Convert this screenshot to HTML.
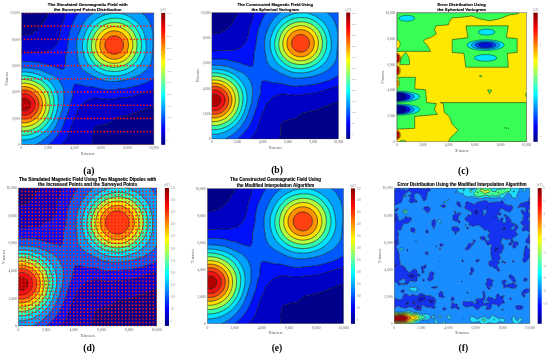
<!DOCTYPE html>
<html><head><meta charset="utf-8"><title>Geomagnetic field figure</title><style>html,body{margin:0;padding:0;background:#fff;}svg{display:block;}</style></head><body>
<svg width="550" height="355" viewBox="0 0 550 355"><defs><linearGradient id="jetg" x1="0" y1="0" x2="0" y2="1"><stop offset="0.000" stop-color="#800000"/><stop offset="0.125" stop-color="#ff0000"/><stop offset="0.250" stop-color="#ff8000"/><stop offset="0.375" stop-color="#ffff00"/><stop offset="0.500" stop-color="#80ff80"/><stop offset="0.625" stop-color="#00ffff"/><stop offset="0.750" stop-color="#0080ff"/><stop offset="0.875" stop-color="#0000ff"/><stop offset="1.000" stop-color="#000080"/></linearGradient></defs><rect width="550" height="355" fill="#fff"/>
<clipPath id="clipa"><rect x="21.50" y="12.90" width="132.40" height="131.90"/></clipPath>
<g clip-path="url(#clipa)">
<path fill="#00008a" d="M93.2 144.8l60.7 0 0-38.6 -4.4 1.2 -3.1 1.1 -15.7 6.1 -4.4 1.1 -9.9 2.1 -1.4 .6 -4.1 3.6 -1.1 .9 -1.1 .5 -1.6 .5 -5.1 1 -2.2 .5 -2.2 .7 -2.2 1.1 -1.1 1.1 -.6 2.2 -.4 3.3 -.3 5.5 -.8 5.5zM22.6 35.1l6.6-.7 2.1-.6 2-1.1 5.9-4.4 2.2-2.2 1.1-1.8 1.7-3.7 2.7-3.5 .9-2 .4-2.2 -26.7 0 0 22.3z"/>
<path fill="#0000c4" d="M62.3 144.8l29.9 0 .8-5.5 .3-5.5 .4-3.3 .6-2.2 1.1-1.1 2.2-1.1 2.2-.7 2.2-.5 5.1-1 1.6-.5 1.1-.5 1.1-.9 4.1-3.6 1.4-.6 9.9-2.1 4.4-1.1 15.7-6.1 3.1-1.1 4.4-1.2 0-16.9 -18.8 6.1 -6.6 1.5 -12.1 1.3 -4.4 .9 -2.2 .2 -5.6-.2 -7.7-1.1 -2.2-.1 -3.1 .7 -5.7 2.4 -1.1 .9 -1.8 2.2 -2.7 2.2 -1 1.1 -.6 1.1 -2.4 6.6 -2.2 4.4 -1.4 3.7 -2.6 8.4 -1.2 3.3 -2.6 4.4 -4.4 5.5zM22.6 52.9l6.6 0 6.6-.6 5.6 .4 2.2-.2 4.4-1.7 3.3-.5 4.1-4.4 1.4-1.8 1.1-1.9 .6-1.8 3.1-14.3 1.8-4.4 1.4-5.5 1.1-3.3 -17.7 0 -.4 2.2 -.9 2 -2.7 3.5 -1.7 3.7 -1.1 1.8 -2.2 2.2 -5.9 4.4 -2 1.1 -2.1 .6 -7.7 .8 0 17.8z"/>
<path fill="#0010f8" d="M49.1 144.8l12.4 0 .8-.9 3.6-4.6 2.6-4.4 1.2-3.3 2.6-8.4 1.4-3.7 2.2-4.4 2.4-6.6 .6-1.1 1-1.1 2.7-2.2 1.8-2.2 1.1-.9 5.7-2.4 3.1-.7 2.2 .1 7.7 1.1 5.6 .2 2.2-.2 4.4-.9 12.1-1.3 5.5-1.2 17.7-5.6 2.2-.8 0-11 -2.3 1.6 -4.3 2.3 -5.5 2.2 -5.6 1.7 -5.5 1.3 -4.4 .8 -15.4 1.7 -3.3-.1 -3.4-.4 -3.3-.6 -7.7-1.9 -7.7-.7 -6.6-1.7 -3.3-.4 -1.1 .1 -.9 1.2 -.2 1.1 -.8 5.5 0 3.3 -.3 2.2 -1.9 5.5 -1.7 7.7 -5.7 15.4 -2.1 4.4 -3 4.4 -4.4 5 -5.3 4.9zM61.2 69.0l1.1 .3 1.1-.1 1-1.3 .3-1.1 .6-4.4 .3-6.6 1.7-7.7 1.2-11 1.4-6.6 4.5-11 1.8-3.3 2.3-3.3 -12.6 0 -1.1 3.3 -1.4 5.5 -1.8 4.4 -2.6 12.4 -1.1 3.7 -1.1 1.9 -1.1 1.4 -4.4 4.8 -3.3 .5 -3.3 1.4 -2.2 .5 -6.7-.4 -6.6 .6 -7.7 .1 0 8.4 6.6 0 8.8 .7 7.8 2 5.5 1.1 5.5 2.3 5.3 1.5z"/>
<path fill="#0058ff" d="M35.8 144.8l12.4 0 4.2-3.8 3.3-3.5 2.2-2.6 2.3-3.3 1.8-3.3 1.5-3.3 5.2-14.3 1.7-7.7 1.9-5.5 .3-2.2 0-3.3 .8-5.5 .2-1.1 .9-1.2 1.1-.1 3.3 .4 6.6 1.7 7.7 .7 7.7 1.9 3.3 .6 3.4 .4 3.3 .1 15.4-1.7 4.4-.8 5.5-1.3 5.6-1.7 5.5-2.2 4.3-2.3 2.3-1.6 0-65.4 -12.3 0 3.8 3.3 1.9 2.2 1.5 2.2 2.1 4.4 1.5 5.5 .7 5.5 0 5.5 -1.1 16.5 -.9 4.4 -1 2.2 -2.2 3.3 -1.9 2.2 -2 1.7 -2.2 1.6 -3.3 2 -3.4 1.5 -3.3 1.3 -3.3 1.1 -4.4 1 -6.6 1 -7.7 .2 -2.2-.2 -3.4-.7 -4.4-1.4 -3.3-1.4 -3.3-1.6 -5.1-2.8 -2.6-1.7 -2.2-1.7 -2-2.1 -1.3-2 -1.1-2.4 -.9-3.3 -1.2-8.8 -.2-4.4 .1-4.4 .3-3.3 .7-3.3 3.6-8.8 1.1-2.2 2-3.2 1.8-2.3 2-2.2 2.8-2.5 2.6-1.9 -15.1 0 -1.8 2.6 -1.8 2.9 -1.5 3.3 -3.1 7.7 -1 3.3 -1.1 6.6 -.7 7.7 -1.9 8.8 -.3 6.6 -.4 3.3 -.5 2.2 -1 1.3 -1.1 .1 -5.5-1.4 -6.6-2.7 -5.5-1.1 -7.8-2 -8.8-.7 -6.6 0 0 6.5 3.3-.1 4.4 .2 8.8 1.3 5.6 2 7.7 3.5 3.3 1.8 3.3 2.9 2.2 2.7 2.2 3.9 1.2 3.7 .3 3.3 0 6.6 -.2 3.3 -.4 3.3 -3.4 11 -1.8 4.4 -1.5 3.3 -1.9 3.2 -1.6 2.3 -2.7 3.3 -2.3 2.4 -3.3 2.8 -3.3 2.5 -3.4 1.9 -2.8 1.4z"/>
<path fill="#00a0ff" d="M22.6 144.8l12.6 0 4-2 3.7-2.4 4-3.2 3.4-3.4 2.7-3.3 2.2-3.3 1.8-3.3 1.5-3.3 2-5.5 2.4-7.7 .6-3.3 .3-4.4 0-7.7 -.3-2.2 -.6-2.2 -1.4-3.3 -1.4-2.2 -2.2-2.6 -2.2-2 -2.2-1.6 -2.2-1.1 -7.7-3.5 -4.4-1.7 -3.4-.7 -5.5-.8 -6.6-.3 -2.2 .1 0 4.2 3.3-.1 4.4 .4 4.4 .8 4.4 1.2 3.4 1.4 3.3 1.9 3 2.2 2.5 2.2 1.9 2.2 1.6 2.2 1.3 2.2 1.5 3.3 .7 2.2 .7 3.3 .4 3.3 0 2.2 -.4 3.3 -.9 4.4 -.9 3.3 -1.2 3.3 -2.7 5.5 -2 3 -2.1 2.5 -2.3 2.4 -3.3 2.7 -3.3 2.2 -3.4 1.6 -3.3 1.3 -4.4 1.1 -3.3 .3 -3.3 .1 0 4.8zM106.5 81.1l2.2 .3 2.2 .1 5.5-.2 4.4-.4 6.6-1.3 6.6-2.2 5.6-2.6 4.4-3 2-1.7 1.9-2.2 2.7-4.2 .8-2.4 .6-3.3 1.1-15.4 0-6.6 -.7-5.5 -1.5-5.5 -2.1-4.4 -1.5-2.2 -1.9-2.2 -3.8-3.3 -48 0 -3.7 2.8 -2.7 2.7 -2.8 3.4 -2.6 4.3 -3.3 7.7 -.8 2.2 -.7 3.3 -.3 3.3 -.1 5.5 .4 5.5 1 6.6 1.3 4.4 1.2 2.2 1.7 2.2 2.5 2.2 3.4 2.2 5.1 2.8 4.4 2.1 5.5 2 3.2 .7zM107.9 75.6l-2.5-.6 -3.4-1.1 -3.3-1.5 -2.2-1.3 -4.4-3.2 -2.3-2.2 -1.8-2.2 -1.4-2.2 -1.7-3.3 -.8-2.2 -.9-3.3 -.6-3.3 -.2-3.3 .2-3.3 .3-2.2 .5-2.2 1.6-4.4 1.5-3.3 1.2-2.2 2.2-3.1 2.1-2.4 2.3-2.1 2.2-1.7 2.2-1.3 3.3-1.7 3.4-1.2 2.2-.6 3.3-.6 3.3-.3 3.3 0 3.3 .2 2.2 .5 3.3 1.1 3.3 1.7 2.2 1.3 4.7 3.6 2.1 2.2 2.1 2.7 1.6 2.8 1 2.2 1.2 3.3 .8 3.3 .6 3.3 .4 4.4 -.1 3.3 -.3 2.2 -.4 2.2 -1.1 3.3 -.9 2.2 -1.9 3.3 -1.6 2.2 -2 2.2 -2.5 2.2 -2.6 1.7 -2.7 1.6 -2.8 1.2 -5.5 1.7 -3.3 .5 -3.3 .3 -6.6-.3z"/>
<path fill="#00e4ff" d="M22.6 140.0l3.3-.1 3.3-.6 3.3-.8 3.3-1.3 3.4-1.6 2.2-1.4 3.3-2.5 2.4-2.3 2-2.2 2.2-3 1.5-2.5 1.7-3.3 1.6-4.4 .9-3.3 .9-4.4 .4-3.3 0-2.2 -.4-3.3 -.7-3.3 -1.2-3.3 -1.4-2.9 -1.6-2.6 -1.8-2.2 -2.1-2.1 -4.4-3.4 -3.3-1.9 -2.2-1 -3.4-1 -4.4-1.1 -3.3-.4 -3.3-.3 -3.3 .1 0 3.8 3.3-.1 4.4 .4 3.3 .7 3.3 1.1 3.4 1.3 3.3 1.9 2.7 2 2.2 2.2 1.8 2.2 1.4 2.2 2.1 4.4 1 4.4 .2 2.2 0 3.3 -.7 5.5 -1.6 5.5 -1.4 3.2 -1.3 2.3 -3.3 4.4 -2.2 2.2 -3.1 2.6 -3 1.8 -2.6 1.3 -3.3 1.2 -3.3 .8 -3.3 .3 -3.3 0 0 4.8zM108.7 75.7l6.6 .3 3.3-.3 3.3-.5 5.5-1.7 2.8-1.2 2.7-1.6 2.6-1.7 2.5-2.2 2-2.2 1.6-2.2 1.9-3.3 .9-2.2 1.1-3.3 .4-2.2 .3-2.2 .1-3.3 -.4-4.4 -.6-3.3 -.8-3.3 -1.2-3.3 -1-2.2 -1.6-2.8 -2.1-2.7 -2.1-2.2 -4.7-3.6 -2.2-1.3 -3.3-1.7 -3.3-1.1 -2.2-.5 -3.3-.2 -3.3 0 -3.3 .3 -3.3 .6 -2.2 .6 -3.4 1.2 -3.3 1.7 -2.2 1.3 -2.2 1.7 -2.3 2.1 -2.1 2.4 -2.2 3.1 -1.2 2.2 -1.5 3.3 -1.6 4.4 -.5 2.2 -.3 2.2 -.2 3.3 .2 3.3 .6 3.3 .9 3.3 .8 2.2 1.7 3.3 1.4 2.2 1.8 2.2 2.3 2.2 4.4 3.2 2.2 1.3 3.3 1.5 3.4 1.1 2.5 .6zM109.9 71.2l-3.4-.6 -2.3-.7 -4.3-2 -2.3-1.5 -2.2-1.8 -3.1-3.3 -1.5-2.2 -1.2-2.2 -1.7-4.4 -.5-2.2 -.4-3.3 0-2.2 .2-2.2 .8-3.3 1-3.3 2-4.3 1.5-2.3 1.8-2.2 3.3-3.2 2.2-1.5 2.2-1.3 2.2-1 3.4-1.1 2.2-.5 3.3-.4 3.3-.1 2.2 .2 3.3 .6 2.2 .6 2.2 .9 2.2 1.1 2.2 1.4 2.2 1.9 3.3 3.8 2.5 4.1 1 2.2 1.1 3.3 .6 3.3 .1 2.2 0 2.2 -.3 3.3 -.7 3.3 -.7 2.2 -2.1 4.4 -1.5 2.2 -2 2.2 -3.5 3 -2.2 1.4 -2.2 1.1 -2.2 .9 -3.3 .9 -4.4 .7 -2.2 0 -3.3-.2z"/>
<path fill="#30ffb0" d="M22.6 135.3l3.3-.1 3.3-.6 3.1-.8 2.4-.9 2.6-1.3 3-1.8 2.2-1.7 2.2-2.1 1.8-2.1 1.7-2.2 1.9-3.3 1.2-2.5 1.1-3 .8-3.3 .5-3.3 .3-3.3 -.1-3.3 -.3-2.2 -1.4-4.4 -1.6-3.3 -1.4-2.2 -1.8-2.2 -1.6-1.6 -2.2-1.8 -2.2-1.5 -4.5-2.1 -5.5-1.8 -3.3-.5 -3.3-.3 -3.3 .1 0 3.7 3.3-.1 3.3 .3 3.3 .7 3.3 1.1 3.3 1.6 2.3 1.5 2.3 1.8 2.1 2.2 2.3 3.3 1.1 2.2 .8 2.2 .9 4.4 .1 4.4 -.2 2.2 -.7 3.3 -1.5 4.4 -2.5 4.4 -2.5 3.1 -2.2 2.1 -2.3 1.7 -2.2 1.3 -3.3 1.6 -2.2 .7 -3.3 .7 -2.2 .2 -3.3 0 0 4.3zM110.9 71.3l3.3 .2 2.2 0 4.4-.7 3.3-.9 2.2-.9 2.2-1.1 2.2-1.4 3.5-3 2-2.2 1.5-2.2 2.1-4.4 .7-2.2 .7-3.3 .3-3.3 0-2.2 -.1-2.2 -.6-3.3 -1.1-3.3 -1-2.2 -2.5-4.1 -3.3-3.8 -2.2-1.9 -2.2-1.4 -2.2-1.1 -2.2-.9 -2.2-.6 -3.3-.6 -2.2-.2 -3.3 .1 -3.3 .4 -2.2 .5 -3.4 1.1 -2.2 1 -2.2 1.3 -2.2 1.5 -3.3 3.2 -1.8 2.2 -1.5 2.3 -2 4.3 -1 3.3 -.8 3.3 -.2 2.2 0 2.2 .4 3.3 .5 2.2 1.7 4.4 1.2 2.2 1.5 2.2 3.1 3.3 2.2 1.8 2.3 1.5 4.3 2 2.3 .7 3.4 .6zM109.4 66.8l-2.9-.8 -2.3-.8 -3.3-1.7 -3.3-2.7 -1.5-1.7 -1.6-2.2 -1.6-3.3 -.8-2.2 -.5-2.2 -.2-2.2 .1-2.2 .6-4.4 .6-2.2 .9-2.2 1.8-3.3 1.7-2.2 1.6-1.7 3.3-2.6 2.2-1.3 2.3-.9 4.4-1.2 4.4-.3 4.4 .5 4.4 1.4 3.3 1.9 3.3 2.7 1.4 1.5 1.5 2.2 1.2 2.2 .9 2.2 1.1 4.4 .2 4.4 -.6 4.4 -.6 2.2 -.9 2.2 -2 3.3 -2.8 3.3 -1.6 1.3 -2.2 1.5 -3.3 1.6 -4.4 1.2 -4.4 .4 -4.4-.5z"/>
<path fill="#b0ff40" d="M22.6 131.0l3.3-.2 2.2-.3 4.4-1.2 4.4-2.2 2.3-1.5 2.2-1.9 1.9-2 1.7-2.2 2.5-4.4 1.5-4.4 .7-3.3 .2-2.2 0-2.2 -.3-3.3 -1.1-4.4 -.9-2.2 -1.2-2.2 -2.6-3.3 -2.4-2.1 -1.6-1.2 -2.9-1.6 -2.2-1.1 -4.4-1.4 -3.3-.5 -2.2-.2 -3.3 .1 0 3.7 2.2-.2 3.3 .2 2.2 .4 3.3 1 2.2 1 3.1 1.9 1.4 1.1 2.2 2.3 2.2 3.2 1.4 3.3 .8 3.3 .3 4.4 -.7 4.4 -1.1 3.3 -1.7 3.3 -2.5 3.3 -2.1 2 -2.2 1.6 -2.2 1.3 -2.2 .9 -4.4 1.2 -2.2 .3 -3.3-.1 0 4.2zM109.8 66.8l4.4 .5 4.4-.4 4.4-1.2 3.3-1.6 2.2-1.5 1.6-1.3 2.8-3.3 2-3.3 .9-2.2 .6-2.2 .6-4.4 -.2-4.4 -1.1-4.4 -.9-2.2 -1.2-2.2 -1.5-2.2 -1.4-1.5 -3.3-2.7 -3.3-1.9 -4.4-1.4 -4.4-.5 -4.4 .3 -4.4 1.2 -2.3 .9 -2.2 1.3 -3.3 2.6 -1.6 1.7 -1.7 2.2 -1.8 3.3 -.9 2.2 -.6 2.2 -.6 4.4 -.1 2.2 .2 2.2 .5 2.2 .8 2.2 1.6 3.3 1.6 2.2 1.5 1.7 3.3 2.7 3.3 1.7 2.3 .8 2.9 .8zM108.3 62.4l-2.9-1.3 -3.4-2 -2.3-2.2 -2.2-3.3 -1.2-3.3 -.6-3.3 .1-4.4 .8-3.3 1.5-3.3 2.5-3.3 2.5-2.4 3.4-1.9 3.3-1.2 3.3-.6 2.2 0 2.2 .2 3.3 .9 3.3 1.5 3.1 2.4 1.9 2.2 2 3.3 1.2 3.3 .5 3.3 0 2.2 -.2 2.2 -.9 3.3 -1.6 3.3 -1.6 2.2 -2.2 2.2 -3.3 2.2 -3.3 1.3 -3.3 .6 -2.2 .1 -2.2-.1 -3.3-.7z"/>
<path fill="#ffe000" d="M22.6 126.8l4.4-.3 3.3-.8 2.2-.8 2.2-1.1 3.3-2.3 3-3.1 1.5-2 1.1-1.9 1.5-3.8 .9-4.4 0-4.4 -.6-3.3 -.8-2.2 -1-2.2 -2.3-3.3 -3.3-3.1 -3.3-2.1 -4.4-1.7 -4.4-.8 -4.4 .1 0 3.5 2.2-.2 2.2 .1 3.3 .6 2.2 .7 2.2 1.1 3.3 2.5 1.5 1.5 1.6 2.2 1.6 3.3 .7 3.3 .2 2.2 -.1 2.2 -.7 3.3 -1.3 3.3 -1.4 2.2 -2.1 2.4 -3.3 2.6 -3.3 1.6 -2.2 .7 -2.2 .4 -2.2 .1 -2.2-.2 0 4zM108.7 62.5l3.3 .7 2.2 .1 2.2-.1 3.3-.6 3.3-1.3 3.3-2.2 2.2-2.2 1.6-2.2 1.6-3.3 .9-3.3 .2-2.2 0-2.2 -.5-3.3 -1.2-3.3 -2-3.3 -1.9-2.2 -3.1-2.4 -3.3-1.5 -3.3-.9 -2.2-.2 -2.2 0 -3.3 .6 -3.3 1.2 -3.4 1.9 -2.5 2.4 -2.5 3.3 -1.5 3.3 -.8 3.3 -.1 4.4 .6 3.3 1.2 3.3 2.2 3.3 2.3 2.2 3.4 2 2.9 1.3zM112.1 59.1l-3.4-1 -2.2-1.1 -2.3-1.7 -1.5-1.7 -1.8-3 -.8-2.5 -.3-2.2 .2-3.3 .6-2.2 1.4-2.9 1.2-1.5 2.3-2.2 2.1-1.3 3.3-1.3 2.2-.4 3.3 .1 2.7 .7 2.4 1.1 1.6 1.1 2.3 2.2 1.5 2.2 1.2 3.3 .4 2.2 -.1 3.3 -.8 3.3 -1.1 2.2 -1.7 2.2 -1.8 1.6 -2.2 1.4 -2.2 .9 -2.2 .5 -3.3 .1z"/>
<path fill="#ff9000" d="M22.6 122.9l3.3-.1 3.3-.7 3.3-1.4 3.3-2.2 2.4-2.3 2.2-3.3 1.3-3.3 .7-3.3 .1-3.3 -.6-3.3 -1.3-3.3 -2.2-3.3 -2.6-2.5 -3.3-2.1 -3.3-1.2 -3.3-.6 -2.2-.1 -2.2 .2 0 3.5 3.3-.3 3.3 .5 3.3 1.3 2.1 1.3 1.2 1.1 2.2 2.8 1.3 2.7 .8 3.3 -.1 3.3 -.8 3.3 -1.1 2.2 -1.6 2.2 -2.4 2.2 -2.7 1.6 -3.3 1.1 -3.3 .3 -2.2-.2 0 3.7 .8 .1zM113.1 59.2l3.3-.1 2.2-.5 2.2-.9 2.2-1.4 1.8-1.6 1.7-2.2 1.1-2.2 .8-3.3 .1-3.3 -.4-2.2 -1.2-3.3 -1.5-2.2 -2.3-2.2 -1.6-1.1 -2.4-1.1 -2.7-.7 -3.3-.1 -2.2 .4 -3.3 1.3 -2.1 1.3 -2.3 2.2 -1.2 1.5 -1.4 2.9 -.6 2.2 -.2 3.3 .3 2.2 .8 2.5 1.8 3 1.5 1.7 2.3 1.7 2.2 1.1 3.4 1zM110.6 53.6l-1.9-1.1 -1.4-1.1 -.9-1.1 -1-2.1 -.4-1.2 -.2-2.2 .3-2.2 .4-1.1 1-1.7 1.1-1.3 1.8-1.4 1.5-.7 1.3-.4 2-.2 2.1 .2 1.2 .3 1.5 .8 1.8 1.3 1.1 1.4 .9 1.7 .4 1.1 .3 2.2 -.2 2.2 -.3 1.1 -1.1 2.2 -.9 1.1 -1.3 1.1 -1.9 1.1 -1.4 .4 -2.2 .3 -2.2-.3 -1.1-.3z"/>
<path fill="#ff4010" d="M22.6 119.1l3.3 0 2.2-.5 3.2-1.3 2.3-1.6 1.8-1.7 1.6-2.2 1.1-2.2 .8-3.3 .1-2.2 -.4-3.3 -1.4-3.3 -1.4-2 -2.2-2.2 -2.2-1.5 -2.2-1 -3.3-.7 -2.2 0 -2.2 .2 0 3.8 3.3-.4 2.2 .3 2.2 .8 2.5 1.6 1.9 2.2 1.1 2.2 .5 2.2 -.1 3.3 -.6 2.2 -1.3 2.2 -.9 1.1 -2 1.7 -2.2 1.1 -2.2 .6 -2.2 .1 -2.2-.3 0 4zM110.9 53.7l1.1 .3 2.2 .3 2.2-.3 1.4-.4 1.9-1.1 1.3-1.1 .9-1.1 1.1-2.2 .3-1.1 .2-2.2 -.3-2.2 -.4-1.1 -.9-1.7 -1.1-1.4 -1.8-1.3 -1.5-.8 -1.2-.3 -2.1-.2 -2 .2 -1.3 .4 -1.5 .7 -1.8 1.4 -1.1 1.3 -1 1.7 -.4 1.1 -.3 2.2 .2 2.2 .4 1.2 1 2.1 .9 1.1 1.4 1.1 1.9 1.1z"/>
<path fill="#f01010" d="M22.6 115.2l2.2 .1 2.2-.3 2.2-.9 1.1-.6 2-1.7 .9-1.1 1.3-2.2 .6-2.2 .2-2.2 -.3-2.2 -.3-1.1 -1.1-2.2 -1.1-1.3 -2.2-1.9 -2.2-1 -1.1-.4 -2.2-.3 -3.3 .4 0 4.7 1.1-.4 2.2-.3 2.2 .5 1.8 1.1 1 1.1 .9 2.2 .1 2.2 -.2 1.1 -.5 1.1 -.9 1.3 -1.1 .9 -1.1 .7 -1.1 .3 -2.2 .2 -2.2-.6 0 4.8 .5 .1z"/>
<path fill="#b00000" d="M23.7 110.8l2.2-.2 2.2-1 1.1-.9 .9-1.3 .7-2.2 -.1-2.2 -.9-2.2 -1.7-1.6 -2.2-1 -2.2-.1 -2.2 .7 0 11.4 1.7 .5z"/>
<path fill="none" stroke="#000" stroke-width="0.55" d="M92.2 144.8l.8-5.5 .3-5.5 .4-3.3 .6-2.2 1.1-1.1 2.2-1.1 2.2-.7 2.2-.5 5.1-1 1.6-.5 1.1-.5 1.1-.9 4.1-3.6 1.4-.6 9.9-2.1 4.4-1.1 15.7-6.1 3.1-1.1 4.4-1.2M48.2 12.9l-.4 2.2 -.9 2 -2.7 3.5 -1.7 3.7 -1.1 1.8 -2.2 2.2 -5.9 4.4 -2 1.1 -2.1 .6 -7.7 .8M61.5 144.8l4.4-5.5 2.6-4.4 1.2-3.3 2.6-8.4 1.4-3.7 2.2-4.4 2.4-6.6 .6-1.1 1-1.1 2.7-2.2 1.8-2.2 1.1-.9 5.7-2.4 3.1-.7 2.2 .1 7.7 1.1 5.6 .2 2.2-.2 4.4-.9 12.1-1.3 6.6-1.5 18.8-6.1M65.9 12.9l-1.1 3.3 -1.4 5.5 -1.8 4.4 -2.6 12.4 -1.1 3.7 -1.1 1.9 -1.1 1.4 -4.4 4.8 -3.3 .5 -3.3 1.4 -2.2 .5 -6.7-.4 -6.6 .6 -7.7 .1M48.2 144.8l5.3-4.9 4.4-5 3-4.4 2.1-4.4 5.7-15.4 1.7-7.7 1.9-5.5 .3-2.2 0-3.3 .8-5.5 .2-1.1 .9-1.2 1.1-.1 3.3 .4 6.6 1.7 7.7 .7 7.7 1.9 3.3 .6 3.4 .4 3.3 .1 15.4-1.7 4.4-.8 5.5-1.3 5.6-1.7 5.5-2.2 4.3-2.3 2.3-1.6M78.5 12.9l-2.3 3.3 -1.8 3.3 -4.1 9.9 -.7 2.2 -1.2 6.6 -.9 8.8 -1.9 8.8 -.3 6.6 -.4 3.3 -.5 2.2 -.7 1.1 -.3 .2 -1.1 .1 -1.1-.3 -5.5-1.5 -5.5-2.3 -5.5-1.1 -7.8-2 -8.8-.7 -6.6 0M35.2 144.8l2.8-1.4 3.4-1.9 3.3-2.5 3.3-2.8 2.3-2.4 2.7-3.3 1.6-2.3 1.9-3.2 1.5-3.3 1.8-4.4 3.4-11 .4-3.3 .2-3.3 0-6.6 -.3-3.3 -.6-2.2 -.9-2.2 -1.2-2.2 -1.5-2.2 -1.4-1.5 -2.2-2 -3.3-2.2 -9.9-4.5 -4.5-1.5 -8.8-1.3 -4.4-.2 -3.3 .1M93.6 12.9l-2.6 1.9 -2.8 2.5 -2 2.2 -1.8 2.3 -2 3.2 -1.1 2.2 -3.6 8.8 -.5 2.2 -.4 3.3 -.2 6.6 .4 5.5 1.2 7.7 1.1 3.3 1.8 3 2.3 2.5 3.2 2.3 6.6 3.8 6.6 3 5.6 1.7 3.3 .5 2.2 .1 6.6-.2 6.6-1 6.6-1.7 5.5-2.2 4.5-2.3 4.1-2.9 3.1-3.3 1.6-2.2 1.2-2.2 .7-2.2 .6-3.3 1.1-15.4 0-6.6 -.7-5.5 -1.5-5.5 -2.1-4.4 -1.5-2.2 -1.9-2.2 -3.8-3.3M21.5 140.0l3.3-.1 3.3-.3 3.3-.8 3.3-1.1 3.3-1.5 3.4-2 3.3-2.5 2.4-2.3 2-2.2 2.4-3.3 1.9-3.3 1.5-3.3 1.5-4.4 .9-3.3 .8-4.4 .2-3.3 -.2-3.3 -.6-3.3 -1-3.3 -.9-2.2 -1.9-3.3 -1.6-2.2 -1.9-2.2 -2.5-2.2 -2.9-2.1 -2.3-1.4 -2.2-1.1 -3.4-1.2 -4.4-1.1 -3.3-.6 -4.4-.4 -3.3 .1M108.7 75.7l6.6 .3 3.3-.3 3.3-.5 5.5-1.7 2.8-1.2 2.7-1.6 2.6-1.7 2.5-2.2 2-2.2 1.6-2.2 1.9-3.3 .9-2.2 1.1-3.3 .4-2.2 .3-2.2 .1-3.3 -.4-4.4 -.6-3.3 -.8-3.3 -1.2-3.3 -1-2.2 -1.6-2.8 -2.1-2.7 -2.1-2.2 -4.7-3.6 -2.2-1.3 -3.3-1.7 -3.3-1.1 -2.2-.5 -3.3-.2 -3.3 0 -3.3 .3 -3.3 .6 -2.2 .6 -3.4 1.2 -3.3 1.7 -2.2 1.3 -2.2 1.7 -2.3 2.1 -2.1 2.4 -2.2 3.1 -1.2 2.2 -1.5 3.3 -1.6 4.4 -.5 2.2 -.3 2.2 -.2 3.3 .2 3.3 .6 3.3 .9 3.3 .8 2.2 1.7 3.3 1.4 2.2 1.8 2.2 2.3 2.2 4.4 3.2 2.2 1.3 3.3 1.5 3.4 1.1 2.5 .6zM21.5 135.2l3.3 0 3.3-.3 3.3-.8 2.2-.8 3.3-1.5 2.3-1.3 3-2.2 2.5-2.3 2.2-2.5 2-2.9 1.3-2.3 1.4-3.2 1.1-3.3 .7-3.3 .4-3.3 .2-3.3 -.3-3.3 -.4-2.2 -.9-2.9 -1.1-2.5 -1.3-2.3 -1.6-2.2 -2.1-2.2 -1.6-1.5 -2.2-1.6 -2.2-1.3 -3.4-1.5 -3.3-1.2 -3.3-.8 -3.3-.5 -3.3-.1 -2.2 .1M110.9 71.3l3.3 .2 2.2 0 4.4-.7 3.3-.9 2.2-.9 2.2-1.1 2.2-1.4 3.5-3 2-2.2 1.5-2.2 2.1-4.4 .7-2.2 .7-3.3 .3-3.3 0-2.2 -.1-2.2 -.6-3.3 -1.1-3.3 -1-2.2 -2.5-4.1 -3.3-3.8 -2.2-1.9 -2.2-1.4 -2.2-1.1 -2.2-.9 -2.2-.6 -3.3-.6 -2.2-.2 -3.3 .1 -3.3 .4 -2.2 .5 -3.4 1.1 -2.2 1 -2.2 1.3 -2.2 1.5 -3.3 3.2 -1.8 2.2 -1.5 2.3 -2 4.3 -1 3.3 -.8 3.3 -.2 2.2 0 2.2 .4 3.3 .5 2.2 1.7 4.4 1.2 2.2 1.5 2.2 3.1 3.3 2.2 1.8 2.3 1.5 4.3 2 2.3 .7 3.4 .6zM21.5 130.9l3.3 0 2.2-.2 3.3-.7 2.2-.7 4.4-2.2 2.3-1.5 2.2-1.9 1.9-2 1.7-2.2 2.5-4.4 .8-2.2 1-3.3 .5-3.3 .1-2.2 -.1-3.3 -.4-2.2 -1.3-4.4 -1.1-2.2 -1.4-2.2 -3.1-3.4 -2.2-1.7 -2.3-1.5 -2.2-1.1 -3.3-1.3 -2.2-.6 -3.3-.5 -3.3-.2 -2.2 .1M109.8 66.8l4.4 .5 4.4-.4 4.4-1.2 3.3-1.6 2.2-1.5 1.6-1.3 2.8-3.3 2-3.3 .9-2.2 .6-2.2 .6-4.4 -.2-4.4 -1.1-4.4 -.9-2.2 -1.2-2.2 -1.5-2.2 -1.4-1.5 -3.3-2.7 -3.3-1.9 -4.4-1.4 -4.4-.5 -4.4 .3 -4.4 1.2 -2.3 .9 -2.2 1.3 -3.3 2.6 -1.6 1.7 -1.7 2.2 -1.8 3.3 -.9 2.2 -.6 2.2 -.6 4.4 -.1 2.2 .2 2.2 .5 2.2 .8 2.2 1.6 3.3 1.6 2.2 1.5 1.7 3.3 2.7 3.3 1.7 2.3 .8 2.9 .8zM21.5 126.7l3.3 .1 2.2-.3 4.4-1.2 2.2-.9 2.2-1.3 3.2-2.5 2.9-3.3 1.4-2.2 1-2.2 1.4-4.4 .4-4.4 -.5-4.4 -.6-2.2 -.9-2.2 -1.9-3.3 -3-3.3 -2.3-1.7 -2.2-1.3 -4.4-1.7 -4.4-.8 -4.4 .1M108.7 62.5l3.3 .7 2.2 .1 2.2-.1 3.3-.6 3.3-1.3 3.3-2.2 2.2-2.2 1.6-2.2 1.6-3.3 .9-3.3 .2-2.2 0-2.2 -.5-3.3 -1.2-3.3 -2-3.3 -1.9-2.2 -3.1-2.4 -3.3-1.5 -3.3-.9 -2.2-.2 -2.2 0 -3.3 .6 -3.3 1.2 -3.4 1.9 -2.5 2.4 -2.5 3.3 -1.5 3.3 -.8 3.3 -.1 4.4 .6 3.3 1.2 3.3 2.2 3.3 2.3 2.2 3.4 2 2.9 1.3zM21.5 122.7l3.3 .2 2.2-.3 2.2-.5 3.3-1.4 3.5-2.3 1.2-1.1 1.8-2.2 1.9-3.3 1.1-3.3 .4-2.2 .1-2.2 -.2-2.2 -.4-2.2 -1.3-3.3 -2.2-3.3 -2.2-2.2 -3.3-2.2 -3.7-1.4 -3.3-.6 -2.2-.1 -2.2 .2M113.1 59.2l3.3-.1 2.2-.5 2.2-.9 2.2-1.4 1.8-1.6 1.7-2.2 1.1-2.2 .8-3.3 .1-3.3 -.4-2.2 -1.2-3.3 -1.5-2.2 -2.3-2.2 -1.6-1.1 -2.4-1.1 -2.7-.7 -3.3-.1 -2.2 .4 -3.3 1.3 -2.1 1.3 -2.3 2.2 -1.2 1.5 -1.4 2.9 -.6 2.2 -.2 3.3 .3 2.2 .8 2.5 1.8 3 1.5 1.7 2.3 1.7 2.2 1.1 3.4 1zM21.5 119.0l3.3 .2 3.3-.6 3.2-1.3 2.3-1.6 2.2-2.2 1.8-2.8 1.1-3.3 .3-3.3 -.4-3.3 -.8-2.2 -2-3.1 -2.2-2.2 -2.2-1.5 -3.3-1.3 -3.3-.5 -3.3 .3M110.9 53.7l1.1 .3 2.2 .3 2.2-.3 1.4-.4 1.9-1.1 1.3-1.1 .9-1.1 1.1-2.2 .3-1.1 .2-2.2 -.3-2.2 -.4-1.1 -.9-1.7 -1.1-1.4 -1.8-1.3 -1.5-.8 -1.2-.3 -2.1-.2 -2 .2 -1.3 .4 -1.5 .7 -1.8 1.4 -1.1 1.3 -1 1.7 -.4 1.1 -.3 2.2 .2 2.2 .4 1.2 1 2.1 .9 1.1 1.4 1.1 1.9 1.1zM21.5 115.0l2.2 .3 3.3-.3 2.2-.9 1.9-1.2 2.1-2.2 1.3-2.2 .6-2.2 .2-2.2 -.6-3 -1.1-2.4 -1.1-1.4 -2.2-1.9 -2.2-1 -2.2-.6 -2.2 0 -2.2 .3M21.5 110.2l1.1 .4 2.2 .2 2.2-.5 1.1-.7 1.1-.9 .9-1.3 .5-1.1 .3-2.2 -.5-2.2 -.6-1.1 -1.7-1.6 -1.1-.6 -2.2-.5 -2.2 .3 -1.1 .4"/><path d="M21.50 144.80h0M24.81 144.80h0M28.12 144.80h0M31.43 144.80h0M34.74 144.80h0M38.05 144.80h0M41.36 144.80h0M44.67 144.80h0M47.98 144.80h0M51.29 144.80h0M54.60 144.80h0M57.91 144.80h0M61.22 144.80h0M64.53 144.80h0M67.84 144.80h0M71.15 144.80h0M74.46 144.80h0M77.77 144.80h0M81.08 144.80h0M84.39 144.80h0M87.70 144.80h0M91.01 144.80h0M94.32 144.80h0M97.63 144.80h0M100.94 144.80h0M104.25 144.80h0M107.56 144.80h0M110.87 144.80h0M114.18 144.80h0M117.49 144.80h0M120.80 144.80h0M124.11 144.80h0M127.42 144.80h0M130.73 144.80h0M134.04 144.80h0M137.35 144.80h0M140.66 144.80h0M143.97 144.80h0M147.28 144.80h0M150.59 144.80h0M153.90 144.80h0M21.50 131.61h0M24.81 131.61h0M28.12 131.61h0M31.43 131.61h0M34.74 131.61h0M38.05 131.61h0M41.36 131.61h0M44.67 131.61h0M47.98 131.61h0M51.29 131.61h0M54.60 131.61h0M57.91 131.61h0M61.22 131.61h0M64.53 131.61h0M67.84 131.61h0M71.15 131.61h0M74.46 131.61h0M77.77 131.61h0M81.08 131.61h0M84.39 131.61h0M87.70 131.61h0M91.01 131.61h0M94.32 131.61h0M97.63 131.61h0M100.94 131.61h0M104.25 131.61h0M107.56 131.61h0M110.87 131.61h0M114.18 131.61h0M117.49 131.61h0M120.80 131.61h0M124.11 131.61h0M127.42 131.61h0M130.73 131.61h0M134.04 131.61h0M137.35 131.61h0M140.66 131.61h0M143.97 131.61h0M147.28 131.61h0M150.59 131.61h0M153.90 131.61h0M21.50 118.42h0M24.81 118.42h0M28.12 118.42h0M31.43 118.42h0M34.74 118.42h0M38.05 118.42h0M41.36 118.42h0M44.67 118.42h0M47.98 118.42h0M51.29 118.42h0M54.60 118.42h0M57.91 118.42h0M61.22 118.42h0M64.53 118.42h0M67.84 118.42h0M71.15 118.42h0M74.46 118.42h0M77.77 118.42h0M81.08 118.42h0M84.39 118.42h0M87.70 118.42h0M91.01 118.42h0M94.32 118.42h0M97.63 118.42h0M100.94 118.42h0M104.25 118.42h0M107.56 118.42h0M110.87 118.42h0M114.18 118.42h0M117.49 118.42h0M120.80 118.42h0M124.11 118.42h0M127.42 118.42h0M130.73 118.42h0M134.04 118.42h0M137.35 118.42h0M140.66 118.42h0M143.97 118.42h0M147.28 118.42h0M150.59 118.42h0M153.90 118.42h0M21.50 105.23h0M24.81 105.23h0M28.12 105.23h0M31.43 105.23h0M34.74 105.23h0M38.05 105.23h0M41.36 105.23h0M44.67 105.23h0M47.98 105.23h0M51.29 105.23h0M54.60 105.23h0M57.91 105.23h0M61.22 105.23h0M64.53 105.23h0M67.84 105.23h0M71.15 105.23h0M74.46 105.23h0M77.77 105.23h0M81.08 105.23h0M84.39 105.23h0M87.70 105.23h0M91.01 105.23h0M94.32 105.23h0M97.63 105.23h0M100.94 105.23h0M104.25 105.23h0M107.56 105.23h0M110.87 105.23h0M114.18 105.23h0M117.49 105.23h0M120.80 105.23h0M124.11 105.23h0M127.42 105.23h0M130.73 105.23h0M134.04 105.23h0M137.35 105.23h0M140.66 105.23h0M143.97 105.23h0M147.28 105.23h0M150.59 105.23h0M153.90 105.23h0M21.50 92.04h0M24.81 92.04h0M28.12 92.04h0M31.43 92.04h0M34.74 92.04h0M38.05 92.04h0M41.36 92.04h0M44.67 92.04h0M47.98 92.04h0M51.29 92.04h0M54.60 92.04h0M57.91 92.04h0M61.22 92.04h0M64.53 92.04h0M67.84 92.04h0M71.15 92.04h0M74.46 92.04h0M77.77 92.04h0M81.08 92.04h0M84.39 92.04h0M87.70 92.04h0M91.01 92.04h0M94.32 92.04h0M97.63 92.04h0M100.94 92.04h0M104.25 92.04h0M107.56 92.04h0M110.87 92.04h0M114.18 92.04h0M117.49 92.04h0M120.80 92.04h0M124.11 92.04h0M127.42 92.04h0M130.73 92.04h0M134.04 92.04h0M137.35 92.04h0M140.66 92.04h0M143.97 92.04h0M147.28 92.04h0M150.59 92.04h0M153.90 92.04h0M21.50 78.85h0M24.81 78.85h0M28.12 78.85h0M31.43 78.85h0M34.74 78.85h0M38.05 78.85h0M41.36 78.85h0M44.67 78.85h0M47.98 78.85h0M51.29 78.85h0M54.60 78.85h0M57.91 78.85h0M61.22 78.85h0M64.53 78.85h0M67.84 78.85h0M71.15 78.85h0M74.46 78.85h0M77.77 78.85h0M81.08 78.85h0M84.39 78.85h0M87.70 78.85h0M91.01 78.85h0M94.32 78.85h0M97.63 78.85h0M100.94 78.85h0M104.25 78.85h0M107.56 78.85h0M110.87 78.85h0M114.18 78.85h0M117.49 78.85h0M120.80 78.85h0M124.11 78.85h0M127.42 78.85h0M130.73 78.85h0M134.04 78.85h0M137.35 78.85h0M140.66 78.85h0M143.97 78.85h0M147.28 78.85h0M150.59 78.85h0M153.90 78.85h0M21.50 65.66h0M24.81 65.66h0M28.12 65.66h0M31.43 65.66h0M34.74 65.66h0M38.05 65.66h0M41.36 65.66h0M44.67 65.66h0M47.98 65.66h0M51.29 65.66h0M54.60 65.66h0M57.91 65.66h0M61.22 65.66h0M64.53 65.66h0M67.84 65.66h0M71.15 65.66h0M74.46 65.66h0M77.77 65.66h0M81.08 65.66h0M84.39 65.66h0M87.70 65.66h0M91.01 65.66h0M94.32 65.66h0M97.63 65.66h0M100.94 65.66h0M104.25 65.66h0M107.56 65.66h0M110.87 65.66h0M114.18 65.66h0M117.49 65.66h0M120.80 65.66h0M124.11 65.66h0M127.42 65.66h0M130.73 65.66h0M134.04 65.66h0M137.35 65.66h0M140.66 65.66h0M143.97 65.66h0M147.28 65.66h0M150.59 65.66h0M153.90 65.66h0M21.50 52.47h0M24.81 52.47h0M28.12 52.47h0M31.43 52.47h0M34.74 52.47h0M38.05 52.47h0M41.36 52.47h0M44.67 52.47h0M47.98 52.47h0M51.29 52.47h0M54.60 52.47h0M57.91 52.47h0M61.22 52.47h0M64.53 52.47h0M67.84 52.47h0M71.15 52.47h0M74.46 52.47h0M77.77 52.47h0M81.08 52.47h0M84.39 52.47h0M87.70 52.47h0M91.01 52.47h0M94.32 52.47h0M97.63 52.47h0M100.94 52.47h0M104.25 52.47h0M107.56 52.47h0M110.87 52.47h0M114.18 52.47h0M117.49 52.47h0M120.80 52.47h0M124.11 52.47h0M127.42 52.47h0M130.73 52.47h0M134.04 52.47h0M137.35 52.47h0M140.66 52.47h0M143.97 52.47h0M147.28 52.47h0M150.59 52.47h0M153.90 52.47h0M21.50 39.28h0M24.81 39.28h0M28.12 39.28h0M31.43 39.28h0M34.74 39.28h0M38.05 39.28h0M41.36 39.28h0M44.67 39.28h0M47.98 39.28h0M51.29 39.28h0M54.60 39.28h0M57.91 39.28h0M61.22 39.28h0M64.53 39.28h0M67.84 39.28h0M71.15 39.28h0M74.46 39.28h0M77.77 39.28h0M81.08 39.28h0M84.39 39.28h0M87.70 39.28h0M91.01 39.28h0M94.32 39.28h0M97.63 39.28h0M100.94 39.28h0M104.25 39.28h0M107.56 39.28h0M110.87 39.28h0M114.18 39.28h0M117.49 39.28h0M120.80 39.28h0M124.11 39.28h0M127.42 39.28h0M130.73 39.28h0M134.04 39.28h0M137.35 39.28h0M140.66 39.28h0M143.97 39.28h0M147.28 39.28h0M150.59 39.28h0M153.90 39.28h0M21.50 26.09h0M24.81 26.09h0M28.12 26.09h0M31.43 26.09h0M34.74 26.09h0M38.05 26.09h0M41.36 26.09h0M44.67 26.09h0M47.98 26.09h0M51.29 26.09h0M54.60 26.09h0M57.91 26.09h0M61.22 26.09h0M64.53 26.09h0M67.84 26.09h0M71.15 26.09h0M74.46 26.09h0M77.77 26.09h0M81.08 26.09h0M84.39 26.09h0M87.70 26.09h0M91.01 26.09h0M94.32 26.09h0M97.63 26.09h0M100.94 26.09h0M104.25 26.09h0M107.56 26.09h0M110.87 26.09h0M114.18 26.09h0M117.49 26.09h0M120.80 26.09h0M124.11 26.09h0M127.42 26.09h0M130.73 26.09h0M134.04 26.09h0M137.35 26.09h0M140.66 26.09h0M143.97 26.09h0M147.28 26.09h0M150.59 26.09h0M153.90 26.09h0M21.50 12.90h0M24.81 12.90h0M28.12 12.90h0M31.43 12.90h0M34.74 12.90h0M38.05 12.90h0M41.36 12.90h0M44.67 12.90h0M47.98 12.90h0M51.29 12.90h0M54.60 12.90h0M57.91 12.90h0M61.22 12.90h0M64.53 12.90h0M67.84 12.90h0M71.15 12.90h0M74.46 12.90h0M77.77 12.90h0M81.08 12.90h0M84.39 12.90h0M87.70 12.90h0M91.01 12.90h0M94.32 12.90h0M97.63 12.90h0M100.94 12.90h0M104.25 12.90h0M107.56 12.90h0M110.87 12.90h0M114.18 12.90h0M117.49 12.90h0M120.80 12.90h0M124.11 12.90h0M127.42 12.90h0M130.73 12.90h0M134.04 12.90h0M137.35 12.90h0M140.66 12.90h0M143.97 12.90h0M147.28 12.90h0M150.59 12.90h0M153.90 12.90h0" stroke="#ff1a1a" stroke-width="1.70" stroke-linecap="round"/>
</g>
<rect x="21.50" y="12.90" width="132.40" height="131.90" fill="none" stroke="#333" stroke-width="0.4"/>
<text x="87.70" y="5.95" font-family="Liberation Sans, Arial, sans-serif" font-weight="bold" font-size="4.37" text-anchor="middle" fill="#000" stroke="#000" stroke-width="0.12">The Simulated Geomagnetic Field with</text>
<text x="87.70" y="11.38" font-family="Liberation Sans, Arial, sans-serif" font-weight="bold" font-size="4.37" text-anchor="middle" fill="#000" stroke="#000" stroke-width="0.12">the Surveyed Points Distribution</text>
<text x="19.91" y="146.05" font-family="Liberation Serif, Times New Roman, serif" font-size="3.57" text-anchor="end" fill="#666">0</text>
<text x="21.50" y="149.43" font-family="Liberation Serif, Times New Roman, serif" font-size="3.57" text-anchor="middle" fill="#666">0</text>
<text x="19.91" y="119.67" font-family="Liberation Serif, Times New Roman, serif" font-size="3.57" text-anchor="end" fill="#666">2,000</text>
<text x="47.98" y="149.43" font-family="Liberation Serif, Times New Roman, serif" font-size="3.57" text-anchor="middle" fill="#666">2,000</text>
<text x="19.91" y="93.29" font-family="Liberation Serif, Times New Roman, serif" font-size="3.57" text-anchor="end" fill="#666">4,000</text>
<text x="74.46" y="149.43" font-family="Liberation Serif, Times New Roman, serif" font-size="3.57" text-anchor="middle" fill="#666">4,000</text>
<text x="19.91" y="66.91" font-family="Liberation Serif, Times New Roman, serif" font-size="3.57" text-anchor="end" fill="#666">6,000</text>
<text x="100.94" y="149.43" font-family="Liberation Serif, Times New Roman, serif" font-size="3.57" text-anchor="middle" fill="#666">6,000</text>
<text x="19.91" y="40.53" font-family="Liberation Serif, Times New Roman, serif" font-size="3.57" text-anchor="end" fill="#666">8,000</text>
<text x="127.42" y="149.43" font-family="Liberation Serif, Times New Roman, serif" font-size="3.57" text-anchor="middle" fill="#666">8,000</text>
<text x="19.91" y="14.15" font-family="Liberation Serif, Times New Roman, serif" font-size="3.57" text-anchor="end" fill="#666">10,000</text>
<text x="153.90" y="149.43" font-family="Liberation Serif, Times New Roman, serif" font-size="3.57" text-anchor="middle" fill="#666">10,000</text>
<text x="87.70" y="154.99" font-family="Liberation Serif, Times New Roman, serif" font-size="3.75" text-anchor="middle" fill="#555">X/meters</text>
<text transform="translate(8.39 78.85) rotate(-90)" font-family="Liberation Serif, Times New Roman, serif" font-size="3.75" text-anchor="middle" fill="#555">Y/meters</text>
<rect x="161.20" y="12.90" width="4.00" height="131.90" fill="url(#jetg)"/>
<text x="163.20" y="11.31" font-family="Liberation Serif, Times New Roman, serif" font-size="3.22" text-anchor="middle" fill="#888">(nT)</text>
<text x="166.79" y="13.97" font-family="Liberation Serif, Times New Roman, serif" font-size="2.86" fill="#999">550</text>
<text x="166.79" y="25.54" font-family="Liberation Serif, Times New Roman, serif" font-size="2.86" fill="#999">500</text>
<text x="166.79" y="37.12" font-family="Liberation Serif, Times New Roman, serif" font-size="2.86" fill="#999">450</text>
<text x="166.79" y="48.69" font-family="Liberation Serif, Times New Roman, serif" font-size="2.86" fill="#999">400</text>
<text x="166.79" y="60.26" font-family="Liberation Serif, Times New Roman, serif" font-size="2.86" fill="#999">350</text>
<text x="166.79" y="71.83" font-family="Liberation Serif, Times New Roman, serif" font-size="2.86" fill="#999">300</text>
<text x="166.79" y="83.40" font-family="Liberation Serif, Times New Roman, serif" font-size="2.86" fill="#999">250</text>
<text x="166.79" y="94.97" font-family="Liberation Serif, Times New Roman, serif" font-size="2.86" fill="#999">200</text>
<text x="166.79" y="106.55" font-family="Liberation Serif, Times New Roman, serif" font-size="2.86" fill="#999">150</text>
<text x="166.79" y="118.12" font-family="Liberation Serif, Times New Roman, serif" font-size="2.86" fill="#999">100</text>
<text x="166.79" y="129.69" font-family="Liberation Serif, Times New Roman, serif" font-size="2.86" fill="#999">50</text>
<text x="166.79" y="141.26" font-family="Liberation Serif, Times New Roman, serif" font-size="2.86" fill="#999">0</text>
<text x="88.90" y="173.60" font-family="Liberation Serif, Times New Roman, serif" font-weight="bold" font-size="9.6" text-anchor="middle" fill="#000">(a)</text>
<clipPath id="clipb"><rect x="211.90" y="12.50" width="126.70" height="126.40"/></clipPath>
<g clip-path="url(#clipb)">
<path fill="#00008a" d="M280.5 138.9l58.1 0 0-37 -4.2 1.2 -3 1 -15 5.8 -4.2 1.1 -9.5 2.1 -1.3 .5 -4 3.5 -2.1 1.3 -8.4 1.9 -2.1 .7 -2.2 1 -1 1.1 -.6 2.1 -.4 3.2 -.2 5.2 -.8 5.3zM213.0 33.8l6.3-.7 2-.6 1.9-1 5.6-4.3 2.1-2.1 1.1-1.7 1.6-3.5 2.6-3.4 .9-1.9 .3-2.1 -25.5 0 0 21.3z"/>
<path fill="#0000c4" d="M251.0 138.9l28.6 0 .8-5.3 .2-5.2 .4-3.2 .6-2.1 1-1.1 2.2-1 2.1-.7 8.4-1.9 2.1-1.3 4-3.5 1.3-.5 9.5-2.1 4.2-1.1 15-5.8 3-1 4.2-1.2 0-16.1 -17.9 5.7 -6.4 1.5 -11.6 1.3 -4.2 .8 -2.1 .2 -5.3-.2 -7.4-1.1 -2.1 0 -3 .7 -5.5 2.2 -1 .9 -1.7 2.1 -2.6 2.1 -.9 1.1 -.6 1 -2.3 6.4 -2.2 4.2 -1.3 3.5 -2.4 8.1 -1.2 3.1 -2.5 4.2 -4.2 5.3zM213.0 50.9l6.3-.1 6.3-.6 5.3 .4 2.1-.1 4.2-1.7 3.2-.5 4-4.2 1.3-1.7 1-1.8 .6-1.8 3-13.7 1.7-4.2 1.3-5.2 1.1-3.2 -17 0 -.3 2.1 -.9 1.9 -2.6 3.4 -1.6 3.5 -1.1 1.7 -2.1 2.1 -5.6 4.3 -1.9 1 -2 .6 -7.4 .7 0 17.1z"/>
<path fill="#0010f8" d="M238.3 138.9l11.9 0 .8-.9 3.4-4.4 2.5-4.2 1.2-3.1 2.4-8.1 1.3-3.5 2.2-4.2 2.3-6.4 .6-1 .9-1.1 2.6-2.1 1.7-2.1 1-.9 5.5-2.2 3-.7 2.1 0 7.4 1.1 5.3 .2 2.1-.2 4.2-.8 11.6-1.3 5.3-1.1 16.9-5.4 2.1-.7 0-10.6 -2.2 1.6 -4.1 2.1 -5.3 2.2 -5.3 1.5 -5.3 1.3 -4.2 .8 -14.8 1.5 -3.1 0 -3.2-.4 -3.2-.5 -7.4-1.9 -7.4-.7 -6.3-1.5 -3.2-.5 -1 .1 -.9 1.2 -.2 1.1 -.7 5.2 0 3.2 -.3 2.1 -1.8 5.3 -1.6 7.3 -5.4 14.8 -2.1 4.2 -2.9 4.2 -4.2 4.8 -5 4.7zM249.9 66.3l1.1 .2 1 0 1-1.3 .3-1.1 .5-4.2 .3-6.3 1.6-7.4 1.2-10.5 1.3-6.3 4.3-10.6 1.7-3.1 2.3-3.2 -12.1 0 -1.1 3.2 -1.3 5.2 -1.7 4.2 -2.5 12 -1.1 3.5 -1 1.8 -1.1 1.4 -4.2 4.5 -3.2 .5 -3.1 1.3 -2.1 .6 -6.4-.5 -6.3 .6 -7.4 .1 0 8.1 6.3 0 8.5 .6 7.4 2 5.3 1.1 5.2 2.1 5.1 1.4z"/>
<path fill="#0058ff" d="M225.6 138.9l11.9 0 4-3.7 3.1-3.3 2.1-2.5 2.2-3.1 1.8-3.2 1.4-3.2 5-13.7 1.6-7.3 1.8-5.3 .3-2.1 0-3.2 .7-5.2 .2-1.1 .9-1.2 1-.1 3.2 .5 6.3 1.5 7.4 .7 7.4 1.9 3.2 .5 3.2 .4 3.1 0 14.8-1.5 4.2-.8 5.3-1.3 5.3-1.5 5.3-2.2 4.1-2.1 2.2-1.6 0-62.7 -11.8 0 3.7 3.2 1.8 2.1 1.4 2.1 2 4.2 1.5 5.3 .6 5.2 .1 5.3 -1.1 15.8 -.8 4.2 -1 2.1 -2.1 3.2 -1.9 2.1 -1.9 1.7 -2.1 1.5 -3.2 1.9 -6.3 2.7 -3.2 1 -4.2 1 -6.3 .9 -7.4 .2 -2.1-.2 -3.2-.6 -4.2-1.4 -3.2-1.3 -3.2-1.5 -4.9-2.8 -2.5-1.6 -2.1-1.6 -1.9-2 -1.2-1.9 -1.1-2.3 -.8-3.2 -1.2-8.4 -.2-4.2 .1-4.3 .3-3.1 .7-3.2 3.4-8.4 1.1-2.1 1.9-3 1.7-2.3 1.9-2.1 2.7-2.4 2.5-1.8 -14.4 0 -1.8 2.5 -1.7 2.8 -1.5 3.1 -2.9 7.4 -.9 3.2 -1.1 6.3 -.7 7.4 -1.8 8.4 -.3 6.3 -.3 3.2 -.5 2.1 -1 1.3 -1 0 -5.3-1.3 -6.3-2.5 -5.3-1.1 -7.4-2 -8.5-.6 -6.3 0 0 6.2 7.4 .1 8.4 1.3 5.3 1.8 7.4 3.4 3.2 1.8 3.1 2.7 2.2 2.6 2.1 3.8 1.1 3.5 .3 3.2 0 6.3 -.2 3.2 -.4 3.1 -3.3 10.6 -1.6 4.2 -1.5 3.1 -3.4 5.3 -2.6 3.2 -2.2 2.2 -3.1 2.8 -3.2 2.3 -3.2 1.9 -2.7 1.3z"/>
<path fill="#00a0ff" d="M213.0 138.9l12 0 3.8-1.9 3.6-2.3 3.8-3.1 3.2-3.2 2.6-3.2 2.2-3.2 1.7-3.1 1.4-3.2 2-5.2 2.2-7.4 .6-3.2 .3-4.2 0-7.4 -.3-2.1 -.6-2.1 -1.3-3.1 -1.4-2.1 -2.1-2.6 -2.1-1.9 -2.1-1.5 -2.1-1.1 -7.4-3.4 -4.2-1.5 -3.2-.7 -5.3-.8 -6.3-.3 -2.1 .1 0 4 3.2 0 4.2 .3 4.2 .8 4.2 1.2 3.2 1.3 3.2 1.8 2.9 2.2 2.3 2.1 1.9 2.1 1.5 2.1 1.3 2.1 1.4 3.1 .7 2.1 .7 3.2 .3 3.2 0 2.1 -.4 3.1 -.8 4.2 -.9 3.2 -1.1 3.2 -2.6 5.2 -1.9 2.9 -2 2.4 -2.3 2.3 -3.1 2.6 -3.2 2 -3.2 1.7 -3.1 1.2 -4.3 1 -3.1 .3 -3.2 .1 0 4.6zM293.2 77.8l2.1 .3 2.1 .1 5.3-.1 4.2-.4 6.4-1.3 6.3-2.1 5.3-2.5 4.2-2.8 1.9-1.7 1.9-2.1 2.5-4 .9-2.4 .5-3.1 1-14.8 0-6.3 -.6-5.2 -1.5-5.3 -2-4.2 -1.4-2.1 -1.8-2.1 -3.7-3.2 -45.9 0 -3.5 2.7 -2.7 2.6 -2.6 3.3 -2.5 4 -3.9 9.5 -.7 3.2 -.3 3.1 -.1 5.3 .4 5.3 1 6.3 1.2 4.2 1.1 2.1 1.7 2.1 2.4 2.1 3.2 2.1 4.9 2.8 4.3 2 5.2 1.9 3.1 .7zM294.6 72.5l-2.5-.5 -3.1-1 -3.2-1.5 -2.1-1.2 -4.3-3.1 -2.1-2.1 -1.7-2.1 -1.4-2.2 -1.6-3.1 -.8-2.1 -.9-3.2 -.5-3.1 -.2-3.2 .1-3.2 .3-2.1 .6-2.1 1.5-4.2 1.4-3.1 1.2-2.2 2.1-2.9 2-2.3 2.2-2 2.1-1.6 2.1-1.3 3.2-1.6 5.3-1.8 3.1-.5 3.2-.3 3.2-.1 3.1 .3 2.1 .4 3.2 1.2 3.2 1.5 2.1 1.3 4.5 3.4 2 2.1 1.9 2.6 1.6 2.7 1 2.1 1.1 3.2 .8 3.1 .5 3.2 .4 4.2 -.1 3.2 -.2 2.1 -1.5 5.2 -.9 2.1 -1.8 3.2 -1.5 2.1 -1.9 2.1 -2.4 2.1 -2.5 1.7 -2.6 1.5 -2.6 1.2 -5.3 1.6 -3.2 .5 -3.2 .3 -6.3-.4z"/>
<path fill="#00e4ff" d="M213.0 134.3l3.1-.1 3.2-.5 3.2-.8 3.1-1.2 3.2-1.7 2.1-1.3 3.2-2.4 2.3-2.1 1.9-2.2 2.1-2.8 1.5-2.4 1.5-3.2 1.6-4.2 .9-3.2 .8-4.2 .4-3.1 0-2.1 -.3-3.2 -.7-3.2 -1.1-3.1 -1.4-2.8 -1.6-2.5 -1.7-2.1 -2-2 -4.2-3.3 -3.2-1.8 -2.1-1 -3.2-1 -4.2-1 -6.3-.6 -3.2 0 0 3.6 3.2 0 4.2 .4 3.2 .6 3.1 1 3.2 1.4 3.2 1.7 2.5 2 2.2 2.1 1.7 2.1 1.4 2.1 1.9 4.2 1 4.3 .3 2.1 -.1 3.1 -.6 5.3 -1.6 5.3 -1.3 3 -1.3 2.2 -3.1 4.2 -2.1 2.1 -3.1 2.5 -2.7 1.8 -2.5 1.2 -3.2 1.1 -3.2 .8 -3.1 .3 -3.2 0 0 4.6zM295.3 72.6l6.3 .4 3.2-.3 3.2-.5 5.3-1.6 2.6-1.2 2.6-1.5 2.5-1.7 2.4-2.1 1.9-2.1 1.5-2.1 1.8-3.2 .9-2.1 1.5-5.2 .2-2.1 .1-3.2 -.4-4.2 -.5-3.2 -.8-3.1 -1.1-3.2 -1-2.1 -1.6-2.7 -1.9-2.6 -2-2.1 -4.5-3.4 -2.1-1.3 -3.2-1.5 -3.2-1.2 -2.1-.4 -3.1-.3 -3.2 .1 -3.2 .3 -3.1 .5 -5.3 1.8 -3.2 1.6 -2.1 1.3 -2.1 1.6 -2.2 2 -2 2.3 -2.1 2.9 -1.2 2.2 -1.4 3.1 -1.5 4.2 -.6 2.1 -.3 2.1 -.1 3.2 .2 3.2 .5 3.1 .9 3.2 .8 2.1 1.6 3.1 1.4 2.2 1.7 2.1 2.1 2.1 4.3 3.1 2.1 1.2 3.2 1.5 3.1 1 2.5 .5zM296.5 68.3l-3.3-.5 -2.1-.7 -4.2-1.9 -2.1-1.4 -2.2-1.8 -2.9-3.2 -1.5-2.1 -1.1-2.1 -1.6-4.2 -.5-2.1 -.4-3.1 .2-4.3 .7-3.1 1-3.2 1.9-4.1 1.4-2.2 1.7-2.1 3.3-3 4.2-2.7 2.1-1 3.2-1.1 2.1-.4 3.1-.4 5.3 .1 3.2 .5 2.1 .6 4.2 1.9 2.1 1.4 2.1 1.8 3.2 3.6 2.4 4 .9 2.1 1 3.1 .6 3.2 .2 2.1 -.3 5.3 -.7 3.1 -.7 2.1 -2 4.2 -1.5 2.1 -1.8 2.2 -3.4 2.8 -4.2 2.4 -2.1 .9 -3.2 .9 -4.2 .6 -2.1 .1 -3.2-.3z"/>
<path fill="#30ffb0" d="M213.0 129.8l3.1-.1 3.2-.5 2.9-.8 2.4-.9 2.5-1.2 2.7-1.8 2.2-1.6 2.1-2 3.3-4.1 1.9-3.2 1.1-2.4 1-2.8 .9-3.2 .5-3.2 .2-3.1 -.1-3.2 -.3-2.1 -1.3-4.2 -1.5-3.2 -1.4-2.1 -3.3-3.7 -2.1-1.7 -2.1-1.4 -4.2-2.1 -5.3-1.6 -3.2-.6 -3.1-.2 -3.2 0 0 3.6 3.2-.1 3.1 .3 3.2 .7 3.2 1.1 3.1 1.5 2.1 1.4 2.3 1.8 2 2.1 2.2 3.1 1.1 2.1 .7 2.2 .8 4.2 .2 4.2 -.2 2.1 -.7 3.1 -1.5 4.3 -2.3 4.2 -2.4 2.9 -2.2 2 -2.1 1.7 -2.1 1.3 -3.1 1.4 -2.2 .7 -3.1 .7 -2.1 .2 -3.2 0 0 4.1zM297.4 68.4l3.2 .3 2.1-.1 4.2-.6 3.2-.9 2.1-.9 4.2-2.4 3.4-2.8 1.8-2.2 1.5-2.1 2-4.2 .7-2.1 .7-3.1 .3-5.3 -.2-2.1 -.6-3.2 -1-3.1 -.9-2.1 -2.4-4 -3.2-3.6 -2.1-1.8 -2.1-1.4 -4.2-1.9 -2.1-.6 -3.2-.5 -5.3-.1 -3.1 .4 -2.1 .4 -3.2 1.1 -2.1 1 -4.2 2.7 -3.3 3 -1.7 2.1 -1.4 2.2 -1.9 4.1 -1 3.2 -.7 3.1 -.2 4.3 .4 3.1 .5 2.1 1.6 4.2 1.1 2.1 1.5 2.1 2.9 3.2 2.2 1.8 2.1 1.4 4.2 1.9 2.1 .7 3.3 .5zM296.0 64.1l-2.8-.7 -2.1-.7 -3.2-1.7 -3.1-2.6 -1.5-1.7 -1.5-2.1 -1.6-3.1 -.7-2.1 -.5-2.1 -.2-2.1 0-2.2 .7-4.2 1.4-4.2 1.7-3.1 1.6-2.1 1.6-1.7 3.2-2.5 2.1-1.2 2.1-.9 4.2-1.1 4.2-.3 4.3 .5 4.2 1.4 3.2 1.7 3.1 2.6 1.3 1.5 1.5 2.1 1.1 2.1 .9 2.1 1 4.2 .2 4.2 -.6 4.2 -1.4 4.2 -1.9 3.2 -2.7 3.1 -3.6 2.8 -3.2 1.5 -4.2 1.2 -4.2 .3 -4.2-.4z"/>
<path fill="#b0ff40" d="M213.0 125.6l3.1-.1 2.1-.3 4.3-1.2 4.2-2.1 2.1-1.4 2.1-1.8 1.8-1.9 1.7-2.1 2.3-4.2 1.5-4.3 .7-3.1 .2-2.1 0-2.1 -.3-3.2 -1-4.2 -.9-2.1 -1.2-2.1 -2.5-3.2 -2.3-2 -1.5-1.1 -2.7-1.6 -2.1-1 -4.3-1.4 -3.1-.5 -2.1-.2 -3.2 .1 0 3.6 2.1-.2 3.2 .2 2.1 .4 3.2 .9 2.1 1 2.9 1.8 1.3 1.1 2.1 2.1 2.1 3.1 1.4 3.2 .8 3.2 .2 4.2 -.6 4.2 -1.1 3.2 -1.6 3.1 -2.4 3.2 -2 1.8 -2.1 1.6 -2.1 1.2 -2.1 .9 -4.2 1.2 -2.1 .2 -3.2 0 0 4zM296.4 64.2l4.2 .4 4.2-.3 4.2-1.2 3.2-1.5 3.6-2.8 2.7-3.1 1.9-3.2 1.4-4.2 .6-4.2 -.2-4.2 -1-4.2 -.9-2.1 -1.1-2.1 -1.5-2.1 -1.3-1.5 -3.1-2.6 -3.2-1.7 -4.2-1.4 -4.3-.5 -4.2 .3 -4.2 1.1 -2.1 .9 -2.1 1.2 -3.2 2.5 -1.6 1.7 -1.6 2.1 -1.7 3.1 -1.4 4.2 -.7 4.2 0 2.2 .2 2.1 .5 2.1 .7 2.1 1.6 3.1 1.5 2.1 1.5 1.7 3.1 2.6 3.2 1.7 2.1 .7 2.8 .7zM295.0 59.9l-2.9-1.2 -3.1-2 -2.2-2.1 -2.2-3.1 -1.2-3.2 -.5-3.1 .1-4.3 .8-3.1 1.4-3.2 2.3-3.1 2.5-2.3 3.2-1.9 3.2-1.1 3.1-.5 2.1-.1 2.2 .2 3.1 .9 3.2 1.5 2.9 2.2 1.9 2.1 1.9 3.2 1.1 3.1 .5 3.2 -.2 4.2 -.8 3.2 -1.6 3.1 -1.5 2.1 -2.1 2.1 -3.2 2.2 -3.1 1.2 -3.2 .6 -4.2 0 -3.2-.7z"/>
<path fill="#ffe000" d="M213.0 121.6l4.2-.2 3.1-.8 2.2-.8 2.1-1 3.1-2.3 2.9-2.9 2.4-3.7 1.5-3.7 .8-4.2 0-4.2 -.6-3.1 -.7-2.1 -1-2.2 -2.1-3.1 -3.2-3 -3.1-2 -4.3-1.7 -4.2-.7 -4.2 .1 0 3.3 2.1-.2 2.1 .1 3.2 .6 2.1 .7 2.1 1 3.2 2.4 1.4 1.5 1.5 2.1 1.5 3.2 .7 3.1 .2 2.1 -.1 2.1 -.6 3.2 -1.3 3.2 -1.3 2.1 -2 2.3 -3.2 2.4 -3.2 1.6 -2.1 .6 -2.1 .4 -2.1 .1 -2.1-.1 0 3.8zM295.3 60.0l3.2 .7 4.2 0 3.2-.6 3.1-1.2 3.2-2.2 2.1-2.1 1.5-2.1 1.6-3.1 .8-3.2 .2-4.2 -.5-3.2 -1.1-3.1 -1.9-3.2 -1.9-2.1 -2.9-2.2 -3.2-1.5 -3.1-.9 -2.2-.2 -2.1 .1 -3.1 .5 -3.2 1.1 -3.2 1.9 -2.5 2.3 -2.3 3.1 -1.4 3.2 -.8 3.1 -.1 4.3 .5 3.1 1.2 3.2 2.2 3.1 2.2 2.1 3.1 2 2.9 1.2zM298.6 56.7l-3.3-.8 -2.1-1.1 -2.1-1.6 -1.5-1.7 -1.7-2.8 -.8-2.5 -.2-2.1 .2-3.2 .5-2.1 1.4-2.7 1-1.5 2.3-2.1 2-1.3 3.1-1.1 2.1-.4 3.2 .1 2.6 .6 2.3 1.1 1.6 1 2.1 2.1 1.4 2.1 1.2 3.2 .4 2.1 -.1 3.2 -.8 3.1 -1 2.1 -1.6 2.1 -1.8 1.6 -2.1 1.3 -2.1 .9 -2.1 .5 -3.2 0z"/>
<path fill="#ff9000" d="M213.0 117.9l3.1-.1 3.2-.7 3.2-1.3 3.1-2.1 2.2-2.2 2.2-3.1 1.3-3.2 .6-3.2 .1-3.1 -.6-3.2 -1.2-3.1 -2.1-3.2 -2.5-2.4 -3.1-2 -3.2-1.2 -3.2-.6 -2.1-.1 -2.1 .2 0 3.4 3.2-.3 3.1 .5 3.2 1.2 2 1.3 1.2 1 2.1 2.7 1.2 2.6 .7 3.2 0 3.1 -.9 3.2 -1 2.1 -1.5 2.1 -2.3 2.1 -2.6 1.5 -3.1 1.1 -3.2 .3 -2.1-.2 0 3.6 .7 0zM299.5 56.8l3.2 0 2.1-.5 2.1-.9 2.1-1.3 1.8-1.6 1.6-2.1 1-2.1 .8-3.1 .1-3.2 -.4-2.1 -1.2-3.2 -1.4-2.1 -2.1-2.1 -1.6-1 -2.3-1.1 -2.6-.6 -3.2-.1 -2.1 .4 -3.1 1.1 -2 1.3 -2.3 2.1 -1 1.5 -1.4 2.7 -.5 2.1 -.2 3.2 .2 2.1 .8 2.5 1.7 2.8 1.5 1.7 2.1 1.6 2.1 1.1 3.3 .8zM297.2 51.5l-1.9-1 -1.3-1.1 -.8-1.1 -1.1-1.9 -.3-1.2 -.2-2.2 .3-2.1 .4-1 .9-1.6 1.1-1.3 1.7-1.3 1.4-.7 1.3-.4 1.9-.2 2 .2 1.2 .4 1.4 .7 1.7 1.3 1.1 1.3 .9 1.6 .3 1 .3 2.1 -.2 2.2 -.2 1 -1.1 2.1 -.9 1.1 -1.2 1.1 -1.8 1 -1.4 .4 -2.1 .2 -2.1-.2 -1.1-.3z"/>
<path fill="#ff4010" d="M213.0 114.3l3.1 0 2.1-.5 3.1-1.2 2.2-1.5 1.7-1.7 1.5-2.1 1-2.1 .9-3.2 .1-2.1 -.5-3.1 -1.2-3.2 -1.4-2 -2.1-2.1 -2.1-1.4 -2.1-.9 -3.2-.7 -2.1-.1 -2.1 .3 0 3.6 3.2-.3 2.1 .2 2.1 .8 2.3 1.6 1.9 2.1 1 2.1 .5 2.1 -.1 3.1 -.6 2.1 -1.2 2.1 -.8 1.1 -2 1.6 -2.1 1.1 -2.1 .5 -2.1 .2 -2.1-.3 0 3.8zM297.4 51.6l1.1 .3 2.1 .2 2.1-.2 1.4-.4 1.8-1 1.2-1.1 .9-1.1 1.1-2.1 .2-1 .2-2.2 -.3-2.1 -.3-1 -.9-1.6 -1.1-1.3 -1.7-1.3 -1.4-.7 -1.2-.4 -2-.2 -1.9 .2 -1.3 .4 -1.4 .7 -1.7 1.3 -1.1 1.3 -.9 1.6 -.4 1 -.3 2.1 .2 2.2 .3 1.2 1.1 1.9 .8 1.1 1.3 1.1 1.9 1z"/>
<path fill="#f01010" d="M213.0 110.6l2.1 .1 2.1-.4 2.1-.8 1-.6 2-1.6 .8-1.1 1.2-2.1 .6-2.1 .2-2.1 -.3-2.1 -.3-1 -1-2.1 -1-1.3 -2.2-1.8 -2.1-1 -1-.4 -2.1-.2 -3.2 .3 0 4.5 1.1-.4 2.1-.3 2.1 .5 1.7 1.1 .9 1.1 .9 2.1 .1 2.1 -.2 1 -.5 1.1 -.8 1.2 -1.1 .9 -1 .6 -1.1 .4 -2.1 .1 -2.1-.6 0 4.7 .5 .1z"/>
<path fill="#b00000" d="M214.0 106.3l2.1-.1 2.1-1 1.1-.9 .8-1.2 .7-2.1 -.1-2.1 -.9-2.1 -1.6-1.6 -2.1-.9 -2.1-.1 -2.1 .6 0 10.9 1.6 .5z"/>
<path fill="none" stroke="#000" stroke-width="0.55" d="M279.6 138.9l.8-5.3 .2-5.2 .4-3.2 .6-2.1 1-1.1 2.2-1 2.1-.7 8.4-1.9 2.1-1.3 4-3.5 1.3-.5 9.5-2.1 4.2-1.1 15-5.8 3-1 4.2-1.2M237.4 12.5l-.3 2.1 -.9 1.9 -2.6 3.4 -1.6 3.5 -1.1 1.7 -2.1 2.1 -5.6 4.3 -1.9 1 -2 .6 -7.4 .7M250.2 138.9l4.2-5.3 2.5-4.2 1.2-3.1 2.4-8.1 1.3-3.5 2.2-4.2 2.3-6.4 .6-1 .9-1.1 2.6-2.1 1.7-2.1 1-.9 5.5-2.2 3-.7 2.1 0 7.4 1.1 5.3 .2 2.1-.2 4.2-.8 11.6-1.3 6.4-1.5 17.9-5.7M254.4 12.5l-1.1 3.2 -1.3 5.2 -1.7 4.2 -2.5 12 -1.1 3.5 -1 1.8 -1.1 1.4 -4.2 4.5 -3.2 .5 -3.1 1.3 -2.1 .6 -6.4-.5 -6.3 .6 -7.4 .1M237.5 138.9l5-4.7 4.2-4.8 2.9-4.2 2.1-4.2 5.4-14.8 1.6-7.3 1.8-5.3 .3-2.1 0-3.2 .7-5.2 .2-1.1 .9-1.2 1-.1 3.2 .5 6.3 1.5 7.4 .7 7.4 1.9 3.2 .5 3.2 .4 3.1 0 14.8-1.5 4.2-.8 5.3-1.3 5.3-1.5 5.3-2.2 4.1-2.1 2.2-1.6M266.5 12.5l-2.3 3.2 -1.7 3.1 -3.9 9.5 -.7 2.1 -1.1 6.3 -.9 8.5 -1.8 8.4 -.3 6.3 -.3 3.2 -.5 2.1 -.7 1 -.3 .3 -1 0 -1.1-.2 -5.3-1.5 -5.2-2.1 -5.3-1.1 -7.4-2 -8.5-.6 -6.3 0M225.0 138.9l2.7-1.3 3.2-1.9 3.2-2.3 3.1-2.8 2.2-2.2 2.6-3.2 3.4-5.3 1.5-3.1 1.6-4.2 3.3-10.6 .4-3.1 .2-3.2 0-6.3 -.3-3.2 -.6-2.1 -.8-2.1 -1.2-2.1 -1.5-2.1 -1.3-1.5 -2.1-1.9 -3.1-2.1 -9.5-4.3 -4.3-1.4 -8.4-1.3 -7.4-.1M280.9 12.5l-2.5 1.8 -2.7 2.4 -1.9 2.1 -1.7 2.3 -1.9 3 -1.1 2.1 -3.4 8.4 -.9 5.3 -.2 6.3 .4 5.3 1.2 7.3 1 3.2 1.7 2.9 2.2 2.4 3.1 2.2 6.3 3.7 6.4 2.8 5.2 1.6 3.2 .5 2.1 .1 6.4-.2 6.3-.9 6.3-1.7 5.3-2 4.2-2.2 4-2.9 3-3.1 1.5-2.1 1.1-2.1 .8-2.2 .5-3.1 1-14.8 0-6.3 -.6-5.2 -1.5-5.3 -2-4.2 -1.4-2.1 -1.8-2.1 -3.7-3.2M211.9 134.3l3.2-.1 3.1-.3 3.2-.7 3.2-1.1 3.1-1.5 3.2-1.9 3.2-2.4 2.3-2.1 1.9-2.2 2.3-3.1 1.8-3.2 1.5-3.1 1.4-4.2 .8-3.2 .8-4.2 .2-3.2 -.2-3.1 -.6-3.2 -.9-3.2 -.9-2.1 -1.8-3.1 -1.5-2.1 -1.9-2.1 -2.3-2.1 -2.8-2.2 -2.2-1.3 -2.2-1 -3.1-1.2 -4.2-1 -3.2-.6 -4.2-.3 -3.2 0M295.3 72.6l6.3 .4 3.2-.3 3.2-.5 5.3-1.6 2.6-1.2 2.6-1.5 2.5-1.7 2.4-2.1 1.9-2.1 1.5-2.1 1.8-3.2 .9-2.1 1.5-5.2 .2-2.1 .1-3.2 -.4-4.2 -.5-3.2 -.8-3.1 -1.1-3.2 -1-2.1 -1.6-2.7 -1.9-2.6 -2-2.1 -4.5-3.4 -2.1-1.3 -3.2-1.5 -3.2-1.2 -2.1-.4 -3.1-.3 -3.2 .1 -3.2 .3 -3.1 .5 -5.3 1.8 -3.2 1.6 -2.1 1.3 -2.1 1.6 -2.2 2 -2 2.3 -2.1 2.9 -1.2 2.2 -1.4 3.1 -1.5 4.2 -.6 2.1 -.3 2.1 -.1 3.2 .2 3.2 .5 3.1 .9 3.2 .8 2.1 1.6 3.1 1.4 2.2 1.7 2.1 2.1 2.1 4.3 3.1 2.1 1.2 3.2 1.5 3.1 1 2.5 .5zM211.9 129.7l3.2 0 3.1-.3 3.2-.8 2.1-.7 3.2-1.4 2.1-1.3 2.9-2.1 2.4-2.2 2.1-2.4 1.9-2.8 1.3-2.2 1.3-3 1-3.2 .8-3.2 .4-3.1 .1-3.2 -.3-3.1 -.4-2.1 -.8-2.8 -1.1-2.4 -1.3-2.2 -1.5-2.1 -3.5-3.6 -2.1-1.6 -2.2-1.2 -3.1-1.5 -3.2-1.1 -3.2-.7 -3.1-.5 -5.3-.1M297.4 68.4l3.2 .3 2.1-.1 4.2-.6 3.2-.9 2.1-.9 4.2-2.4 3.4-2.8 1.8-2.2 1.5-2.1 2-4.2 .7-2.1 .7-3.1 .3-5.3 -.2-2.1 -.6-3.2 -1-3.1 -.9-2.1 -2.4-4 -3.2-3.6 -2.1-1.8 -2.1-1.4 -4.2-1.9 -2.1-.6 -3.2-.5 -5.3-.1 -3.1 .4 -2.1 .4 -3.2 1.1 -2.1 1 -4.2 2.7 -3.3 3 -1.7 2.1 -1.4 2.2 -1.9 4.1 -1 3.2 -.7 3.1 -.2 4.3 .4 3.1 .5 2.1 1.6 4.2 1.1 2.1 1.5 2.1 2.9 3.2 2.2 1.8 2.1 1.4 4.2 1.9 2.1 .7 3.3 .5zM211.9 125.6l3.2 0 2.1-.2 3.1-.7 2.2-.7 4.2-2.1 2.1-1.4 2.1-1.8 1.8-1.9 1.7-2.1 2.3-4.2 .9-2.1 .9-3.2 .5-3.2 .1-2.1 -.2-3.1 -.3-2.1 -1.2-4.3 -1.1-2.1 -1.3-2.1 -3-3.3 -2.2-1.6 -2.1-1.4 -2.1-1.1 -3.1-1.2 -2.2-.6 -3.1-.5 -3.2-.2 -2.1 .1M296.4 64.2l4.2 .4 4.2-.3 4.2-1.2 3.2-1.5 3.6-2.8 2.7-3.1 1.9-3.2 1.4-4.2 .6-4.2 -.2-4.2 -1-4.2 -.9-2.1 -1.1-2.1 -1.5-2.1 -1.3-1.5 -3.1-2.6 -3.2-1.7 -4.2-1.4 -4.3-.5 -4.2 .3 -4.2 1.1 -2.1 .9 -2.1 1.2 -3.2 2.5 -1.6 1.7 -1.6 2.1 -1.7 3.1 -1.4 4.2 -.7 4.2 0 2.2 .2 2.1 .5 2.1 .7 2.1 1.6 3.1 1.5 2.1 1.5 1.7 3.1 2.6 3.2 1.7 2.1 .7 2.8 .7zM211.9 121.6l3.2 0 2.1-.2 4.2-1.2 2.1-.9 2.1-1.2 3-2.4 2.8-3.1 1.3-2.1 1-2.1 1.3-4.3 .4-4.2 -.4-4.2 -.6-2.1 -.8-2.1 -1.9-3.2 -2.9-3.1 -2.1-1.7 -2.1-1.2 -4.3-1.7 -4.2-.7 -4.2 .1M295.3 60.0l3.2 .7 4.2 0 3.2-.6 3.1-1.2 3.2-2.2 2.1-2.1 1.5-2.1 1.6-3.1 .8-3.2 .2-4.2 -.5-3.2 -1.1-3.1 -1.9-3.2 -1.9-2.1 -2.9-2.2 -3.2-1.5 -3.1-.9 -2.2-.2 -2.1 .1 -3.1 .5 -3.2 1.1 -3.2 1.9 -2.5 2.3 -2.3 3.1 -1.4 3.2 -.8 3.1 -.1 4.3 .5 3.1 1.2 3.2 2.2 3.1 2.2 2.1 3.1 2 2.9 1.2zM211.9 117.8l3.2 .1 2.1-.3 2.1-.5 3.2-1.3 3.2-2.2 3-3.1 1.8-3.2 1-3.2 .4-2.1 .1-2.1 -.2-2.1 -.4-2.1 -1.2-3.1 -2.1-3.2 -2.1-2.1 -3.2-2.1 -3.5-1.4 -3.2-.6 -2.1-.1 -2.1 .2M299.5 56.8l3.2 0 2.1-.5 2.1-.9 2.1-1.3 1.8-1.6 1.6-2.1 1-2.1 .8-3.1 .1-3.2 -.4-2.1 -1.2-3.2 -1.4-2.1 -2.1-2.1 -1.6-1 -2.3-1.1 -2.6-.6 -3.2-.1 -2.1 .4 -3.1 1.1 -2 1.3 -2.3 2.1 -1 1.5 -1.4 2.7 -.5 2.1 -.2 3.2 .2 2.1 .8 2.5 1.7 2.8 1.5 1.7 2.1 1.6 2.1 1.1 3.3 .8zM211.9 114.2l3.2 .2 3.1-.6 3.1-1.2 2.2-1.5 2.1-2.2 1.7-2.7 1.1-3.1 .3-3.2 -.5-3.1 -.7-2.1 -1.9-3.1 -2.1-2.1 -2.1-1.4 -3.2-1.2 -3.1-.5 -3.2 .3M297.4 51.6l1.1 .3 2.1 .2 2.1-.2 1.4-.4 1.8-1 1.2-1.1 .9-1.1 1.1-2.1 .2-1 .2-2.2 -.3-2.1 -.3-1 -.9-1.6 -1.1-1.3 -1.7-1.3 -1.4-.7 -1.2-.4 -2-.2 -1.9 .2 -1.3 .4 -1.4 .7 -1.7 1.3 -1.1 1.3 -.9 1.6 -.4 1 -.3 2.1 .2 2.2 .3 1.2 1.1 1.9 .8 1.1 1.3 1.1 1.9 1zM211.9 110.4l2.1 .3 3.2-.4 2.1-.8 1.8-1.1 2-2.2 1.2-2.1 .6-2.1 .2-2.1 -.5-2.9 -1.1-2.2 -1-1.4 -2.2-1.8 -2.1-1 -2.1-.6 -2.1 0 -2.1 .3M211.9 105.7l1.1 .4 2.1 .2 2.1-.5 1-.6 1.1-.9 .8-1.2 .5-1.1 .3-2.1 -.5-2.1 -.6-1 -1.6-1.6 -1-.6 -2.1-.5 -2.1 .3 -1.1 .4"/>
</g>
<rect x="211.90" y="12.50" width="126.70" height="126.40" fill="none" stroke="#333" stroke-width="0.4"/>
<text x="275.25" y="5.85" font-family="Liberation Sans, Arial, sans-serif" font-weight="bold" font-size="4.18" text-anchor="middle" fill="#000" stroke="#000" stroke-width="0.12">The Constructed Magnetic Field Using</text>
<text x="275.25" y="11.04" font-family="Liberation Sans, Arial, sans-serif" font-weight="bold" font-size="4.18" text-anchor="middle" fill="#000" stroke="#000" stroke-width="0.12">the Spherical Variogram</text>
<text x="210.38" y="140.10" font-family="Liberation Serif, Times New Roman, serif" font-size="3.42" text-anchor="end" fill="#666">0</text>
<text x="211.90" y="143.33" font-family="Liberation Serif, Times New Roman, serif" font-size="3.42" text-anchor="middle" fill="#666">0</text>
<text x="210.38" y="114.82" font-family="Liberation Serif, Times New Roman, serif" font-size="3.42" text-anchor="end" fill="#666">2,000</text>
<text x="237.24" y="143.33" font-family="Liberation Serif, Times New Roman, serif" font-size="3.42" text-anchor="middle" fill="#666">2,000</text>
<text x="210.38" y="89.54" font-family="Liberation Serif, Times New Roman, serif" font-size="3.42" text-anchor="end" fill="#666">4,000</text>
<text x="262.58" y="143.33" font-family="Liberation Serif, Times New Roman, serif" font-size="3.42" text-anchor="middle" fill="#666">4,000</text>
<text x="210.38" y="64.26" font-family="Liberation Serif, Times New Roman, serif" font-size="3.42" text-anchor="end" fill="#666">6,000</text>
<text x="287.92" y="143.33" font-family="Liberation Serif, Times New Roman, serif" font-size="3.42" text-anchor="middle" fill="#666">6,000</text>
<text x="210.38" y="38.98" font-family="Liberation Serif, Times New Roman, serif" font-size="3.42" text-anchor="end" fill="#666">8,000</text>
<text x="313.26" y="143.33" font-family="Liberation Serif, Times New Roman, serif" font-size="3.42" text-anchor="middle" fill="#666">8,000</text>
<text x="210.38" y="13.70" font-family="Liberation Serif, Times New Roman, serif" font-size="3.42" text-anchor="end" fill="#666">10,000</text>
<text x="338.60" y="143.33" font-family="Liberation Serif, Times New Roman, serif" font-size="3.42" text-anchor="middle" fill="#666">10,000</text>
<text x="275.25" y="148.66" font-family="Liberation Serif, Times New Roman, serif" font-size="3.59" text-anchor="middle" fill="#555">X/meters</text>
<text transform="translate(199.36 75.70) rotate(-90)" font-family="Liberation Serif, Times New Roman, serif" font-size="3.59" text-anchor="middle" fill="#555">Y/meters</text>
<rect x="346.20" y="12.50" width="4.00" height="126.40" fill="url(#jetg)"/>
<text x="348.20" y="10.98" font-family="Liberation Serif, Times New Roman, serif" font-size="3.08" text-anchor="middle" fill="#888">(nT)</text>
<text x="351.72" y="13.53" font-family="Liberation Serif, Times New Roman, serif" font-size="2.74" fill="#999">550</text>
<text x="351.72" y="24.60" font-family="Liberation Serif, Times New Roman, serif" font-size="2.74" fill="#999">500</text>
<text x="351.72" y="35.67" font-family="Liberation Serif, Times New Roman, serif" font-size="2.74" fill="#999">450</text>
<text x="351.72" y="46.75" font-family="Liberation Serif, Times New Roman, serif" font-size="2.74" fill="#999">400</text>
<text x="351.72" y="57.82" font-family="Liberation Serif, Times New Roman, serif" font-size="2.74" fill="#999">350</text>
<text x="351.72" y="68.89" font-family="Liberation Serif, Times New Roman, serif" font-size="2.74" fill="#999">300</text>
<text x="351.72" y="79.97" font-family="Liberation Serif, Times New Roman, serif" font-size="2.74" fill="#999">250</text>
<text x="351.72" y="91.04" font-family="Liberation Serif, Times New Roman, serif" font-size="2.74" fill="#999">200</text>
<text x="351.72" y="102.11" font-family="Liberation Serif, Times New Roman, serif" font-size="2.74" fill="#999">150</text>
<text x="351.72" y="113.19" font-family="Liberation Serif, Times New Roman, serif" font-size="2.74" fill="#999">100</text>
<text x="351.72" y="124.26" font-family="Liberation Serif, Times New Roman, serif" font-size="2.74" fill="#999">50</text>
<text x="351.72" y="135.34" font-family="Liberation Serif, Times New Roman, serif" font-size="2.74" fill="#999">0</text>
<text x="277.00" y="173.40" font-family="Liberation Serif, Times New Roman, serif" font-weight="bold" font-size="9.6" text-anchor="middle" fill="#000">(b)</text>
<clipPath id="clipc"><rect x="396.90" y="12.70" width="129.60" height="129.10"/></clipPath>
<g clip-path="url(#clipc)">
<rect x="396.90" y="12.70" width="129.60" height="129.10" fill="#ffe800"/>
<path d="M396.9 12.7 L519.5 12.7 L517.2 13.9 L509.3 14.9 L499.4 18.9 L489.6 20.8 L479.7 18.9 L471.8 15.9 L465.0 16.9 L452.2 17.9 L449.2 21.8 L448.3 24.8 L436.4 25.8 L434.4 29.7 L436.4 33.7 L430.5 37.6 L424.6 39.6 L423.6 41.6 L427.5 45.5 L430.5 51.4 L396.9 51.4 z" fill="#38ff55" stroke="#000" stroke-width="0.45" stroke-linejoin="round"/>
<path d="M466.0 25.8 L508.3 25.8 L506.4 37.6 L517.2 38.6 L517.2 52.4 L507.3 53.4 L508.3 67.2 L465.9 67.2 L463.9 53.4 L452.2 52.4 L452.2 39.6 L467.9 37.6 z" fill="#38ff55" stroke="#000" stroke-width="0.45" stroke-linejoin="round"/>
<path d="M396.9 77.3 L415.5 77.3 L414.7 88.8 L425.6 89.8 L426.6 102.6 L436.4 103.6 L434.4 109.5 L437.4 114.4 L414.7 116.4 L414.7 128.3 L396.9 129.2 z" fill="#38ff55" stroke="#000" stroke-width="0.45" stroke-linejoin="round"/>
<path d="M440.4 102.6 L526.5 102.6 L526.5 141.8 L448.3 141.8 L450.2 138.1 L458.1 130.2 L452.2 124.3 L449.2 116.4 L444.3 112.5 L443.3 103.6 z" fill="#38ff55" stroke="#000" stroke-width="0.45" stroke-linejoin="round"/>
<path d="M487.5 90.0 L491.8 90.0 L489.6 93.8 z" fill="#38ff55" stroke="#000" stroke-width="0.35" stroke-linejoin="round"/>
<ellipse cx="480.7" cy="76.2" rx="1.3" ry="0.8" fill="#38ff55" stroke="#000" stroke-width="0.35"/>
<ellipse cx="402.9" cy="141.8" rx="3.2" ry="1.6" fill="#38ff55" stroke="#000" stroke-width="0.35"/>
<ellipse cx="526.5" cy="94.7" rx="0.9" ry="2.2" fill="#38ff55" stroke="#000" stroke-width="0.35"/>
<path d="M399.6 64.6Q400.6 56.5 405.6 52.4Q410.2 57 409.6 64.6Z" fill="#38ff55" stroke="#000" stroke-width="0.4"/>
<ellipse cx="406.8" cy="18.3" rx="7.9" ry="3.0" fill="#00e4ff" stroke="#000" stroke-width="0.40"/>
<ellipse cx="486.6" cy="32.1" rx="8.4" ry="3.0" fill="#00e4ff" stroke="#000" stroke-width="0.40"/>
<ellipse cx="485.6" cy="57.9" rx="11.3" ry="3.4" fill="#00e4ff" stroke="#000" stroke-width="0.40"/>
<ellipse cx="485.6" cy="45.1" rx="18.7" ry="5.4" fill="#00e4ff" stroke="#000" stroke-width="0.40"/><ellipse cx="485.6" cy="45.1" rx="14.5" ry="4.2" fill="#00a0ff" stroke="#000" stroke-width="0.40"/><ellipse cx="485.6" cy="45.1" rx="10.5" ry="3.2" fill="#0044ff" stroke="#000" stroke-width="0.40"/><ellipse cx="485.6" cy="45.1" rx="7.0" ry="2.2" fill="#0010e0" stroke="#000" stroke-width="0.40"/>
<ellipse cx="396.9" cy="96.7" rx="23.0" ry="5.6" fill="#00e4ff" stroke="#000" stroke-width="0.40"/><ellipse cx="396.9" cy="96.7" rx="17.5" ry="4.8" fill="#0090ff" stroke="#000" stroke-width="0.40"/><ellipse cx="396.9" cy="96.7" rx="13.5" ry="4.3" fill="#0010f0" stroke="#000" stroke-width="0.40"/><ellipse cx="396.9" cy="96.7" rx="9.5" ry="3.6" fill="#000090" stroke="#000" stroke-width="0.40"/>
<ellipse cx="396.9" cy="109.5" rx="23.0" ry="5.6" fill="#00e4ff" stroke="#000" stroke-width="0.40"/><ellipse cx="396.9" cy="109.5" rx="17.5" ry="4.8" fill="#0090ff" stroke="#000" stroke-width="0.40"/><ellipse cx="396.9" cy="109.5" rx="13.5" ry="4.3" fill="#0010f0" stroke="#000" stroke-width="0.40"/><ellipse cx="396.9" cy="109.5" rx="9.5" ry="3.6" fill="#000090" stroke="#000" stroke-width="0.40"/>
<ellipse cx="396.9" cy="44.2" rx="3.2" ry="4.2" fill="#ffe800" stroke="#000" stroke-width="0.40"/>
<ellipse cx="396.9" cy="58.3" rx="3.6" ry="5.0" fill="#ff9000" stroke="#000" stroke-width="0.40"/><ellipse cx="396.9" cy="58.3" rx="2.4" ry="4.0" fill="#c00000" stroke="#000" stroke-width="0.40"/>
<ellipse cx="396.9" cy="70.6" rx="3.4" ry="5.2" fill="#ffe800" stroke="#000" stroke-width="0.40"/><ellipse cx="396.9" cy="70.6" rx="2.3" ry="4.2" fill="#c00000" stroke="#000" stroke-width="0.40"/>
<ellipse cx="396.9" cy="83.0" rx="2.4" ry="5.0" fill="#ffe800" stroke="#000" stroke-width="0.40"/><ellipse cx="396.9" cy="83.0" rx="1.3" ry="3.0" fill="#ff9000" stroke="#000" stroke-width="0.40"/>
<ellipse cx="396.9" cy="135.0" rx="3.4" ry="4.4" fill="#ff9000" stroke="#000" stroke-width="0.40"/><ellipse cx="396.9" cy="135.0" rx="2.3" ry="3.4" fill="#c00000" stroke="#000" stroke-width="0.40"/>
<path d="M504.5 127.9h0.1M506.3 128.1h0.1M508.3 128.3h0.1" stroke="#000" stroke-width="0.7" stroke-linecap="round"/>
</g>
<rect x="396.90" y="12.70" width="129.60" height="129.10" fill="none" stroke="#333" stroke-width="0.4"/>
<text x="461.70" y="5.90" font-family="Liberation Sans, Arial, sans-serif" font-weight="bold" font-size="4.28" text-anchor="middle" fill="#000" stroke="#000" stroke-width="0.12">Error Distribution Using</text>
<text x="461.70" y="11.21" font-family="Liberation Sans, Arial, sans-serif" font-weight="bold" font-size="4.28" text-anchor="middle" fill="#000" stroke="#000" stroke-width="0.12">the Spherical Variogram</text>
<text x="395.34" y="143.02" font-family="Liberation Serif, Times New Roman, serif" font-size="3.50" text-anchor="end" fill="#666">0</text>
<text x="396.90" y="146.34" font-family="Liberation Serif, Times New Roman, serif" font-size="3.50" text-anchor="middle" fill="#666">0</text>
<text x="395.34" y="117.20" font-family="Liberation Serif, Times New Roman, serif" font-size="3.50" text-anchor="end" fill="#666">2,000</text>
<text x="422.82" y="146.34" font-family="Liberation Serif, Times New Roman, serif" font-size="3.50" text-anchor="middle" fill="#666">2,000</text>
<text x="395.34" y="91.38" font-family="Liberation Serif, Times New Roman, serif" font-size="3.50" text-anchor="end" fill="#666">4,000</text>
<text x="448.74" y="146.34" font-family="Liberation Serif, Times New Roman, serif" font-size="3.50" text-anchor="middle" fill="#666">4,000</text>
<text x="395.34" y="65.56" font-family="Liberation Serif, Times New Roman, serif" font-size="3.50" text-anchor="end" fill="#666">6,000</text>
<text x="474.66" y="146.34" font-family="Liberation Serif, Times New Roman, serif" font-size="3.50" text-anchor="middle" fill="#666">6,000</text>
<text x="395.34" y="39.74" font-family="Liberation Serif, Times New Roman, serif" font-size="3.50" text-anchor="end" fill="#666">8,000</text>
<text x="500.58" y="146.34" font-family="Liberation Serif, Times New Roman, serif" font-size="3.50" text-anchor="middle" fill="#666">8,000</text>
<text x="395.34" y="13.92" font-family="Liberation Serif, Times New Roman, serif" font-size="3.50" text-anchor="end" fill="#666">10,000</text>
<text x="526.50" y="146.34" font-family="Liberation Serif, Times New Roman, serif" font-size="3.50" text-anchor="middle" fill="#666">10,000</text>
<text x="461.70" y="151.78" font-family="Liberation Serif, Times New Roman, serif" font-size="3.67" text-anchor="middle" fill="#555">X/meters</text>
<text transform="translate(384.07 77.25) rotate(-90)" font-family="Liberation Serif, Times New Roman, serif" font-size="3.67" text-anchor="middle" fill="#555">Y/meters</text>
<rect x="533.40" y="12.70" width="4.30" height="129.10" fill="url(#jetg)"/>
<text x="535.55" y="11.14" font-family="Liberation Serif, Times New Roman, serif" font-size="3.15" text-anchor="middle" fill="#888">(nT)</text>
<text x="539.26" y="13.75" font-family="Liberation Serif, Times New Roman, serif" font-size="2.80" fill="#999">8</text>
<text x="539.26" y="29.17" font-family="Liberation Serif, Times New Roman, serif" font-size="2.80" fill="#999">6</text>
<text x="539.26" y="44.59" font-family="Liberation Serif, Times New Roman, serif" font-size="2.80" fill="#999">4</text>
<text x="539.26" y="60.02" font-family="Liberation Serif, Times New Roman, serif" font-size="2.80" fill="#999">2</text>
<text x="539.26" y="75.44" font-family="Liberation Serif, Times New Roman, serif" font-size="2.80" fill="#999">0</text>
<text x="539.26" y="90.86" font-family="Liberation Serif, Times New Roman, serif" font-size="2.80" fill="#999">-2</text>
<text x="539.26" y="106.28" font-family="Liberation Serif, Times New Roman, serif" font-size="2.80" fill="#999">-4</text>
<text x="539.26" y="121.71" font-family="Liberation Serif, Times New Roman, serif" font-size="2.80" fill="#999">-6</text>
<text x="539.26" y="137.13" font-family="Liberation Serif, Times New Roman, serif" font-size="2.80" fill="#999">-8</text>
<text x="463.40" y="173.50" font-family="Liberation Serif, Times New Roman, serif" font-weight="bold" font-size="9.6" text-anchor="middle" fill="#000">(c)</text>
<clipPath id="clipd"><rect x="18.45" y="188.00" width="138.35" height="137.90"/></clipPath>
<g clip-path="url(#clipd)">
<path fill="#00008a" d="M93.4 325.9l63.4 0 0-37 -24.2 8.8 -4.6 1.2 -11.6 2.4 -2.3 1.3 -3.4 2.7 -1.8 1.1 -2.8 1 -5.8 1.7 -2 .7 -1.5 .8 -.5 .4 -.8 1.1 -1.6 4.6 -1.5 9.2zM18.5 205.2l3.4-.4 2.3-.6 3.5-1.4 1.1-.8 2.3-2.4 4.1-5.9 3.2-3.4 .7-1.2 .4-1.1 -21.1 0 0 17.2z"/>
<path fill="#0000c4" d="M61.1 325.9l31.3 0 1.5-9.2 1.6-4.6 .8-1.1 .5-.4 1.5-.8 2-.7 5.8-1.7 2.8-1 1.8-1.1 3.4-2.7 2.3-1.3 11.6-2.4 4.6-1.2 24.2-8.8 0-17.6 -17.3 5.9 -5.8 1.6 -3.4 .6 -4.6 .6 -8.1 .5 -4.6 .8 -2.3 .1 -5.8-.4 -8.1-1.4 -2.3 .1 -3.4 .9 -5.8 2.3 -2.7 2.8 -3 2.3 -1.1 1.1 -.7 1.2 -2.3 5.7 -2.9 5.4 -1.1 2.7 -2.5 8 -1.4 3.5 -1.2 2.3 -1.4 2.3 -4.6 5.7zM19.6 227.2l6.9-.1 5.8-1 6.9 0 1.2-.2 2-1.1 2.8-2.3 .9-.5 2.3-.4 1.2-.4 2.3-2.2 1.8-2.3 .7-1.1 .9-2.6 1.2-4.1 1.4-8.3 1.7-4.6 1-4.6 1-3.4 -22.1 0 -.4 1.1 -.7 1.2 -3.2 3.4 -4.1 5.9 -2.3 2.4 -1.1 .8 -3.5 1.4 -2.3 .6 -3.5 .4 0 22.1z"/>
<path fill="#0010f8" d="M47.3 325.9l13.1 0 4.6-5.7 1.4-2.3 1.2-2.3 1.4-3.5 2.5-8 1.1-2.7 2.9-5.4 2.3-5.7 .7-1.2 1.1-1.1 3-2.3 2.7-2.8 5.8-2.3 3.4-.9 2.3-.1 10.4 1.6 4.6 .2 5.8-.9 8.1-.5 4.6-.6 3.4-.6 5.8-1.6 17.3-5.9 0-10.2 -4.6 2.3 -4.6 1.8 -5.8 1.8 -6.9 1.7 -6.9 1.1 -10.4 .6 -5.8 .7 -2.3-.1 -4.6-.5 -4.6-.9 -3.5-1.2 -5.7-1 -6.9-.2 -2.3-1.1 -7 0 0 1.2 -1.1 1.1 0 2.3 -1.2 2.3 0 3.5 -.3 1.1 -.6 1.2 -.2 1.1 -.7 1.2 -1.4 3.4 -.4 2.3 -1 3.5 -.1 1.1 -4.5 11.5 -2.5 5.8 -1.2 2.3 -2.3 3.4 -2.8 3.5 -3.9 4.1 -4.3 3.9zM58.8 245.5l2.3 0 0-1.2 1.2-1.1 0-3.5 1.1-1.1 0-6.9 1.2-1.2 0-3.4 1.1-1.2 0-6.9 1.2-1.1 0-6.9 1.1-1.2 0-3.4 1.2-1.2 0-1.1 1.1-1.2 0-2.3 1.2-1.1 0-1.2 1.1-1.1 0-2.3 2.3-2.3 0-1.2 1.2-1.1 0-1.2 1.1-1.1 -15.6 0 -1 3.4 -1 4.6 -1.7 4.6 -1.4 8.1 -1.7 5.7 -.6 1.5 -1.3 2 -2.2 2.4 -1.1 .9 -1.2 .4 -2.3 .4 -.9 .5 -2.8 2.3 -2.2 1.1 -1 .2 -6.9 0 -5.8 1 -8.1 .2 0 11.3 17.3 0 1.2 1.1 3.5 0 1.1 1.2 3.5 0 1.1 1.1 3.5 0 1.1 1.2 1.2 0 1.1 1.1 4.6 0 1.2 1.2z"/>
<path fill="#0058ff" d="M33.4 325.9l13 0 5.5-5.1 5.5-6.4 2.3-3.4 2.2-4.6 6-15 .1-1.1 1-3.5 .4-2.3 1.4-3.4 .7-1.2 .2-1.1 .6-1.2 .3-1.1 0-3.5 1.2-2.3 0-2.3 1.1-1.1 0-1.2 7 0 2.3 1.1 6.9 .2 5.7 1 3.5 1.2 4.6 .9 4.6 .5 2.3 .1 5.8-.7 10.4-.6 6.9-1.1 6.9-1.7 5.8-1.8 4.6-1.8 4.6-2.3 0-16.5 -1.2 2.6 -1.3 1.7 -2.1 2.2 -3.5 2.6 -4.6 2.5 -5.7 2.4 -7 2 -5.7 1.1 -5.8 .6 -8.1 0 -2.3-.1 -4.6-1.1 -3.4-1.1 -5.8-2.6 -9.2-5 -3.2-2.3 -2.4-2.3 -1.7-2.3 -1.1-2.3 -.8-2.3 -.6-3.5 -.7-8 -.2-4.6 .3-5.8 .6-4.6 .9-3.4 2.9-6.9 1.7-3.5 1.4-2.3 1.7-2.5 2.3-2.7 2.3-2.3 3.5-2.8 -16.2 0 -1.1 1.1 0 1.2 -1.2 1.1 0 1.2 -2.3 2.3 0 2.3 -1.1 1.1 0 1.2 -1.2 1.1 0 2.3 -1.1 1.2 0 1.1 -1.2 1.2 0 3.4 -1.1 1.2 0 6.9 -1.2 1.1 0 6.9 -1.1 1.2 0 3.4 -1.2 1.2 0 6.9 -1.1 1.1 0 3.5 -1.2 1.1 0 1.2 -2.3 0 -1.2-1.2 -4.6 0 -1.1-1.1 -1.2 0 -1.1-1.2 -3.5 0 -1.1-1.1 -3.5 0 -1.1-1.2 -3.5 0 -1.2-1.1 -17.3 0 0 6.9 3.5-.1 4.6 .2 5.8 .7 3.4 .6 3.5 1.1 9.2 3.8 2.3 1 2.3 1.5 3.5 3 1.7 1.9 1.7 2.3 1.2 2.3 1 2.3 .7 2.3 .5 2.3 .1 3.5 -.7 8 -1 5.8 -3.6 10.3 -2 4.6 -1.7 3.5 -2.2 3.4 -1.7 2.3 -3.1 3.5 -2.4 2.3 -2.7 2.3 -3.1 2.2 -3.5 2.1 -3 1.4zM156.8 196.2l0-8.2 -6.6 0 3.5 3.4 1.6 2.3 1.4 2.3z"/>
<path fill="#00a0ff" d="M19.6 325.9l13.1 0 .7-.3 3.9-2 4.2-2.8 4.6-3.9 3.5-3.7 3.4-4.5 2.6-4.6 2.5-5.8 2.9-8 .7-2.3 .7-3.5 1-11.5 -.1-2.3 -.8-3.4 -1.4-3.5 -1.1-2.1 -1.8-2.5 -1.7-1.9 -2.3-2.2 -2.3-1.6 -2.3-1.2 -9.2-3.8 -4.7-1.6 -3.4-.6 -4.6-.6 -6.9-.3 -2.4 .1 0 4.4 3.5-.1 4.6 .4 4.6 .8 4.6 1.3 3.5 1.4 3.5 2 3.3 2.4 2.5 2.3 2.1 2.3 1.7 2.3 1.4 2.3 1 2.3 .8 2.3 .9 3.4 .5 3.5 .1 3.4 -.3 3.5 -.8 3.4 -1.2 4.6 -1.3 3.5 -1.5 3.2 -1.4 2.5 -2.1 3.1 -2.1 2.7 -2.5 2.4 -3.4 2.9 -3.5 2.2 -3.5 1.8 -3.4 1.3 -4.6 1.1 -3.5 .4 -3.5 .1 0 5zM107.2 261.7l2.3 .5 2.3 .1 9.3-.1 6.9-.9 6.9-1.6 6.9-2.4 5.8-2.9 2.3-1.5 2.2-1.7 2.2-2.3 1.3-1.7 1.2-2.6 0-48.4 -1.5-2.5 -1.6-2.3 -3.5-3.4 -24 0 7.5 2.8 4.7 2.4 2.3 1.7 2.5 2.3 2.1 2.3 1.7 2.3 2.5 4.6 1.2 3.4 .9 3.5 .8 5.7 .1 8.1 -.5 5.7 -.6 2.3 -.9 2.3 -2.4 4.6 -1.7 2.3 -2.1 2.3 -4.2 3.5 -2.9 1.8 -2.3 1.1 -4.6 1.9 -5.8 1.4 -3.4 .4 -3.5 .2 -8.1-.6 -2.3-.5 -3.4-1.2 -3.5-1.6 -2.3-1.3 -3.5-2.4 -2.3-1.9 -2.3-2.3 -2.3-2.9 -1.5-2.5 -1.7-3.4 -.8-2.3 -.9-3.5 -.5-3.4 -.2-3.5 .1-3.4 .5-3.5 1-3.4 1.8-4.6 1.6-3.5 1.4-2.3 1.7-2.3 2.1-2.4 2.3-2.2 3.5-2.6 3.5-2 3.4-1.6 3.5-1.2 2.6-.6 -17.6 0 -3.5 2.8 -2.3 2.3 -2.4 2.9 -2.4 3.5 -1.8 3.4 -3.4 8.1 -.9 3.4 -.5 3.5 -.4 5.7 .2 5.8 .9 9.2 .4 2.3 .8 2.3 1.1 2.3 1.7 2.3 2.1 2 2.3 1.8 8.1 4.6 4.6 2.3 3.5 1.5 5 1.5z"/>
<path fill="#00e4ff" d="M19.6 320.9l3.5-.2 3.4-.5 3.5-.9 3.4-1.3 3.5-1.8 2.3-1.4 3.5-2.6 2.5-2.4 2.1-2.3 2.3-3.1 1.6-2.6 1.7-3.5 1.8-4.6 .9-3.4 1.1-4.6 .3-3.5 -.1-3.4 -.5-3.5 -.9-3.4 -.8-2.3 -1-2.3 -2.2-3.5 -1.9-2.3 -2.3-2.3 -4.6-3.5 -3.5-2 -2.3-1 -3.5-1.1 -4.6-1.1 -3.4-.4 -3.5-.3 -3.5 .1 0 3.9 3.5-.1 4.6 .5 3.5 .7 3.4 1.1 3.5 1.4 2.3 1.2 2.7 1.8 3.1 2.8 1.6 1.8 1.7 2.3 1.3 2.3 1.1 2.3 1.4 4.6 .3 2.3 .1 3.4 -.3 3.5 -.6 3.4 -1.7 5.8 -1 2.3 -1.6 3.1 -1.8 2.6 -1.7 2.1 -2.4 2.5 -2.8 2.3 -2.9 1.9 -3.4 1.7 -3.5 1.3 -3.4 .8 -3.5 .4 -3.5 0 0 5zM108.4 256.0l3.4 .6 4.6 .3 5.8-.3 3.5-.5 3.4-.9 3.5-1.2 3.4-1.5 3.5-2 2.2-1.6 2.6-2.3 2.1-2.3 1.7-2.3 1.3-2.3 1.1-2.3 1.2-3.4 .6-3.5 .2-3.4 0-5.8 -.3-4.6 -.6-3.4 -.9-3.5 -1.2-3.4 -1.2-2.3 -1.9-3.1 -2.1-2.7 -2.3-2.3 -2.5-2 -3.5-2.1 -2.3-1.1 -7.5-2.8 -15.2 0 -2.6 .6 -3.5 1.2 -3.4 1.6 -3.5 2 -3.5 2.6 -2.3 2.2 -2.1 2.4 -1.7 2.3 -2.5 4.6 -3 8.1 -.5 2.3 -.4 3.4 0 3.5 .3 3.4 .7 3.5 1 3.4 1.5 3.5 1.3 2.3 1.6 2.3 1.9 2.3 2.4 2.3 2.8 2.3 2.5 1.6 3.5 1.9 3.4 1.4 2.5 .8zM108.8 251.2l-2.7-.8 -2.3-.9 -3.1-1.7 -2.7-1.9 -2.3-2 -1.9-1.9 -1.8-2.3 -1.5-2.3 -1.1-2.3 -1.4-3.4 -.6-2.3 -.5-3.5 -.2-3.4 .2-2.3 1-4.6 2.1-5.8 2.7-4.6 1.8-2.3 2.2-2.3 2.5-2 2.3-1.6 2.3-1.3 3.4-1.5 2.3-.7 3.5-.8 3.4-.4 3.5 0 2.3 .1 3.5 .6 2.3 .6 2.3 1 2.6 1.4 3.1 2.3 2.7 2.3 2 2.2 1.8 2.4 1.3 2.3 1.2 2.3 1.3 3.5 .9 3.4 .6 3.5 .2 3.4 -.1 2.3 -.3 2.3 -.8 3.5 -1.3 3.4 -1.1 2.3 -1.4 2.3 -1.8 2.3 -1.7 1.8 -2.3 2 -2.3 1.6 -2.3 1.3 -3 1.4 -2.8 .9 -2.3 .6 -3.4 .5 -3.5 .2 -2.3-.1 -5.8-.8z"/>
<path fill="#30ffb0" d="M19.6 315.9l3.5-.1 3.4-.5 3.3-.9 2.5-1 2.7-1.3 3-1.9 2.4-1.8 2.3-2.1 1.9-2.2 1.7-2.3 1.4-2.3 1.7-3.5 1.3-3.4 .9-3.5 .6-3.4 .3-3.5 -.1-3.4 -.3-2.3 -1.4-4.6 -1.7-3.5 -1.5-2.3 -1.9-2.3 -1.8-1.8 -2.3-1.9 -2.3-1.5 -4.6-2.2 -5.8-1.8 -3.4-.6 -3.5-.3 -3.5 .1 0 3.9 3.5-.1 3.5 .4 3.4 .7 3.5 1.1 3.4 1.7 2.3 1.4 2.7 2.1 2.2 2.3 2.4 3.4 1.1 2.3 .8 2.3 .9 4.6 0 4.6 -.2 2.3 -.7 3.5 -1.6 4.6 -1.2 2.3 -1.4 2.3 -2.6 3.2 -2.4 2.2 -2.3 1.7 -2.3 1.5 -3.4 1.6 -2.3 .7 -3.5 .8 -2.3 .2 -3.5 0 0 4.5zM109.5 251.4l5.8 .8 2.3 .1 3.5-.2 3.4-.5 2.3-.6 2.8-.9 3-1.4 2.3-1.3 2.3-1.6 2.3-2 1.7-1.8 1.8-2.3 1.4-2.3 1.1-2.3 1.3-3.4 .8-3.5 .3-2.3 .1-2.3 -.2-3.4 -.6-3.5 -.9-3.4 -1.3-3.5 -1.2-2.3 -1.3-2.3 -1.8-2.4 -2-2.2 -2.7-2.3 -3.1-2.3 -2.6-1.4 -2.3-1 -2.3-.6 -3.5-.6 -2.3-.1 -3.5 0 -3.4 .4 -3.5 .8 -2.3 .7 -3.4 1.5 -2.3 1.3 -2.3 1.6 -2.5 2 -2.2 2.3 -1.8 2.3 -2.7 4.6 -2.1 5.8 -1 4.6 -.2 2.3 .2 3.4 .5 3.5 .6 2.3 1.4 3.4 1.1 2.3 1.5 2.3 1.8 2.3 1.9 1.9 2.3 2 2.7 1.9 3.1 1.7 2.3 .9 2.7 .8zM114.7 247.8l-5.2-1.1 -4.6-1.7 -3.4-2.1 -3.7-3.2 -1.9-2.3 -1.4-2.3 -1.2-2.3 -.9-2.3 -1-4.6 -.1-2.3 .2-2.3 1.1-5.7 1.8-4.6 1.4-2.3 1.7-2.3 3.4-3.5 2.9-2 2.3-1.3 4.6-1.7 4.6-.9 2.3-.2 3.5 .2 4.6 .9 2.3 .8 2.3 1.1 2.3 1.4 2.2 1.7 3.2 3.5 1.5 2.3 1.3 2.3 1.7 4.6 .7 4.6 .1 2.3 -.2 3.4 -1 4.6 -.8 2.3 -1.1 2.3 -1.5 2.3 -1.5 1.9 -3.5 3.3 -3.4 2.2 -2.3 1.1 -2.3 .8 -4.6 1 -3.5 .2 -2.3-.1z"/>
<path fill="#b0ff40" d="M19.6 311.4l3.5-.1 2.3-.3 4.6-1.3 2.3-1 2.3-1.3 2.3-1.6 2.3-1.9 2-2.1 1.8-2.3 1.4-2.3 1.2-2.3 1.6-4.6 .7-3.5 .2-2.3 .1-3.4 -.3-2.3 -.4-2.3 -.7-2.3 -.9-2.3 -1.3-2.3 -2.8-3.5 -1.4-1.4 -2.7-2 -3.1-1.8 -2.3-1.1 -4.6-1.4 -3.5-.6 -2.3-.2 -3.5 .1 0 3.9 2.4-.2 3.4 .2 3.5 .7 2.3 .8 2.3 1 2.3 1.4 2.3 1.8 2.3 2.3 2.4 3.4 1.5 3.5 .8 3.4 .2 2.3 0 2.3 -.7 4.6 -1.1 3.5 -1.8 3.4 -2.6 3.5 -2.2 2 -2.3 1.7 -2.3 1.3 -2.3 1 -4.6 1.3 -2.3 .2 -3.5 0 0 4.4zM115.3 247.8l2.3 .1 3.5-.2 4.6-1 2.3-.8 2.3-1.1 3.4-2.2 3.5-3.3 1.5-1.9 1.5-2.3 1.1-2.3 .8-2.3 1-4.6 .2-3.4 -.1-2.3 -.7-4.6 -1.7-4.6 -1.3-2.3 -1.5-2.3 -3.2-3.5 -2.2-1.7 -2.3-1.4 -2.3-1.1 -2.3-.8 -4.6-.9 -3.5-.2 -2.3 .2 -4.6 .9 -4.6 1.7 -2.3 1.3 -2.9 2 -3.4 3.5 -1.7 2.3 -1.4 2.3 -1.8 4.6 -1.1 5.7 -.2 2.3 .1 2.3 1 4.6 .9 2.3 1.2 2.3 1.4 2.3 1.9 2.3 3.7 3.2 3.4 2.1 4.6 1.7 5.2 1.1zM112.5 243.2l-4.1-1.4 -3.9-2.1 -3-2.5 -2.7-3.2 -1.7-3.5 -1-3.4 -.3-2.3 0-2.3 .2-2.3 .4-2.3 .6-2.3 1-2.3 2.1-3.5 2.5-2.7 3.5-2.7 3.4-1.7 2.3-.8 2.3-.5 3.5-.3 2.3 .2 2.3 .3 2.3 .6 2.3 .9 3.5 2.1 2.7 2.3 2.7 3.5 1.7 3.4 .7 2.3 .5 2.3 .3 4.6 -.5 3.5 -.6 2.3 -.9 2.3 -2 3.4 -2.3 2.7 -3.5 2.7 -3.4 1.7 -2.3 .8 -2.3 .5 -3.5 .2 -4.6-.4z"/>
<path fill="#ffe000" d="M19.6 307.1l4.6-.3 4.6-1.3 2.3-1 2.3-1.3 3.3-2.6 3-3.4 2.1-3.5 .9-2.3 .7-2.3 .7-4.6 0-2.3 -.2-2.3 -.5-2.3 -.7-2.3 -1.8-3.4 -2.7-3.5 -3.6-2.9 -3.5-1.9 -3.4-1.3 -4.6-.8 -4.7 .1 0 3.7 2.4-.2 2.3 0 3.4 .7 2.3 .8 2.3 1.1 3.5 2.5 1.6 1.7 1.6 2.3 1.6 3.4 .8 3.5 .2 2.3 -.1 2.3 -.7 3.4 -1.4 3.5 -1.4 2.3 -2.2 2.5 -3.5 2.7 -3.5 1.7 -2.2 .7 -2.3 .4 -2.3 .1 -2.4-.2 0 4.2zM113.0 243.3l4.6 .4 3.5-.2 2.3-.5 2.3-.8 3.4-1.7 3.5-2.7 2.3-2.7 2-3.4 .9-2.3 .6-2.3 .5-3.5 -.3-4.6 -.5-2.3 -.7-2.3 -1.7-3.4 -2.7-3.5 -2.7-2.3 -3.5-2.1 -2.3-.9 -2.3-.6 -2.3-.3 -2.3-.2 -3.5 .3 -2.3 .5 -2.3 .8 -3.4 1.7 -3.5 2.7 -2.5 2.7 -2.1 3.5 -1 2.3 -.6 2.3 -.4 2.3 -.2 2.3 0 2.3 .3 2.3 1 3.4 1.7 3.5 2.7 3.2 3 2.5 3.9 2.1 4.1 1.4zM112.0 238.6l-2.8-1.2 -3.1-2.1 -2.3-2.4 -1.6-2.4 -1.1-2.3 -.8-3.4 -.1-3.5 .6-3.4 1.5-3.5 1.5-2.3 2.3-2.3 3.3-2.3 2.8-1.1 3.1-.7 3.5-.1 3.4 .6 3.3 1.3 2.5 1.6 2.3 2.2 2.1 3.1 1.3 3.3 .5 2.5 .2 3.4 -.6 3.5 -1.2 3.2 -1.6 2.5 -2.1 2.3 -3.2 2.3 -2.7 1.2 -3.1 .7 -3.5 .1 -3.4-.6z"/>
<path fill="#ff9000" d="M19.6 303.0l3.5-.1 3.4-.8 3.5-1.4 3.4-2.3 2.5-2.4 2.3-3.4 1.4-3.5 .7-3.4 .1-3.5 -.6-3.4 -1.3-3.5 -2.3-3.4 -2.8-2.7 -3.4-2.1 -3.5-1.3 -3.4-.7 -2.3 0 -2.4 .2 0 3.6 3.5-.2 3.5 .4 3.4 1.4 2.2 1.4 1.3 1.1 2.3 3 1.3 2.8 .8 3.4 -.1 3.5 -.8 3.4 -1.2 2.3 -1.6 2.3 -2.5 2.3 -2.8 1.7 -3.5 1.1 -3.4 .3 -2.4-.2 0 3.9 .8 .1zM113.0 238.8l3.4 .6 3.5-.1 3.1-.7 2.7-1.2 3.2-2.3 2.1-2.3 1.6-2.5 1.2-3.2 .6-3.5 -.2-3.4 -.5-2.5 -1.3-3.3 -2.1-3.1 -2.3-2.2 -2.5-1.6 -3.3-1.3 -3.4-.6 -3.5 .1 -3.1 .7 -2.8 1.1 -3.3 2.3 -2.3 2.3 -1.5 2.3 -1.5 3.5 -.6 3.4 .1 3.5 .8 3.4 1.1 2.3 1.6 2.4 2.3 2.4 3.1 2.1 2.8 1.2zM115.3 234.0l-2.3-.7 -2.3-1.1 -2-1.7 -1-1.1 -1.4-2.3 -.7-2.3 -.2-2.3 .2-2.3 .8-2.3 .8-1.6 1.4-1.9 2.1-1.7 2.3-1.1 2.3-.7 2.3-.2 2.3 .3 2.3 .8 1.2 .6 2.3 1.7 1.2 1.5 1.3 2.3 .7 2.3 .2 2.3 -.2 2.3 -.7 2.3 -.6 1.1 -1.6 2.3 -1.5 1.3 -2.3 1.4 -2.3 .7 -2.3 .2 -2.3-.1z"/>
<path fill="#ff4010" d="M19.6 299.1l3.5-.1 2.3-.5 3.3-1.3 2.4-1.7 1.9-1.8 1.6-2.3 1.2-2.3 .8-3.4 .2-2.3 -.5-3.5 -1.4-3.4 -1.5-2.2 -2.3-2.3 -2.3-1.5 -2.3-1 -3.4-.8 -2.3 0 -2.4 .2 0 4 3.5-.4 2.3 .3 2.3 .8 2.6 1.7 2 2.3 1.1 2.3 .5 2.3 0 3.5 -.7 2.3 -1.3 2.3 -.9 1.1 -2.1 1.8 -2.3 1.2 -2.3 .6 -2.3 .1 -2.4-.3 0 4.1zM115.3 234.0l2.3 .1 2.3-.2 2.3-.7 2.3-1.4 1.5-1.3 1.6-2.3 .6-1.1 .7-2.3 .2-2.3 -.2-2.3 -.7-2.3 -1.3-2.3 -1.2-1.5 -2.3-1.7 -1.2-.6 -2.3-.8 -2.3-.3 -2.3 .2 -2.3 .7 -2.3 1.1 -2.1 1.7 -1.4 1.9 -.8 1.6 -.8 2.3 -.2 2.3 .2 2.3 .7 2.3 1.4 2.3 1 1.1 2 1.7 2.3 1.1 2.3 .7z"/>
<path fill="#f01010" d="M19.6 295.0l2.3 .1 2.3-.4 2.3-.9 1.2-.6 2.1-1.8 .9-1.1 1.3-2.3 .7-2.3 .1-2.3 -.3-2.3 -.3-1.2 -1.1-2.3 -1.1-1.4 -2.3-1.9 -2.3-1.1 -1.2-.4 -2.3-.3 -3.5 .4 0 4.9 1.2-.4 2.3-.3 2.3 .5 1.9 1.2 1 1.1 1 2.3 .1 2.3 -.3 1.2 -.5 1.1 -.9 1.3 -1.1 1 -1.2 .7 -1.1 .4 -2.3 .2 -1.2-.2 -1.2-.5 0 5.1 .5 .1z"/>
<path fill="#b00000" d="M20.8 290.4l2.3-.2 1.1-.4 1.2-.7 1.1-1 .9-1.3 .8-2.3 -.1-2.3 -1-2.3 -1.7-1.7 -2.3-1 -2.3-.1 -2.4 .7 0 11.9 1.8 .6z"/>
<path fill="none" stroke="#000" stroke-width="0.55" d="M92.4 325.9l1.5-9.2 1.6-4.6 .8-1.1 .5-.4 1.5-.8 2-.7 5.8-1.7 2.8-1 1.8-1.1 3.4-2.7 2.3-1.3 11.6-2.4 4.6-1.2 24.2-8.8M39.5 188.0l-.4 1.1 -.7 1.2 -3.2 3.4 -4.1 5.9 -2.3 2.4 -1.1 .8 -3.5 1.4 -2.3 .6 -3.5 .4M60.4 325.9l4.6-5.7 1.4-2.3 1.2-2.3 1.4-3.5 2.5-8 1.1-2.7 2.9-5.4 2.3-5.7 .7-1.2 1.1-1.1 3-2.3 2.7-2.8 5.8-2.3 3.4-.9 2.3-.1 8.1 1.4 5.8 .4 2.3-.1 4.6-.8 8.1-.5 4.6-.6 3.4-.6 5.8-1.6 17.3-5.9M61.6 188.0l-1 3.4 -1 4.6 -1.7 4.6 -1.4 8.1 -1.2 4.6 -.9 2.3 -.7 1.1 -3 3.6 -1.1 .9 -1.2 .4 -2.3 .4 -.9 .5 -2.8 2.3 -2 1.1 -1.2 .2 -6.9 0 -5.8 1 -8.1 .2M46.4 325.9l4.3-3.9 3.9-4.1 2.8-3.5 2.3-3.4 1.2-2.3 2.5-5.8 4.5-11.5 .1-1.1 1-3.5 .4-2.3 1.4-3.4 .7-1.2 .2-1.1 .6-1.2 .3-1.1 0-3.5 1.2-2.3 0-2.3 1.1-1.1 0-1.2 7 0 2.3 1.1 6.9 .2 5.7 1 3.5 1.2 4.6 .9 4.6 .5 2.3 .1 5.8-.7 10.4-.6 6.9-1.1 6.9-1.7 5.8-1.8 4.6-1.8 4.6-2.3M77.2 188.0l-1.1 1.1 0 1.2 -1.2 1.1 0 1.2 -2.3 2.3 0 2.3 -1.1 1.1 0 1.2 -1.2 1.1 0 2.3 -1.1 1.2 0 1.1 -1.2 1.2 0 3.4 -1.1 1.2 0 6.9 -1.2 1.1 0 6.9 -1.1 1.2 0 3.4 -1.2 1.2 0 6.9 -1.1 1.1 0 3.5 -1.2 1.1 0 1.2 -2.3 0 -1.2-1.2 -4.6 0 -1.1-1.1 -1.2 0 -1.1-1.2 -3.5 0 -1.1-1.1 -3.5 0 -1.1-1.2 -3.5 0 -1.2-1.1 -17.3 0M32.7 325.9l3-1.4 3.5-2.1 3.5-2.5 3.4-3 2.4-2.5 2.9-3.4 1.6-2.4 2-3.4 1.6-3.4 1.9-4.6 2.8-8.1 .7-2.3 .5-3.4 .9-9.2 0-2.3 -.3-2.3 -.6-2.3 -.9-2.3 -1.1-2.3 -1.7-2.7 -1.5-1.9 -2.4-2.3 -1.9-1.5 -2.3-1.5 -10.3-4.3 -4.7-1.6 -3.4-.6 -5.8-.7 -4.6-.2 -3.5 .1M156.8 196.2l-1.5-2.5 -1.6-2.3 -3.5-3.4M93.4 188.0l-3.5 2.8 -2.3 2.3 -2.4 2.9 -2.2 3.2 -2 3.7 -3.4 8.1 -1.1 4.6 -.5 4.6 -.2 5.7 .7 9.2 .6 4.6 1 3.5 1.1 2.3 1.7 2.3 2.1 2 3.5 2.6 8 4.4 4.7 2.3 4.6 1.7 3.4 .9 3.5 .6 10.4-.1 6.9-.9 5.7-1.3 6-1.9 5.3-2.3 4-2.3 3.2-2.4 2.1-2.2 1.3-1.7 1.2-2.6M18.4 320.9l3.5-.1 3.5-.4 3.4-.8 3.5-1.1 3.4-1.6 3.5-2.1 3.5-2.6 2.5-2.4 2.1-2.3 2.5-3.4 2-3.5 1.6-3.4 1.6-4.6 1.2-4.6 .6-3.5 .2-3.4 -.2-3.5 -.6-3.4 -1.1-3.5 -1.4-3.4 -1.4-2.3 -1.7-2.3 -2.1-2.3 -2.5-2.3 -3.1-2.3 -2.5-1.5 -3.5-1.6 -2.3-.8 -4.6-1.1 -3.5-.6 -4.6-.4 -3.5 .1M111.0 188.0l-2.6 .6 -3.5 1.2 -2.3 1 -3.4 1.9 -3.3 2.2 -2.5 2.2 -2.3 2.4 -1.9 2.3 -1.6 2.4 -1.7 3.3 -3 8.1 -.5 2.3 -.4 3.4 .2 5.8 1.1 5.7 1.1 3.5 1.1 2.3 1.3 2.3 2 2.8 2.3 2.6 2.3 2.1 2.3 1.8 3.5 2.1 3.4 1.8 2.3 .9 4.6 1.3 8.1 .6 3.5-.2 3.4-.4 5.8-1.4 5.7-2.4 4.7-2.8 3.6-3.1 2.1-2.3 1.7-2.3 2.4-4.6 1.2-3.4 .5-2.3 .3-3.5 0-4.6 -.2-5.7 -.5-3.5 -1.4-5.7 -.9-2.3 -1.8-3.5 -1.5-2.3 -2.1-2.5 -2.3-2.2 -2.3-1.9 -3.5-2.1 -2.3-1.1 -7.5-2.8M18.4 315.9l3.5 0 3.5-.4 3.4-.8 2.3-.8 3.5-1.6 2.3-1.3 3.2-2.3 2.6-2.4 2.3-2.7 2.1-3 1.3-2.4 1.5-3.3 1.2-3.5 .8-3.4 .5-3.5 .1-3.4 -.1-2.3 -.6-3.5 -1.1-3.2 -1.1-2.5 -1.3-2.3 -1.7-2.3 -2.1-2.3 -1.8-1.7 -2.3-1.7 -2.4-1.4 -3.4-1.5 -3.5-1.2 -3.4-.8 -3.5-.5 -3.4-.2 -2.4 .1M109.5 251.4l5.8 .8 2.3 .1 3.5-.2 3.4-.5 2.3-.6 2.8-.9 3-1.4 2.3-1.3 2.3-1.6 2.3-2 1.7-1.8 1.8-2.3 1.4-2.3 1.1-2.3 1.3-3.4 .8-3.5 .3-2.3 .1-2.3 -.2-3.4 -.6-3.5 -.9-3.4 -1.3-3.5 -1.2-2.3 -1.3-2.3 -1.8-2.4 -2-2.2 -2.7-2.3 -3.1-2.3 -2.6-1.4 -2.3-1 -2.3-.6 -3.5-.6 -2.3-.1 -3.5 0 -3.4 .4 -3.5 .8 -2.3 .7 -3.4 1.5 -2.3 1.3 -2.3 1.6 -2.5 2 -2.2 2.3 -1.8 2.3 -2.7 4.6 -2.1 5.8 -1 4.6 -.2 2.3 .2 3.4 .5 3.5 .6 2.3 1.4 3.4 1.1 2.3 1.5 2.3 1.8 2.3 1.9 1.9 2.3 2 2.7 1.9 3.1 1.7 2.3 .9 2.7 .8zM18.4 311.4l3.5 0 2.3-.2 3.5-.8 2.3-.7 2.3-1 2.3-1.3 2.3-1.6 2.3-1.9 2-2.1 1.8-2.3 1.4-2.3 1.7-3.5 .8-2.3 .8-3.4 .4-2.3 .1-3.5 -.3-3.4 -.4-2.3 -.7-2.3 -.9-2.3 -1.3-2.3 -1.7-2.3 -1.4-1.5 -2.2-2 -2.4-1.6 -2.3-1.3 -4.6-1.9 -2.3-.6 -3.5-.6 -3.4-.2 -2.4 .1M115.3 247.8l2.3 .1 3.5-.2 4.6-1 2.3-.8 2.3-1.1 3.4-2.2 3.5-3.3 1.5-1.9 1.5-2.3 1.1-2.3 .8-2.3 1-4.6 .2-3.4 -.1-2.3 -.7-4.6 -1.7-4.6 -1.3-2.3 -1.5-2.3 -3.2-3.5 -2.2-1.7 -2.3-1.4 -2.3-1.1 -2.3-.8 -4.6-.9 -3.5-.2 -2.3 .2 -4.6 .9 -4.6 1.7 -2.3 1.3 -2.9 2 -3.4 3.5 -1.7 2.3 -1.4 2.3 -1.8 4.6 -1.1 5.7 -.2 2.3 .1 2.3 1 4.6 .9 2.3 1.2 2.3 1.4 2.3 1.9 2.3 3.7 3.2 3.4 2.1 4.6 1.7 5.2 1.1zM18.4 307.0l3.5 0 2.3-.2 4.6-1.3 2.3-1 2.3-1.3 3.3-2.6 3-3.4 1.5-2.3 1.1-2.3 .8-2.3 .6-2.3 .5-4.6 -.1-2.3 -.4-2.3 -.6-2.3 -.9-2.3 -2.1-3.5 -1.9-2.3 -1.3-1.1 -3.5-2.5 -2.3-1.2 -2.3-.9 -4.6-1.1 -3.4-.2 -2.4 .2M113.0 243.3l4.6 .4 3.5-.2 2.3-.5 2.3-.8 3.4-1.7 3.5-2.7 2.3-2.7 2-3.4 .9-2.3 .6-2.3 .5-3.5 -.3-4.6 -.5-2.3 -.7-2.3 -1.7-3.4 -2.7-3.5 -2.7-2.3 -3.5-2.1 -2.3-.9 -2.3-.6 -2.3-.3 -2.3-.2 -3.5 .3 -2.3 .5 -2.3 .8 -3.4 1.7 -3.5 2.7 -2.5 2.7 -2.1 3.5 -1 2.3 -.6 2.3 -.4 2.3 -.2 2.3 0 2.3 .3 2.3 1 3.4 1.7 3.5 2.7 3.2 3 2.5 3.9 2.1 4.1 1.4zM18.4 302.8l3.5 .2 2.3-.3 2.3-.6 3.5-1.4 3.6-2.4 1.2-1.1 2-2.3 1.9-3.5 1.2-3.4 .4-2.3 .1-2.3 -.2-2.3 -.4-2.3 -1.3-3.5 -2.3-3.4 -2.3-2.3 -3.5-2.3 -3.9-1.5 -3.4-.7 -2.3 0 -2.4 .2M113.0 238.8l3.4 .6 3.5-.1 3.1-.7 2.7-1.2 3.2-2.3 2.1-2.3 1.6-2.5 1.2-3.2 .6-3.5 -.2-3.4 -.5-2.5 -1.3-3.3 -2.1-3.1 -2.3-2.2 -2.5-1.6 -3.3-1.3 -3.4-.6 -3.5 .1 -3.1 .7 -2.8 1.1 -3.3 2.3 -2.3 2.3 -1.5 2.3 -1.5 3.5 -.6 3.4 .1 3.5 .8 3.4 1.1 2.3 1.6 2.4 2.3 2.4 3.1 2.1 2.8 1.2zM18.4 298.9l3.5 .2 3.5-.6 3.3-1.3 2.4-1.7 2.3-2.3 1.8-2.9 1.2-3.5 .4-3.4 -.5-3.5 -.8-2.3 -.9-1.6 -1.2-1.7 -2.3-2.3 -2.3-1.5 -3.4-1.4 -3.5-.4 -3.5 .2M115.3 234.0l2.3 .1 2.3-.2 2.3-.7 2.3-1.4 1.5-1.3 1.6-2.3 .6-1.1 .7-2.3 .2-2.3 -.2-2.3 -.7-2.3 -1.3-2.3 -1.2-1.5 -2.3-1.7 -1.2-.6 -2.3-.8 -2.3-.3 -2.3 .2 -2.3 .7 -2.3 1.1 -2.1 1.7 -1.4 1.9 -.8 1.6 -.8 2.3 -.2 2.3 .2 2.3 .7 2.3 1.4 2.3 1 1.1 2 1.7 2.3 1.1 2.3 .7zM18.4 294.8l2.4 .3 3.4-.4 2.3-.9 2-1.2 2.2-2.3 1.3-2.3 .7-2.3 .1-2.3 -.5-3.2 -1.2-2.5 -1.1-1.5 -2.3-1.9 -2.3-1.1 -2.3-.6 -2.3-.1 -2.4 .4M18.4 289.7l1.2 .5 2.3 .2 2.3-.6 1.2-.7 1.1-1 .9-1.3 .5-1.1 .3-2.3 -.5-2.3 -.6-1.2 -1.7-1.7 -1.2-.6 -2.3-.5 -2.3 .3 -1.2 .4"/><path d="M18.45 325.90h0M21.91 325.90h0M25.37 325.90h0M28.83 325.90h0M32.29 325.90h0M35.74 325.90h0M39.20 325.90h0M42.66 325.90h0M46.12 325.90h0M49.58 325.90h0M53.04 325.90h0M56.50 325.90h0M59.95 325.90h0M63.41 325.90h0M66.87 325.90h0M70.33 325.90h0M73.79 325.90h0M77.25 325.90h0M80.71 325.90h0M84.17 325.90h0M87.63 325.90h0M91.08 325.90h0M94.54 325.90h0M98.00 325.90h0M101.46 325.90h0M104.92 325.90h0M108.38 325.90h0M111.84 325.90h0M115.30 325.90h0M118.75 325.90h0M122.21 325.90h0M125.67 325.90h0M129.13 325.90h0M132.59 325.90h0M136.05 325.90h0M139.51 325.90h0M142.97 325.90h0M146.42 325.90h0M149.88 325.90h0M153.34 325.90h0M156.80 325.90h0M18.45 322.45h0M21.91 322.45h0M25.37 322.45h0M28.83 322.45h0M32.29 322.45h0M35.74 322.45h0M39.20 322.45h0M42.66 322.45h0M46.12 322.45h0M49.58 322.45h0M53.04 322.45h0M56.50 322.45h0M59.95 322.45h0M63.41 322.45h0M66.87 322.45h0M70.33 322.45h0M73.79 322.45h0M77.25 322.45h0M80.71 322.45h0M84.17 322.45h0M87.63 322.45h0M91.08 322.45h0M94.54 322.45h0M98.00 322.45h0M101.46 322.45h0M104.92 322.45h0M108.38 322.45h0M111.84 322.45h0M115.30 322.45h0M118.75 322.45h0M122.21 322.45h0M125.67 322.45h0M129.13 322.45h0M132.59 322.45h0M136.05 322.45h0M139.51 322.45h0M142.97 322.45h0M146.42 322.45h0M149.88 322.45h0M153.34 322.45h0M156.80 322.45h0M18.45 319.00h0M21.91 319.00h0M25.37 319.00h0M28.83 319.00h0M32.29 319.00h0M35.74 319.00h0M39.20 319.00h0M42.66 319.00h0M46.12 319.00h0M49.58 319.00h0M53.04 319.00h0M56.50 319.00h0M59.95 319.00h0M63.41 319.00h0M66.87 319.00h0M70.33 319.00h0M73.79 319.00h0M77.25 319.00h0M80.71 319.00h0M84.17 319.00h0M87.63 319.00h0M91.08 319.00h0M94.54 319.00h0M98.00 319.00h0M101.46 319.00h0M104.92 319.00h0M108.38 319.00h0M111.84 319.00h0M115.30 319.00h0M118.75 319.00h0M122.21 319.00h0M125.67 319.00h0M129.13 319.00h0M132.59 319.00h0M136.05 319.00h0M139.51 319.00h0M142.97 319.00h0M146.42 319.00h0M149.88 319.00h0M153.34 319.00h0M156.80 319.00h0M18.45 315.56h0M21.91 315.56h0M25.37 315.56h0M28.83 315.56h0M32.29 315.56h0M35.74 315.56h0M39.20 315.56h0M42.66 315.56h0M46.12 315.56h0M49.58 315.56h0M53.04 315.56h0M56.50 315.56h0M59.95 315.56h0M63.41 315.56h0M66.87 315.56h0M70.33 315.56h0M73.79 315.56h0M77.25 315.56h0M80.71 315.56h0M84.17 315.56h0M87.63 315.56h0M91.08 315.56h0M94.54 315.56h0M98.00 315.56h0M101.46 315.56h0M104.92 315.56h0M108.38 315.56h0M111.84 315.56h0M115.30 315.56h0M118.75 315.56h0M122.21 315.56h0M125.67 315.56h0M129.13 315.56h0M132.59 315.56h0M136.05 315.56h0M139.51 315.56h0M142.97 315.56h0M146.42 315.56h0M149.88 315.56h0M153.34 315.56h0M156.80 315.56h0M18.45 312.11h0M21.91 312.11h0M25.37 312.11h0M28.83 312.11h0M32.29 312.11h0M35.74 312.11h0M39.20 312.11h0M42.66 312.11h0M46.12 312.11h0M49.58 312.11h0M53.04 312.11h0M56.50 312.11h0M59.95 312.11h0M63.41 312.11h0M66.87 312.11h0M70.33 312.11h0M73.79 312.11h0M77.25 312.11h0M80.71 312.11h0M84.17 312.11h0M87.63 312.11h0M91.08 312.11h0M94.54 312.11h0M98.00 312.11h0M101.46 312.11h0M104.92 312.11h0M108.38 312.11h0M111.84 312.11h0M115.30 312.11h0M118.75 312.11h0M122.21 312.11h0M125.67 312.11h0M129.13 312.11h0M132.59 312.11h0M136.05 312.11h0M139.51 312.11h0M142.97 312.11h0M146.42 312.11h0M149.88 312.11h0M153.34 312.11h0M156.80 312.11h0M18.45 308.66h0M21.91 308.66h0M25.37 308.66h0M28.83 308.66h0M32.29 308.66h0M35.74 308.66h0M39.20 308.66h0M42.66 308.66h0M46.12 308.66h0M49.58 308.66h0M53.04 308.66h0M56.50 308.66h0M59.95 308.66h0M63.41 308.66h0M66.87 308.66h0M70.33 308.66h0M73.79 308.66h0M77.25 308.66h0M80.71 308.66h0M84.17 308.66h0M87.63 308.66h0M91.08 308.66h0M94.54 308.66h0M98.00 308.66h0M101.46 308.66h0M104.92 308.66h0M108.38 308.66h0M111.84 308.66h0M115.30 308.66h0M118.75 308.66h0M122.21 308.66h0M125.67 308.66h0M129.13 308.66h0M132.59 308.66h0M136.05 308.66h0M139.51 308.66h0M142.97 308.66h0M146.42 308.66h0M149.88 308.66h0M153.34 308.66h0M156.80 308.66h0M18.45 305.21h0M21.91 305.21h0M25.37 305.21h0M28.83 305.21h0M32.29 305.21h0M35.74 305.21h0M39.20 305.21h0M42.66 305.21h0M46.12 305.21h0M49.58 305.21h0M53.04 305.21h0M56.50 305.21h0M59.95 305.21h0M63.41 305.21h0M66.87 305.21h0M70.33 305.21h0M73.79 305.21h0M77.25 305.21h0M80.71 305.21h0M84.17 305.21h0M87.63 305.21h0M91.08 305.21h0M94.54 305.21h0M98.00 305.21h0M101.46 305.21h0M104.92 305.21h0M108.38 305.21h0M111.84 305.21h0M115.30 305.21h0M118.75 305.21h0M122.21 305.21h0M125.67 305.21h0M129.13 305.21h0M132.59 305.21h0M136.05 305.21h0M139.51 305.21h0M142.97 305.21h0M146.42 305.21h0M149.88 305.21h0M153.34 305.21h0M156.80 305.21h0M18.45 301.77h0M21.91 301.77h0M25.37 301.77h0M28.83 301.77h0M32.29 301.77h0M35.74 301.77h0M39.20 301.77h0M42.66 301.77h0M46.12 301.77h0M49.58 301.77h0M53.04 301.77h0M56.50 301.77h0M59.95 301.77h0M63.41 301.77h0M66.87 301.77h0M70.33 301.77h0M73.79 301.77h0M77.25 301.77h0M80.71 301.77h0M84.17 301.77h0M87.63 301.77h0M91.08 301.77h0M94.54 301.77h0M98.00 301.77h0M101.46 301.77h0M104.92 301.77h0M108.38 301.77h0M111.84 301.77h0M115.30 301.77h0M118.75 301.77h0M122.21 301.77h0M125.67 301.77h0M129.13 301.77h0M132.59 301.77h0M136.05 301.77h0M139.51 301.77h0M142.97 301.77h0M146.42 301.77h0M149.88 301.77h0M153.34 301.77h0M156.80 301.77h0M18.45 298.32h0M21.91 298.32h0M25.37 298.32h0M28.83 298.32h0M32.29 298.32h0M35.74 298.32h0M39.20 298.32h0M42.66 298.32h0M46.12 298.32h0M49.58 298.32h0M53.04 298.32h0M56.50 298.32h0M59.95 298.32h0M63.41 298.32h0M66.87 298.32h0M70.33 298.32h0M73.79 298.32h0M77.25 298.32h0M80.71 298.32h0M84.17 298.32h0M87.63 298.32h0M91.08 298.32h0M94.54 298.32h0M98.00 298.32h0M101.46 298.32h0M104.92 298.32h0M108.38 298.32h0M111.84 298.32h0M115.30 298.32h0M118.75 298.32h0M122.21 298.32h0M125.67 298.32h0M129.13 298.32h0M132.59 298.32h0M136.05 298.32h0M139.51 298.32h0M142.97 298.32h0M146.42 298.32h0M149.88 298.32h0M153.34 298.32h0M156.80 298.32h0M18.45 294.87h0M21.91 294.87h0M25.37 294.87h0M28.83 294.87h0M32.29 294.87h0M35.74 294.87h0M39.20 294.87h0M42.66 294.87h0M46.12 294.87h0M49.58 294.87h0M53.04 294.87h0M56.50 294.87h0M59.95 294.87h0M63.41 294.87h0M66.87 294.87h0M70.33 294.87h0M73.79 294.87h0M77.25 294.87h0M80.71 294.87h0M84.17 294.87h0M87.63 294.87h0M91.08 294.87h0M94.54 294.87h0M98.00 294.87h0M101.46 294.87h0M104.92 294.87h0M108.38 294.87h0M111.84 294.87h0M115.30 294.87h0M118.75 294.87h0M122.21 294.87h0M125.67 294.87h0M129.13 294.87h0M132.59 294.87h0M136.05 294.87h0M139.51 294.87h0M142.97 294.87h0M146.42 294.87h0M149.88 294.87h0M153.34 294.87h0M156.80 294.87h0M18.45 291.42h0M21.91 291.42h0M25.37 291.42h0M28.83 291.42h0M32.29 291.42h0M35.74 291.42h0M39.20 291.42h0M42.66 291.42h0M46.12 291.42h0M49.58 291.42h0M53.04 291.42h0M56.50 291.42h0M59.95 291.42h0M63.41 291.42h0M66.87 291.42h0M70.33 291.42h0M73.79 291.42h0M77.25 291.42h0M80.71 291.42h0M84.17 291.42h0M87.63 291.42h0M91.08 291.42h0M94.54 291.42h0M98.00 291.42h0M101.46 291.42h0M104.92 291.42h0M108.38 291.42h0M111.84 291.42h0M115.30 291.42h0M118.75 291.42h0M122.21 291.42h0M125.67 291.42h0M129.13 291.42h0M132.59 291.42h0M136.05 291.42h0M139.51 291.42h0M142.97 291.42h0M146.42 291.42h0M149.88 291.42h0M153.34 291.42h0M156.80 291.42h0M18.45 287.98h0M21.91 287.98h0M25.37 287.98h0M28.83 287.98h0M32.29 287.98h0M35.74 287.98h0M39.20 287.98h0M42.66 287.98h0M46.12 287.98h0M49.58 287.98h0M53.04 287.98h0M56.50 287.98h0M59.95 287.98h0M63.41 287.98h0M66.87 287.98h0M70.33 287.98h0M73.79 287.98h0M77.25 287.98h0M80.71 287.98h0M84.17 287.98h0M87.63 287.98h0M91.08 287.98h0M94.54 287.98h0M98.00 287.98h0M101.46 287.98h0M104.92 287.98h0M108.38 287.98h0M111.84 287.98h0M115.30 287.98h0M118.75 287.98h0M122.21 287.98h0M125.67 287.98h0M129.13 287.98h0M132.59 287.98h0M136.05 287.98h0M139.51 287.98h0M142.97 287.98h0M146.42 287.98h0M149.88 287.98h0M153.34 287.98h0M156.80 287.98h0M18.45 284.53h0M21.91 284.53h0M25.37 284.53h0M28.83 284.53h0M32.29 284.53h0M35.74 284.53h0M39.20 284.53h0M42.66 284.53h0M46.12 284.53h0M49.58 284.53h0M53.04 284.53h0M56.50 284.53h0M59.95 284.53h0M63.41 284.53h0M66.87 284.53h0M70.33 284.53h0M73.79 284.53h0M77.25 284.53h0M80.71 284.53h0M84.17 284.53h0M87.63 284.53h0M91.08 284.53h0M94.54 284.53h0M98.00 284.53h0M101.46 284.53h0M104.92 284.53h0M108.38 284.53h0M111.84 284.53h0M115.30 284.53h0M118.75 284.53h0M122.21 284.53h0M125.67 284.53h0M129.13 284.53h0M132.59 284.53h0M136.05 284.53h0M139.51 284.53h0M142.97 284.53h0M146.42 284.53h0M149.88 284.53h0M153.34 284.53h0M156.80 284.53h0M18.45 281.08h0M21.91 281.08h0M25.37 281.08h0M28.83 281.08h0M32.29 281.08h0M35.74 281.08h0M39.20 281.08h0M42.66 281.08h0M46.12 281.08h0M49.58 281.08h0M53.04 281.08h0M56.50 281.08h0M59.95 281.08h0M63.41 281.08h0M66.87 281.08h0M70.33 281.08h0M73.79 281.08h0M77.25 281.08h0M80.71 281.08h0M84.17 281.08h0M87.63 281.08h0M91.08 281.08h0M94.54 281.08h0M98.00 281.08h0M101.46 281.08h0M104.92 281.08h0M108.38 281.08h0M111.84 281.08h0M115.30 281.08h0M118.75 281.08h0M122.21 281.08h0M125.67 281.08h0M129.13 281.08h0M132.59 281.08h0M136.05 281.08h0M139.51 281.08h0M142.97 281.08h0M146.42 281.08h0M149.88 281.08h0M153.34 281.08h0M156.80 281.08h0M18.45 277.63h0M21.91 277.63h0M25.37 277.63h0M28.83 277.63h0M32.29 277.63h0M35.74 277.63h0M39.20 277.63h0M42.66 277.63h0M46.12 277.63h0M49.58 277.63h0M53.04 277.63h0M56.50 277.63h0M59.95 277.63h0M63.41 277.63h0M66.87 277.63h0M70.33 277.63h0M73.79 277.63h0M77.25 277.63h0M80.71 277.63h0M84.17 277.63h0M87.63 277.63h0M91.08 277.63h0M94.54 277.63h0M98.00 277.63h0M101.46 277.63h0M104.92 277.63h0M108.38 277.63h0M111.84 277.63h0M115.30 277.63h0M118.75 277.63h0M122.21 277.63h0M125.67 277.63h0M129.13 277.63h0M132.59 277.63h0M136.05 277.63h0M139.51 277.63h0M142.97 277.63h0M146.42 277.63h0M149.88 277.63h0M153.34 277.63h0M156.80 277.63h0M18.45 274.19h0M21.91 274.19h0M25.37 274.19h0M28.83 274.19h0M32.29 274.19h0M35.74 274.19h0M39.20 274.19h0M42.66 274.19h0M46.12 274.19h0M49.58 274.19h0M53.04 274.19h0M56.50 274.19h0M59.95 274.19h0M63.41 274.19h0M66.87 274.19h0M70.33 274.19h0M73.79 274.19h0M77.25 274.19h0M80.71 274.19h0M84.17 274.19h0M87.63 274.19h0M91.08 274.19h0M94.54 274.19h0M98.00 274.19h0M101.46 274.19h0M104.92 274.19h0M108.38 274.19h0M111.84 274.19h0M115.30 274.19h0M118.75 274.19h0M122.21 274.19h0M125.67 274.19h0M129.13 274.19h0M132.59 274.19h0M136.05 274.19h0M139.51 274.19h0M142.97 274.19h0M146.42 274.19h0M149.88 274.19h0M153.34 274.19h0M156.80 274.19h0M18.45 270.74h0M21.91 270.74h0M25.37 270.74h0M28.83 270.74h0M32.29 270.74h0M35.74 270.74h0M39.20 270.74h0M42.66 270.74h0M46.12 270.74h0M49.58 270.74h0M53.04 270.74h0M56.50 270.74h0M59.95 270.74h0M63.41 270.74h0M66.87 270.74h0M70.33 270.74h0M73.79 270.74h0M77.25 270.74h0M80.71 270.74h0M84.17 270.74h0M87.63 270.74h0M91.08 270.74h0M94.54 270.74h0M98.00 270.74h0M101.46 270.74h0M104.92 270.74h0M108.38 270.74h0M111.84 270.74h0M115.30 270.74h0M118.75 270.74h0M122.21 270.74h0M125.67 270.74h0M129.13 270.74h0M132.59 270.74h0M136.05 270.74h0M139.51 270.74h0M142.97 270.74h0M146.42 270.74h0M149.88 270.74h0M153.34 270.74h0M156.80 270.74h0M18.45 267.29h0M21.91 267.29h0M25.37 267.29h0M28.83 267.29h0M32.29 267.29h0M35.74 267.29h0M39.20 267.29h0M42.66 267.29h0M46.12 267.29h0M49.58 267.29h0M53.04 267.29h0M56.50 267.29h0M59.95 267.29h0M63.41 267.29h0M66.87 267.29h0M70.33 267.29h0M73.79 267.29h0M77.25 267.29h0M80.71 267.29h0M84.17 267.29h0M87.63 267.29h0M91.08 267.29h0M94.54 267.29h0M98.00 267.29h0M101.46 267.29h0M104.92 267.29h0M108.38 267.29h0M111.84 267.29h0M115.30 267.29h0M118.75 267.29h0M122.21 267.29h0M125.67 267.29h0M129.13 267.29h0M132.59 267.29h0M136.05 267.29h0M139.51 267.29h0M142.97 267.29h0M146.42 267.29h0M149.88 267.29h0M153.34 267.29h0M156.80 267.29h0M18.45 263.84h0M21.91 263.84h0M25.37 263.84h0M28.83 263.84h0M32.29 263.84h0M35.74 263.84h0M39.20 263.84h0M42.66 263.84h0M46.12 263.84h0M49.58 263.84h0M53.04 263.84h0M56.50 263.84h0M59.95 263.84h0M63.41 263.84h0M66.87 263.84h0M70.33 263.84h0M73.79 263.84h0M77.25 263.84h0M80.71 263.84h0M84.17 263.84h0M87.63 263.84h0M91.08 263.84h0M94.54 263.84h0M98.00 263.84h0M101.46 263.84h0M104.92 263.84h0M108.38 263.84h0M111.84 263.84h0M115.30 263.84h0M118.75 263.84h0M122.21 263.84h0M125.67 263.84h0M129.13 263.84h0M132.59 263.84h0M136.05 263.84h0M139.51 263.84h0M142.97 263.84h0M146.42 263.84h0M149.88 263.84h0M153.34 263.84h0M156.80 263.84h0M18.45 260.40h0M21.91 260.40h0M25.37 260.40h0M28.83 260.40h0M32.29 260.40h0M35.74 260.40h0M39.20 260.40h0M42.66 260.40h0M46.12 260.40h0M49.58 260.40h0M53.04 260.40h0M56.50 260.40h0M59.95 260.40h0M63.41 260.40h0M66.87 260.40h0M70.33 260.40h0M73.79 260.40h0M77.25 260.40h0M80.71 260.40h0M84.17 260.40h0M87.63 260.40h0M91.08 260.40h0M94.54 260.40h0M98.00 260.40h0M101.46 260.40h0M104.92 260.40h0M108.38 260.40h0M111.84 260.40h0M115.30 260.40h0M118.75 260.40h0M122.21 260.40h0M125.67 260.40h0M129.13 260.40h0M132.59 260.40h0M136.05 260.40h0M139.51 260.40h0M142.97 260.40h0M146.42 260.40h0M149.88 260.40h0M153.34 260.40h0M156.80 260.40h0M18.45 256.95h0M21.91 256.95h0M25.37 256.95h0M28.83 256.95h0M32.29 256.95h0M35.74 256.95h0M39.20 256.95h0M42.66 256.95h0M46.12 256.95h0M49.58 256.95h0M53.04 256.95h0M56.50 256.95h0M59.95 256.95h0M63.41 256.95h0M66.87 256.95h0M70.33 256.95h0M73.79 256.95h0M77.25 256.95h0M80.71 256.95h0M84.17 256.95h0M87.63 256.95h0M91.08 256.95h0M94.54 256.95h0M98.00 256.95h0M101.46 256.95h0M104.92 256.95h0M108.38 256.95h0M111.84 256.95h0M115.30 256.95h0M118.75 256.95h0M122.21 256.95h0M125.67 256.95h0M129.13 256.95h0M132.59 256.95h0M136.05 256.95h0M139.51 256.95h0M142.97 256.95h0M146.42 256.95h0M149.88 256.95h0M153.34 256.95h0M156.80 256.95h0M18.45 253.50h0M21.91 253.50h0M25.37 253.50h0M28.83 253.50h0M32.29 253.50h0M35.74 253.50h0M39.20 253.50h0M42.66 253.50h0M46.12 253.50h0M49.58 253.50h0M53.04 253.50h0M56.50 253.50h0M59.95 253.50h0M63.41 253.50h0M66.87 253.50h0M70.33 253.50h0M73.79 253.50h0M77.25 253.50h0M80.71 253.50h0M84.17 253.50h0M87.63 253.50h0M91.08 253.50h0M94.54 253.50h0M98.00 253.50h0M101.46 253.50h0M104.92 253.50h0M108.38 253.50h0M111.84 253.50h0M115.30 253.50h0M118.75 253.50h0M122.21 253.50h0M125.67 253.50h0M129.13 253.50h0M132.59 253.50h0M136.05 253.50h0M139.51 253.50h0M142.97 253.50h0M146.42 253.50h0M149.88 253.50h0M153.34 253.50h0M156.80 253.50h0M18.45 250.05h0M21.91 250.05h0M25.37 250.05h0M28.83 250.05h0M32.29 250.05h0M35.74 250.05h0M39.20 250.05h0M42.66 250.05h0M46.12 250.05h0M49.58 250.05h0M53.04 250.05h0M56.50 250.05h0M59.95 250.05h0M63.41 250.05h0M66.87 250.05h0M70.33 250.05h0M73.79 250.05h0M77.25 250.05h0M80.71 250.05h0M84.17 250.05h0M87.63 250.05h0M91.08 250.05h0M94.54 250.05h0M98.00 250.05h0M101.46 250.05h0M104.92 250.05h0M108.38 250.05h0M111.84 250.05h0M115.30 250.05h0M118.75 250.05h0M122.21 250.05h0M125.67 250.05h0M129.13 250.05h0M132.59 250.05h0M136.05 250.05h0M139.51 250.05h0M142.97 250.05h0M146.42 250.05h0M149.88 250.05h0M153.34 250.05h0M156.80 250.05h0M18.45 246.61h0M21.91 246.61h0M25.37 246.61h0M28.83 246.61h0M32.29 246.61h0M35.74 246.61h0M39.20 246.61h0M42.66 246.61h0M46.12 246.61h0M49.58 246.61h0M53.04 246.61h0M56.50 246.61h0M59.95 246.61h0M63.41 246.61h0M66.87 246.61h0M70.33 246.61h0M73.79 246.61h0M77.25 246.61h0M80.71 246.61h0M84.17 246.61h0M87.63 246.61h0M91.08 246.61h0M94.54 246.61h0M98.00 246.61h0M101.46 246.61h0M104.92 246.61h0M108.38 246.61h0M111.84 246.61h0M115.30 246.61h0M118.75 246.61h0M122.21 246.61h0M125.67 246.61h0M129.13 246.61h0M132.59 246.61h0M136.05 246.61h0M139.51 246.61h0M142.97 246.61h0M146.42 246.61h0M149.88 246.61h0M153.34 246.61h0M156.80 246.61h0M18.45 243.16h0M21.91 243.16h0M25.37 243.16h0M28.83 243.16h0M32.29 243.16h0M35.74 243.16h0M39.20 243.16h0M42.66 243.16h0M46.12 243.16h0M49.58 243.16h0M53.04 243.16h0M56.50 243.16h0M59.95 243.16h0M63.41 243.16h0M66.87 243.16h0M70.33 243.16h0M73.79 243.16h0M77.25 243.16h0M80.71 243.16h0M84.17 243.16h0M87.63 243.16h0M91.08 243.16h0M94.54 243.16h0M98.00 243.16h0M101.46 243.16h0M104.92 243.16h0M108.38 243.16h0M111.84 243.16h0M115.30 243.16h0M118.75 243.16h0M122.21 243.16h0M125.67 243.16h0M129.13 243.16h0M132.59 243.16h0M136.05 243.16h0M139.51 243.16h0M142.97 243.16h0M146.42 243.16h0M149.88 243.16h0M153.34 243.16h0M156.80 243.16h0M18.45 239.71h0M21.91 239.71h0M25.37 239.71h0M28.83 239.71h0M32.29 239.71h0M35.74 239.71h0M39.20 239.71h0M42.66 239.71h0M46.12 239.71h0M49.58 239.71h0M53.04 239.71h0M56.50 239.71h0M59.95 239.71h0M63.41 239.71h0M66.87 239.71h0M70.33 239.71h0M73.79 239.71h0M77.25 239.71h0M80.71 239.71h0M84.17 239.71h0M87.63 239.71h0M91.08 239.71h0M94.54 239.71h0M98.00 239.71h0M101.46 239.71h0M104.92 239.71h0M108.38 239.71h0M111.84 239.71h0M115.30 239.71h0M118.75 239.71h0M122.21 239.71h0M125.67 239.71h0M129.13 239.71h0M132.59 239.71h0M136.05 239.71h0M139.51 239.71h0M142.97 239.71h0M146.42 239.71h0M149.88 239.71h0M153.34 239.71h0M156.80 239.71h0M18.45 236.26h0M21.91 236.26h0M25.37 236.26h0M28.83 236.26h0M32.29 236.26h0M35.74 236.26h0M39.20 236.26h0M42.66 236.26h0M46.12 236.26h0M49.58 236.26h0M53.04 236.26h0M56.50 236.26h0M59.95 236.26h0M63.41 236.26h0M66.87 236.26h0M70.33 236.26h0M73.79 236.26h0M77.25 236.26h0M80.71 236.26h0M84.17 236.26h0M87.63 236.26h0M91.08 236.26h0M94.54 236.26h0M98.00 236.26h0M101.46 236.26h0M104.92 236.26h0M108.38 236.26h0M111.84 236.26h0M115.30 236.26h0M118.75 236.26h0M122.21 236.26h0M125.67 236.26h0M129.13 236.26h0M132.59 236.26h0M136.05 236.26h0M139.51 236.26h0M142.97 236.26h0M146.42 236.26h0M149.88 236.26h0M153.34 236.26h0M156.80 236.26h0M18.45 232.82h0M21.91 232.82h0M25.37 232.82h0M28.83 232.82h0M32.29 232.82h0M35.74 232.82h0M39.20 232.82h0M42.66 232.82h0M46.12 232.82h0M49.58 232.82h0M53.04 232.82h0M56.50 232.82h0M59.95 232.82h0M63.41 232.82h0M66.87 232.82h0M70.33 232.82h0M73.79 232.82h0M77.25 232.82h0M80.71 232.82h0M84.17 232.82h0M87.63 232.82h0M91.08 232.82h0M94.54 232.82h0M98.00 232.82h0M101.46 232.82h0M104.92 232.82h0M108.38 232.82h0M111.84 232.82h0M115.30 232.82h0M118.75 232.82h0M122.21 232.82h0M125.67 232.82h0M129.13 232.82h0M132.59 232.82h0M136.05 232.82h0M139.51 232.82h0M142.97 232.82h0M146.42 232.82h0M149.88 232.82h0M153.34 232.82h0M156.80 232.82h0M18.45 229.37h0M21.91 229.37h0M25.37 229.37h0M28.83 229.37h0M32.29 229.37h0M35.74 229.37h0M39.20 229.37h0M42.66 229.37h0M46.12 229.37h0M49.58 229.37h0M53.04 229.37h0M56.50 229.37h0M59.95 229.37h0M63.41 229.37h0M66.87 229.37h0M70.33 229.37h0M73.79 229.37h0M77.25 229.37h0M80.71 229.37h0M84.17 229.37h0M87.63 229.37h0M91.08 229.37h0M94.54 229.37h0M98.00 229.37h0M101.46 229.37h0M104.92 229.37h0M108.38 229.37h0M111.84 229.37h0M115.30 229.37h0M118.75 229.37h0M122.21 229.37h0M125.67 229.37h0M129.13 229.37h0M132.59 229.37h0M136.05 229.37h0M139.51 229.37h0M142.97 229.37h0M146.42 229.37h0M149.88 229.37h0M153.34 229.37h0M156.80 229.37h0M18.45 225.92h0M21.91 225.92h0M25.37 225.92h0M28.83 225.92h0M32.29 225.92h0M35.74 225.92h0M39.20 225.92h0M42.66 225.92h0M46.12 225.92h0M49.58 225.92h0M53.04 225.92h0M56.50 225.92h0M59.95 225.92h0M63.41 225.92h0M66.87 225.92h0M70.33 225.92h0M73.79 225.92h0M77.25 225.92h0M80.71 225.92h0M84.17 225.92h0M87.63 225.92h0M91.08 225.92h0M94.54 225.92h0M98.00 225.92h0M101.46 225.92h0M104.92 225.92h0M108.38 225.92h0M111.84 225.92h0M115.30 225.92h0M118.75 225.92h0M122.21 225.92h0M125.67 225.92h0M129.13 225.92h0M132.59 225.92h0M136.05 225.92h0M139.51 225.92h0M142.97 225.92h0M146.42 225.92h0M149.88 225.92h0M153.34 225.92h0M156.80 225.92h0M18.45 222.47h0M21.91 222.47h0M25.37 222.47h0M28.83 222.47h0M32.29 222.47h0M35.74 222.47h0M39.20 222.47h0M42.66 222.47h0M46.12 222.47h0M49.58 222.47h0M53.04 222.47h0M56.50 222.47h0M59.95 222.47h0M63.41 222.47h0M66.87 222.47h0M70.33 222.47h0M73.79 222.47h0M77.25 222.47h0M80.71 222.47h0M84.17 222.47h0M87.63 222.47h0M91.08 222.47h0M94.54 222.47h0M98.00 222.47h0M101.46 222.47h0M104.92 222.47h0M108.38 222.47h0M111.84 222.47h0M115.30 222.47h0M118.75 222.47h0M122.21 222.47h0M125.67 222.47h0M129.13 222.47h0M132.59 222.47h0M136.05 222.47h0M139.51 222.47h0M142.97 222.47h0M146.42 222.47h0M149.88 222.47h0M153.34 222.47h0M156.80 222.47h0M18.45 219.03h0M21.91 219.03h0M25.37 219.03h0M28.83 219.03h0M32.29 219.03h0M35.74 219.03h0M39.20 219.03h0M42.66 219.03h0M46.12 219.03h0M49.58 219.03h0M53.04 219.03h0M56.50 219.03h0M59.95 219.03h0M63.41 219.03h0M66.87 219.03h0M70.33 219.03h0M73.79 219.03h0M77.25 219.03h0M80.71 219.03h0M84.17 219.03h0M87.63 219.03h0M91.08 219.03h0M94.54 219.03h0M98.00 219.03h0M101.46 219.03h0M104.92 219.03h0M108.38 219.03h0M111.84 219.03h0M115.30 219.03h0M118.75 219.03h0M122.21 219.03h0M125.67 219.03h0M129.13 219.03h0M132.59 219.03h0M136.05 219.03h0M139.51 219.03h0M142.97 219.03h0M146.42 219.03h0M149.88 219.03h0M153.34 219.03h0M156.80 219.03h0M18.45 215.58h0M21.91 215.58h0M25.37 215.58h0M28.83 215.58h0M32.29 215.58h0M35.74 215.58h0M39.20 215.58h0M42.66 215.58h0M46.12 215.58h0M49.58 215.58h0M53.04 215.58h0M56.50 215.58h0M59.95 215.58h0M63.41 215.58h0M66.87 215.58h0M70.33 215.58h0M73.79 215.58h0M77.25 215.58h0M80.71 215.58h0M84.17 215.58h0M87.63 215.58h0M91.08 215.58h0M94.54 215.58h0M98.00 215.58h0M101.46 215.58h0M104.92 215.58h0M108.38 215.58h0M111.84 215.58h0M115.30 215.58h0M118.75 215.58h0M122.21 215.58h0M125.67 215.58h0M129.13 215.58h0M132.59 215.58h0M136.05 215.58h0M139.51 215.58h0M142.97 215.58h0M146.42 215.58h0M149.88 215.58h0M153.34 215.58h0M156.80 215.58h0M18.45 212.13h0M21.91 212.13h0M25.37 212.13h0M28.83 212.13h0M32.29 212.13h0M35.74 212.13h0M39.20 212.13h0M42.66 212.13h0M46.12 212.13h0M49.58 212.13h0M53.04 212.13h0M56.50 212.13h0M59.95 212.13h0M63.41 212.13h0M66.87 212.13h0M70.33 212.13h0M73.79 212.13h0M77.25 212.13h0M80.71 212.13h0M84.17 212.13h0M87.63 212.13h0M91.08 212.13h0M94.54 212.13h0M98.00 212.13h0M101.46 212.13h0M104.92 212.13h0M108.38 212.13h0M111.84 212.13h0M115.30 212.13h0M118.75 212.13h0M122.21 212.13h0M125.67 212.13h0M129.13 212.13h0M132.59 212.13h0M136.05 212.13h0M139.51 212.13h0M142.97 212.13h0M146.42 212.13h0M149.88 212.13h0M153.34 212.13h0M156.80 212.13h0M18.45 208.69h0M21.91 208.69h0M25.37 208.69h0M28.83 208.69h0M32.29 208.69h0M35.74 208.69h0M39.20 208.69h0M42.66 208.69h0M46.12 208.69h0M49.58 208.69h0M53.04 208.69h0M56.50 208.69h0M59.95 208.69h0M63.41 208.69h0M66.87 208.69h0M70.33 208.69h0M73.79 208.69h0M77.25 208.69h0M80.71 208.69h0M84.17 208.69h0M87.63 208.69h0M91.08 208.69h0M94.54 208.69h0M98.00 208.69h0M101.46 208.69h0M104.92 208.69h0M108.38 208.69h0M111.84 208.69h0M115.30 208.69h0M118.75 208.69h0M122.21 208.69h0M125.67 208.69h0M129.13 208.69h0M132.59 208.69h0M136.05 208.69h0M139.51 208.69h0M142.97 208.69h0M146.42 208.69h0M149.88 208.69h0M153.34 208.69h0M156.80 208.69h0M18.45 205.24h0M21.91 205.24h0M25.37 205.24h0M28.83 205.24h0M32.29 205.24h0M35.74 205.24h0M39.20 205.24h0M42.66 205.24h0M46.12 205.24h0M49.58 205.24h0M53.04 205.24h0M56.50 205.24h0M59.95 205.24h0M63.41 205.24h0M66.87 205.24h0M70.33 205.24h0M73.79 205.24h0M77.25 205.24h0M80.71 205.24h0M84.17 205.24h0M87.63 205.24h0M91.08 205.24h0M94.54 205.24h0M98.00 205.24h0M101.46 205.24h0M104.92 205.24h0M108.38 205.24h0M111.84 205.24h0M115.30 205.24h0M118.75 205.24h0M122.21 205.24h0M125.67 205.24h0M129.13 205.24h0M132.59 205.24h0M136.05 205.24h0M139.51 205.24h0M142.97 205.24h0M146.42 205.24h0M149.88 205.24h0M153.34 205.24h0M156.80 205.24h0M18.45 201.79h0M21.91 201.79h0M25.37 201.79h0M28.83 201.79h0M32.29 201.79h0M35.74 201.79h0M39.20 201.79h0M42.66 201.79h0M46.12 201.79h0M49.58 201.79h0M53.04 201.79h0M56.50 201.79h0M59.95 201.79h0M63.41 201.79h0M66.87 201.79h0M70.33 201.79h0M73.79 201.79h0M77.25 201.79h0M80.71 201.79h0M84.17 201.79h0M87.63 201.79h0M91.08 201.79h0M94.54 201.79h0M98.00 201.79h0M101.46 201.79h0M104.92 201.79h0M108.38 201.79h0M111.84 201.79h0M115.30 201.79h0M118.75 201.79h0M122.21 201.79h0M125.67 201.79h0M129.13 201.79h0M132.59 201.79h0M136.05 201.79h0M139.51 201.79h0M142.97 201.79h0M146.42 201.79h0M149.88 201.79h0M153.34 201.79h0M156.80 201.79h0M18.45 198.34h0M21.91 198.34h0M25.37 198.34h0M28.83 198.34h0M32.29 198.34h0M35.74 198.34h0M39.20 198.34h0M42.66 198.34h0M46.12 198.34h0M49.58 198.34h0M53.04 198.34h0M56.50 198.34h0M59.95 198.34h0M63.41 198.34h0M66.87 198.34h0M70.33 198.34h0M73.79 198.34h0M77.25 198.34h0M80.71 198.34h0M84.17 198.34h0M87.63 198.34h0M91.08 198.34h0M94.54 198.34h0M98.00 198.34h0M101.46 198.34h0M104.92 198.34h0M108.38 198.34h0M111.84 198.34h0M115.30 198.34h0M118.75 198.34h0M122.21 198.34h0M125.67 198.34h0M129.13 198.34h0M132.59 198.34h0M136.05 198.34h0M139.51 198.34h0M142.97 198.34h0M146.42 198.34h0M149.88 198.34h0M153.34 198.34h0M156.80 198.34h0M18.45 194.90h0M21.91 194.90h0M25.37 194.90h0M28.83 194.90h0M32.29 194.90h0M35.74 194.90h0M39.20 194.90h0M42.66 194.90h0M46.12 194.90h0M49.58 194.90h0M53.04 194.90h0M56.50 194.90h0M59.95 194.90h0M63.41 194.90h0M66.87 194.90h0M70.33 194.90h0M73.79 194.90h0M77.25 194.90h0M80.71 194.90h0M84.17 194.90h0M87.63 194.90h0M91.08 194.90h0M94.54 194.90h0M98.00 194.90h0M101.46 194.90h0M104.92 194.90h0M108.38 194.90h0M111.84 194.90h0M115.30 194.90h0M118.75 194.90h0M122.21 194.90h0M125.67 194.90h0M129.13 194.90h0M132.59 194.90h0M136.05 194.90h0M139.51 194.90h0M142.97 194.90h0M146.42 194.90h0M149.88 194.90h0M153.34 194.90h0M156.80 194.90h0M18.45 191.45h0M21.91 191.45h0M25.37 191.45h0M28.83 191.45h0M32.29 191.45h0M35.74 191.45h0M39.20 191.45h0M42.66 191.45h0M46.12 191.45h0M49.58 191.45h0M53.04 191.45h0M56.50 191.45h0M59.95 191.45h0M63.41 191.45h0M66.87 191.45h0M70.33 191.45h0M73.79 191.45h0M77.25 191.45h0M80.71 191.45h0M84.17 191.45h0M87.63 191.45h0M91.08 191.45h0M94.54 191.45h0M98.00 191.45h0M101.46 191.45h0M104.92 191.45h0M108.38 191.45h0M111.84 191.45h0M115.30 191.45h0M118.75 191.45h0M122.21 191.45h0M125.67 191.45h0M129.13 191.45h0M132.59 191.45h0M136.05 191.45h0M139.51 191.45h0M142.97 191.45h0M146.42 191.45h0M149.88 191.45h0M153.34 191.45h0M156.80 191.45h0M18.45 188.00h0M21.91 188.00h0M25.37 188.00h0M28.83 188.00h0M32.29 188.00h0M35.74 188.00h0M39.20 188.00h0M42.66 188.00h0M46.12 188.00h0M49.58 188.00h0M53.04 188.00h0M56.50 188.00h0M59.95 188.00h0M63.41 188.00h0M66.87 188.00h0M70.33 188.00h0M73.79 188.00h0M77.25 188.00h0M80.71 188.00h0M84.17 188.00h0M87.63 188.00h0M91.08 188.00h0M94.54 188.00h0M98.00 188.00h0M101.46 188.00h0M104.92 188.00h0M108.38 188.00h0M111.84 188.00h0M115.30 188.00h0M118.75 188.00h0M122.21 188.00h0M125.67 188.00h0M129.13 188.00h0M132.59 188.00h0M136.05 188.00h0M139.51 188.00h0M142.97 188.00h0M146.42 188.00h0M149.88 188.00h0M153.34 188.00h0M156.80 188.00h0" stroke="#ff1a1a" stroke-width="1.70" stroke-linecap="round"/>
</g>
<rect x="18.45" y="188.00" width="138.35" height="137.90" fill="none" stroke="#333" stroke-width="0.4"/>
<text x="87.62" y="180.74" font-family="Liberation Sans, Arial, sans-serif" font-weight="bold" font-size="4.57" text-anchor="middle" fill="#000" stroke="#000" stroke-width="0.12">The Simulated Magnetic Field Using Two Magnetic Dipoles with</text>
<text x="87.62" y="186.41" font-family="Liberation Sans, Arial, sans-serif" font-weight="bold" font-size="4.57" text-anchor="middle" fill="#000" stroke="#000" stroke-width="0.12">the Increased Points and the Surveyed Points</text>
<text x="16.79" y="327.21" font-family="Liberation Serif, Times New Roman, serif" font-size="3.74" text-anchor="end" fill="#666">0</text>
<text x="18.45" y="330.74" font-family="Liberation Serif, Times New Roman, serif" font-size="3.74" text-anchor="middle" fill="#666">0</text>
<text x="16.79" y="299.63" font-family="Liberation Serif, Times New Roman, serif" font-size="3.74" text-anchor="end" fill="#666">2,000</text>
<text x="46.12" y="330.74" font-family="Liberation Serif, Times New Roman, serif" font-size="3.74" text-anchor="middle" fill="#666">2,000</text>
<text x="16.79" y="272.05" font-family="Liberation Serif, Times New Roman, serif" font-size="3.74" text-anchor="end" fill="#666">4,000</text>
<text x="73.79" y="330.74" font-family="Liberation Serif, Times New Roman, serif" font-size="3.74" text-anchor="middle" fill="#666">4,000</text>
<text x="16.79" y="244.47" font-family="Liberation Serif, Times New Roman, serif" font-size="3.74" text-anchor="end" fill="#666">6,000</text>
<text x="101.46" y="330.74" font-family="Liberation Serif, Times New Roman, serif" font-size="3.74" text-anchor="middle" fill="#666">6,000</text>
<text x="16.79" y="216.89" font-family="Liberation Serif, Times New Roman, serif" font-size="3.74" text-anchor="end" fill="#666">8,000</text>
<text x="129.13" y="330.74" font-family="Liberation Serif, Times New Roman, serif" font-size="3.74" text-anchor="middle" fill="#666">8,000</text>
<text x="16.79" y="189.31" font-family="Liberation Serif, Times New Roman, serif" font-size="3.74" text-anchor="end" fill="#666">10,000</text>
<text x="156.80" y="330.74" font-family="Liberation Serif, Times New Roman, serif" font-size="3.74" text-anchor="middle" fill="#666">10,000</text>
<text x="87.62" y="336.55" font-family="Liberation Serif, Times New Roman, serif" font-size="3.92" text-anchor="middle" fill="#555">X/meters</text>
<text transform="translate(4.75 256.95) rotate(-90)" font-family="Liberation Serif, Times New Roman, serif" font-size="3.92" text-anchor="middle" fill="#555">Y/meters</text>
<rect x="164.90" y="188.00" width="4.10" height="137.90" fill="url(#jetg)"/>
<text x="166.95" y="186.34" font-family="Liberation Serif, Times New Roman, serif" font-size="3.36" text-anchor="middle" fill="#888">(nT)</text>
<text x="170.66" y="189.12" font-family="Liberation Serif, Times New Roman, serif" font-size="2.99" fill="#999">550</text>
<text x="170.66" y="201.21" font-family="Liberation Serif, Times New Roman, serif" font-size="2.99" fill="#999">500</text>
<text x="170.66" y="213.30" font-family="Liberation Serif, Times New Roman, serif" font-size="2.99" fill="#999">450</text>
<text x="170.66" y="225.40" font-family="Liberation Serif, Times New Roman, serif" font-size="2.99" fill="#999">400</text>
<text x="170.66" y="237.49" font-family="Liberation Serif, Times New Roman, serif" font-size="2.99" fill="#999">350</text>
<text x="170.66" y="249.58" font-family="Liberation Serif, Times New Roman, serif" font-size="2.99" fill="#999">300</text>
<text x="170.66" y="261.67" font-family="Liberation Serif, Times New Roman, serif" font-size="2.99" fill="#999">250</text>
<text x="170.66" y="273.76" font-family="Liberation Serif, Times New Roman, serif" font-size="2.99" fill="#999">200</text>
<text x="170.66" y="285.85" font-family="Liberation Serif, Times New Roman, serif" font-size="2.99" fill="#999">150</text>
<text x="170.66" y="297.95" font-family="Liberation Serif, Times New Roman, serif" font-size="2.99" fill="#999">100</text>
<text x="170.66" y="310.04" font-family="Liberation Serif, Times New Roman, serif" font-size="2.99" fill="#999">50</text>
<text x="170.66" y="322.13" font-family="Liberation Serif, Times New Roman, serif" font-size="2.99" fill="#999">0</text>
<text x="89.20" y="350.90" font-family="Liberation Serif, Times New Roman, serif" font-weight="bold" font-size="9.6" text-anchor="middle" fill="#000">(d)</text>
<clipPath id="clipe"><rect x="207.30" y="188.40" width="136.40" height="135.40"/></clipPath>
<g clip-path="url(#clipe)">
<path fill="#00008a" d="M281.2 323.8l62.5 0 0-39.6 -4.5 1.2 -3.3 1.2 -16.1 6.2 -4.5 1.2 -10.2 2.1 -1.5 .6 -4.2 3.7 -1.2 .9 -1.1 .6 -1.7 .5 -5.1 .9 -2.3 .6 -2.3 .7 -2.3 1.1 -1.1 1.2 -.6 2.2 -.5 3.4 -.2 5.7 -.9 5.6zM208.4 211.2l6.9-.7 2.1-.7 2.1-1.1 6-4.5 2.3-2.3 1.1-1.8 1.8-3.8 2.7-3.6 1-2 .4-2.3 -27.5 0 0 22.9z"/>
<path fill="#0000c4" d="M249.4 323.8l30.7 0 .9-5.6 .2-5.7 .5-3.4 .6-2.2 1.1-1.2 2.3-1.1 2.3-.7 2.3-.6 5.1-.9 1.7-.5 1.1-.6 1.2-.9 4.2-3.7 1.5-.6 10.2-2.1 4.5-1.2 16.1-6.2 3.3-1.2 4.5-1.2 0-17.3 -19.3 6.2 -6.8 1.6 -12.5 1.3 -4.6 .9 -2.3 .2 -5.6-.2 -8-1.2 -2.3 0 -3.2 .7 -5.9 2.4 -1.1 1 -1.8 2.3 -2.8 2.2 -1 1.1 -.7 1.2 -2.4 6.7 -2.3 4.5 -1.5 3.8 -2.6 8.7 -1.3 3.3 -1.2 2.3 -1.4 2.3 -4.6 5.6zM208.4 229.5l6.9 0 6.8-.7 5.7 .4 2.2-.1 4.6-1.8 3.4-.5 4.3-4.6 1.4-1.8 1.1-1.9 .7-1.9 3.1-14.7 1.8-4.5 1.5-5.6 1.2-3.4 -18.3 0 -.4 2.3 -1 2 -2.7 3.6 -1.8 3.8 -1.1 1.8 -2.3 2.3 -6 4.5 -2.1 1.1 -2.1 .7 -8 .8 0 18.2z"/>
<path fill="#0010f8" d="M235.7 323.8l12.8 0 .9-1 3.7-4.6 1.4-2.3 1.2-2.3 1.3-3.3 2.6-8.7 1.5-3.8 2.3-4.5 2.4-6.7 .7-1.2 1-1.1 2.8-2.2 1.8-2.3 1.1-1 5.9-2.4 3.2-.7 2.3 0 8 1.2 5.6 .2 2.3-.2 4.6-.9 12.5-1.3 5.6-1.3 18.2-5.8 2.3-.7 0-11.4 -2.4 1.7 -4.4 2.4 -5.7 2.2 -5.7 1.7 -5.7 1.4 -4.5 .8 -15.9 1.7 -3.4 0 -3.4-.4 -3.5-.7 -7.9-2 -8-.7 -6.8-1.7 -3.4-.4 -1.1 .1 -.9 1.3 -.3 1.1 -.7 5.6 -.1 3.4 -.3 2.3 -2 5.6 -1.6 7.9 -5.9 15.8 -2.2 4.5 -3.1 4.5 -4.5 5.1 -5.5 5.1zM248.2 246.0l1.2 .3 1.1-.1 1-1.4 .3-1.1 .6-4.5 .3-6.8 1.8-7.9 1.3-11.3 1.4-6.7 4.6-11.3 1.9-3.4 2.4-3.4 -13 0 -1.2 3.4 -1.5 5.6 -1.8 4.5 -2.7 12.8 -1.1 3.8 -1.1 1.9 -1.2 1.5 -4.5 4.9 -3.4 .5 -3.4 1.4 -2.3 .6 -6.8-.5 -6.8 .7 -8 0 0 8.7 6.8 0 9.1 .7 3.4 .8 4.6 1.3 5.7 1.1 5.6 2.4 5.5 1.4z"/>
<path fill="#0058ff" d="M222.1 323.8l12.7 0 4.3-3.9 3.4-3.6 2.3-2.7 2.4-3.3 1.9-3.4 1.5-3.4 5.4-14.7 1.6-7.9 2-5.6 .3-2.3 .1-3.4 .7-5.6 .3-1.1 .9-1.3 1.1-.1 3.4 .4 6.8 1.7 8 .7 7.9 2 3.5 .7 3.4 .4 3.4 0 15.9-1.7 4.5-.8 5.7-1.4 5.7-1.7 5.7-2.2 4.4-2.4 2.4-1.7 0-67.1 -12.7 0 2.5 1.9 1.5 1.5 1.9 2.2 1.5 2.3 2.2 4.5 .7 2.3 .9 3.4 .7 5.6 0 5.6 -1.2 17 -.3 2.2 -.6 2.3 -1 2.2 -2.3 3.4 -2 2.3 -2 1.8 -2.3 1.6 -3.4 2 -3.4 1.6 -3.4 1.3 -3.4 1.1 -4.6 1.1 -6.8 1 -8 .2 -2.2-.2 -3.4-.7 -4.6-1.4 -3.4-1.4 -3.4-1.7 -5.3-2.9 -2.7-1.7 -2.2-1.8 -2.1-2.2 -1.4-2 -1.1-2.5 -.9-3.4 -1.3-9 -.2-4.5 .2-4.5 .3-3.4 .7-3.4 3.7-9 1.2-2.3 2-3.2 1.9-2.4 2-2.3 2.9-2.5 2.7-2 -15.5 0 -2 2.6 -1.8 3 -1.6 3.4 -1.6 4.5 -1.5 3.4 -1 3.4 -1.2 6.8 -.7 7.9 -2 9 -.3 6.8 -.4 3.4 -.5 2.2 -1 1.4 -1.1 .1 -5.7-1.5 -6.8-2.7 -5.7-1.1 -4.6-1.3 -3.4-.8 -9.1-.7 -6.8 0 0 6.6 3.4 0 4.6 .2 9.1 1.3 5.6 2 8 3.6 3.4 1.9 3.4 3 2.3 2.7 2.3 4 1.2 3.9 .3 3.4 0 6.7 -.2 3.4 -.5 3.4 -3.5 11.3 -1.8 4.5 -1.6 3.4 -1.9 3.3 -1.6 2.3 -2.9 3.4 -2.3 2.4 -3.4 3 -3.4 2.5 -3.4 2 -3 1.4z"/>
<path fill="#00a0ff" d="M208.4 323.8l13 0 4.1-2 3.8-2.5 4.1-3.3 3.5-3.5 2.9-3.4 2.2-3.4 1.9-3.3 1.5-3.4 2.1-5.7 2.5-7.9 .6-3.3 .3-4.6 0-7.9 -.3-2.2 -.6-2.3 -1.5-3.4 -1.4-2.2 -2.3-2.7 -2.3-2.1 -2.2-1.6 -2.3-1.2 -8-3.6 -4.5-1.7 -3.4-.7 -5.7-.8 -6.8-.3 -2.3 0 0 4.4 3.4-.1 4.6 .4 4.5 .8 4.6 1.3 3.4 1.4 3.4 1.9 3.1 2.3 2.5 2.3 2.1 2.2 1.6 2.3 1.3 2.3 1.5 3.3 .8 2.3 .7 3.4 .4 3.4 0 2.2 -.4 3.4 -.9 4.5 -.9 3.4 -1.3 3.4 -1.4 3.2 -1.4 2.4 -2 3.1 -2.2 2.6 -2.4 2.4 -3.4 2.8 -3.4 2.2 -3.4 1.7 -3.4 1.3 -4.6 1.1 -3.4 .4 -3.4 .1 0 4.9zM294.8 258.4l2.3 .3 2.3 .1 5.7-.2 4.5-.4 6.8-1.4 6.8-2.2 5.7-2.7 4.6-3 2-1.8 2-2.3 2.8-4.3 .9-2.5 .5-3.3 1.2-15.8 0-6.8 -.7-5.6 -.9-3.4 -.7-2.3 -2.2-4.5 -1.5-2.3 -1.9-2.2 -1.5-1.5 -2.5-1.9 -49.4 0 -3.8 2.9 -2.9 2.7 -2.8 3.6 -2.7 4.3 -3.4 7.9 -.8 2.3 -.7 3.4 -.3 3.4 -.2 5.6 .5 5.6 1 6.8 1.3 4.5 1.3 2.3 1.8 2.2 2.6 2.3 3.4 2.3 5.3 2.9 4.5 2.2 5.7 2 3.3 .8zM296.3 252.7l-2.6-.5 -3.4-1.2 -3.4-1.5 -2.3-1.3 -2.3-1.5 -2.3-1.9 -2.3-2.2 -1.9-2.3 -1.5-2.3 -1.7-3.3 -.8-2.3 -1-3.4 -.5-3.4 -.3-3.4 .2-3.3 .3-2.3 .6-2.2 1.6-4.6 1.5-3.3 1.3-2.3 2.3-3.2 2.1-2.4 2.4-2.2 2.3-1.7 2.3-1.4 3.4-1.7 3.4-1.3 2.3-.6 3.4-.6 3.4-.3 3.4 0 3.4 .2 2.3 .5 3.4 1.2 3.4 1.7 2.3 1.3 2.2 1.6 2.6 2.1 2.2 2.3 2.1 2.7 1.7 2.9 1 2.3 1.2 3.4 .8 3.4 .6 3.3 .4 4.5 0 3.4 -.3 2.3 -.5 2.2 -1.1 3.4 -.9 2.3 -2 3.4 -1.6 2.2 -2.1 2.3 -2.6 2.2 -2.6 1.9 -2.8 1.5 -2.9 1.3 -5.7 1.7 -3.4 .6 -3.4 .3 -6.8-.4z"/>
<path fill="#00e4ff" d="M208.4 318.9l3.4-.2 3.5-.5 3.4-.9 3.4-1.3 3.4-1.7 2.3-1.4 3.4-2.6 2.4-2.3 2.1-2.3 2.3-3 1.6-2.6 1.7-3.4 1.7-4.5 .9-3.4 .9-4.5 .4-3.4 0-2.2 -.4-3.4 -.7-3.4 -1.2-3.4 -1.5-3 -1.7-2.6 -1.8-2.3 -2.2-2.2 -4.5-3.5 -3.4-1.9 -2.3-1 -3.4-1.1 -4.6-1.1 -3.4-.5 -3.4-.2 -3.4 .1 0 3.8 3.4 0 4.6 .4 3.4 .7 3.4 1.1 3.4 1.4 3.4 1.9 2.8 2.1 2.3 2.3 1.8 2.2 1.5 2.3 1.2 2.2 .9 2.3 1.1 4.5 .2 2.3 0 3.4 -.7 5.6 -1.7 5.6 -1.4 3.3 -1.4 2.4 -1.5 2.2 -1.9 2.3 -2.2 2.2 -3.3 2.7 -3 1.9 -2.7 1.3 -3.4 1.2 -3.4 .8 -3.4 .4 -3.4 0 0 4.9zM297.1 252.8l6.8 .4 3.4-.3 3.4-.6 5.7-1.7 2.9-1.3 2.8-1.5 2.6-1.9 2.6-2.2 2.1-2.3 1.6-2.2 2-3.4 .9-2.3 1.1-3.4 .5-2.2 .3-2.3 0-3.4 -.4-4.5 -.6-3.3 -.8-3.4 -1.2-3.4 -1-2.3 -1.7-2.9 -2.1-2.7 -2.2-2.3 -2.6-2.1 -2.2-1.6 -2.3-1.3 -3.4-1.7 -3.4-1.2 -2.3-.5 -3.4-.2 -3.4 0 -3.4 .3 -3.4 .6 -2.3 .6 -3.4 1.3 -3.4 1.7 -2.3 1.4 -2.3 1.7 -2.4 2.2 -2.1 2.4 -2.3 3.2 -1.3 2.3 -1.5 3.3 -1.6 4.6 -.6 2.2 -.3 2.3 -.2 3.3 .3 3.4 .5 3.4 1 3.4 .8 2.3 1.7 3.3 1.5 2.3 1.9 2.3 2.3 2.2 2.3 1.9 2.3 1.5 2.3 1.3 3.4 1.5 3.4 1.2 2.6 .5zM298.4 248.2l-3.6-.6 -2.2-.7 -4.6-2.1 -2.3-1.5 -2.2-1.8 -3.2-3.5 -1.6-2.2 -1.3-2.3 -1.7-4.5 -.5-2.2 -.4-3.4 0-2.3 .2-2.2 .8-3.4 1-3.4 2.1-4.4 1.6-2.4 1.8-2.2 3.4-3.3 2.3-1.6 2.3-1.2 2.3-1.1 3.4-1.1 2.2-.5 3.4-.5 3.5 0 2.2 .1 3.4 .6 2.3 .7 2.3 .9 2.3 1.1 2.2 1.5 2.3 1.9 3.4 3.9 2.6 4.2 1 2.3 1.1 3.4 .6 3.3 .2 2.3 0 2.2 -.4 3.4 -.7 3.4 -.7 2.3 -1 2.2 -1.2 2.3 -1.6 2.2 -1.9 2.3 -3.7 3.1 -2.2 1.4 -2.3 1.2 -2.3 .9 -3.4 1 -4.5 .6 -2.3 .1 -3.4-.3z"/>
<path fill="#30ffb0" d="M208.4 314.0l3.4-.1 3.5-.5 3.1-.9 2.5-.9 2.7-1.3 3-1.9 2.3-1.8 2.3-2.1 1.9-2.1 1.7-2.3 2-3.4 1.2-2.6 1.1-3 .9-3.4 .5-3.4 .3-3.4 -.2-3.4 -.3-2.2 -1.3-4.5 -1.7-3.4 -1.5-2.3 -1.8-2.2 -1.7-1.7 -2.3-1.9 -2.2-1.5 -4.6-2.2 -5.7-1.8 -3.4-.6 -3.4-.2 -3.4 0 0 3.9 3.4-.1 3.4 .3 3.4 .7 3.4 1.2 3.4 1.6 2.3 1.5 2.5 1.9 2.1 2.3 2.4 3.3 1.1 2.3 .8 2.3 .9 4.5 .1 4.5 -.2 2.2 -.7 3.4 -1.6 4.5 -1.1 2.3 -1.4 2.2 -2.6 3.2 -2.3 2.2 -2.2 1.7 -2.3 1.4 -3.4 1.6 -2.3 .7 -3.4 .7 -2.3 .3 -3.4-.1 0 4.5zM299.4 248.3l3.4 .3 2.3-.1 4.5-.6 3.4-1 2.3-.9 2.3-1.2 2.2-1.4 3.7-3.1 1.9-2.3 1.6-2.2 1.2-2.3 1-2.2 .7-2.3 .7-3.4 .4-3.4 0-2.2 -.2-2.3 -.6-3.3 -1.1-3.4 -1-2.3 -2.6-4.2 -3.4-3.9 -2.3-1.9 -2.2-1.5 -2.3-1.1 -2.3-.9 -2.3-.7 -3.4-.6 -2.2-.1 -3.5 0 -3.4 .5 -2.2 .5 -3.4 1.1 -2.3 1.1 -2.3 1.2 -2.3 1.6 -3.4 3.3 -1.8 2.2 -1.6 2.4 -2.1 4.4 -1 3.4 -.8 3.4 -.2 2.2 0 2.3 .4 3.4 .5 2.2 1.7 4.5 1.3 2.3 1.6 2.2 3.2 3.5 2.2 1.8 2.3 1.5 4.6 2.1 2.2 .7 3.6 .6zM297.8 243.7l-3-.8 -2.2-.8 -3.5-1.8 -3.4-2.8 -1.5-1.7 -1.6-2.3 -1.8-3.4 -.7-2.2 -.5-2.3 -.3-2.2 .1-2.3 .7-4.5 .6-2.2 .9-2.3 1.9-3.4 1.7-2.2 1.7-1.8 3.4-2.7 2.3-1.2 2.2-1 4.6-1.2 4.5-.4 4.6 .6 2.2 .6 2.3 .8 3.4 1.9 3.4 2.8 1.4 1.6 1.6 2.2 1.2 2.3 1 2.2 1.1 4.5 .2 4.5 -.6 4.6 -.7 2.2 -.9 2.3 -2 3.4 -2.9 3.3 -1.6 1.4 -2.3 1.6 -3.4 1.6 -4.6 1.3 -4.5 .4 -4.6-.5z"/>
<path fill="#b0ff40" d="M208.4 309.6l3.4-.1 2.3-.4 4.6-1.2 4.5-2.3 2.3-1.5 2.3-1.9 1.9-2.1 1.8-2.3 1.4-2.2 1.1-2.3 1.6-4.5 .7-3.4 .2-2.2 .1-2.3 -.3-3.4 -1.1-4.5 -1-2.2 -1.3-2.3 -2.7-3.4 -2.4-2.2 -1.7-1.2 -2.9-1.7 -2.3-1 -4.5-1.5 -3.4-.6 -2.3-.1 -3.4 .1 0 3.8 2.3-.2 3.4 .2 2.3 .4 3.4 1 2.2 1.1 3.2 1.9 1.4 1.2 2.3 2.3 2.2 3.3 1.5 3.4 .9 3.4 .2 4.5 -.7 4.5 -1.1 3.4 -1.8 3.4 -2.6 3.3 -2 2 -2.3 1.7 -2.3 1.3 -2.3 1 -4.5 1.2 -2.3 .3 -3.4-.1 0 4.3zM298.2 243.8l4.6 .5 4.5-.4 4.6-1.3 3.4-1.6 2.3-1.6 1.6-1.4 2.9-3.3 2-3.4 .9-2.3 .7-2.2 .6-4.6 -.2-4.5 -1.1-4.5 -1-2.2 -1.2-2.3 -1.6-2.2 -1.4-1.6 -3.4-2.8 -3.4-1.9 -2.3-.8 -2.2-.6 -4.6-.6 -4.5 .4 -4.6 1.2 -2.2 1 -2.3 1.2 -3.4 2.7 -1.7 1.8 -1.7 2.2 -1.9 3.4 -.9 2.3 -.6 2.2 -.7 4.5 -.1 2.3 .3 2.2 .5 2.3 .7 2.2 1.8 3.4 1.6 2.3 1.5 1.7 3.4 2.8 3.5 1.8 2.2 .8 3 .8zM296.7 239.2l-3-1.3 -3.4-2.1 -2.4-2.3 -2.3-3.4 -1.3-3.3 -.6-3.4 0-2.3 .2-2.2 .8-3.4 1.5-3.4 2.5-3.4 2.7-2.4 3.4-2 3.4-1.2 3.4-.6 2.3 0 2.3 .2 3.4 .9 3.4 1.6 3.2 2.4 2 2.2 2 3.4 1.2 3.4 .5 3.4 0 2.2 -.2 2.3 -.9 3.4 -1.6 3.4 -1.6 2.2 -2.3 2.3 -3.4 2.3 -3.4 1.3 -3.4 .6 -2.3 .2 -2.3-.2 -3.4-.7z"/>
<path fill="#ffe000" d="M208.4 305.3l4.6-.3 3.4-.8 2.3-.8 2.2-1.2 3.5-2.4 3-3.1 1.5-2 1.1-2 1.6-3.9 .9-4.5 0-4.5 -.6-3.4 -.8-2.2 -1.1-2.3 -2.3-3.4 -3.3-3.2 -3.5-2.1 -2.2-1.1 -2.3-.7 -4.6-.8 -4.5 .1 0 3.6 2.3-.2 2.2 0 3.5 .6 2.2 .8 2.3 1.1 3.4 2.6 1.6 1.6 1.6 2.2 1.6 3.4 .8 3.4 .1 2.3 -.1 2.2 -.6 3.4 -1.4 3.4 -1.5 2.2 -2.1 2.5 -3.4 2.7 -3.4 1.6 -2.3 .7 -2.3 .4 -2.2 .1 -2.3-.1 0 4zM297.1 239.3l3.4 .7 2.3 .2 2.3-.2 3.4-.6 3.4-1.3 3.4-2.3 2.3-2.3 1.6-2.2 1.6-3.4 .9-3.4 .2-2.3 0-2.2 -.5-3.4 -1.2-3.4 -2-3.4 -2-2.2 -3.2-2.4 -3.4-1.6 -3.4-.9 -2.3-.2 -2.3 0 -3.4 .6 -3.4 1.2 -3.4 2 -2.7 2.4 -2.5 3.4 -1.5 3.4 -.8 3.4 -.2 2.2 0 2.3 .6 3.4 1.3 3.3 2.3 3.4 2.4 2.3 3.4 2.1 3 1.3zM300.6 235.8l-3.5-1 -2.3-1.1 -2.2-1.7 -1.7-1.9 -1.8-3 -.8-2.6 -.3-2.3 .2-3.3 .6-2.3 1.5-2.9 1.1-1.6 2.4-2.3 2.2-1.3 3.4-1.3 2.2-.4 3.5 .1 2.7 .7 2.5 1.1 1.7 1.1 2.3 2.3 1.5 2.3 1.4 3.3 .3 2.3 0 3.4 -.9 3.4 -1.1 2.2 -1.7 2.3 -1.9 1.7 -2.3 1.4 -2.3 .9 -2.2 .5 -3.5 .1z"/>
<path fill="#ff9000" d="M208.4 301.3l3.4-.1 3.5-.7 3.4-1.4 3.4-2.3 2.4-2.3 2.3-3.4 1.4-3.4 .6-3.4 .1-3.4 -.6-3.4 -1.3-3.3 -2.2-3.4 -2.7-2.6 -3.4-2.2 -3.4-1.3 -3.5-.6 -2.2 0 -2.3 .2 0 3.6 3.4-.3 3.4 .5 3.4 1.3 2.1 1.4 1.3 1.1 2.3 2.9 1.3 2.7 .8 3.4 -.1 3.4 -.8 3.4 -1.1 2.3 -1.7 2.2 -2.4 2.3 -2.8 1.6 -3.4 1.1 -3.4 .3 -2.3-.2 0 3.9 .8 0zM301.6 235.9l3.5-.1 2.2-.5 2.3-.9 2.3-1.4 1.9-1.7 1.7-2.3 1.1-2.2 .9-3.4 0-3.4 -.3-2.3 -1.4-3.3 -1.5-2.3 -2.3-2.3 -1.7-1.1 -2.5-1.1 -2.7-.7 -3.5-.1 -2.2 .4 -3.4 1.3 -2.2 1.3 -2.4 2.3 -1.1 1.6 -1.5 2.9 -.6 2.3 -.2 3.3 .3 2.3 .8 2.6 1.8 3 1.7 1.9 2.2 1.7 2.3 1.1 3.5 1zM299.1 230.1l-2-1 -1.4-1.2 -.9-1.1 -1.1-2.1 -.4-1.3 -.2-2.3 .4-2.2 .4-1.2 .9-1.7 1.2-1.3 1.9-1.5 1.5-.7 1.4-.4 2-.2 2.2 .2 1.2 .4 1.6 .7 1.8 1.4 1.1 1.4 1 1.7 .4 1.2 .3 2.2 -.2 2.3 -.3 1.1 -1.2 2.3 -.9 1.1 -1.3 1.2 -2 1 -1.4 .5 -2.3 .3 -2.3-.3 -1.1-.3z"/>
<path fill="#ff4010" d="M208.4 297.5l3.4-.1 2.3-.5 3.3-1.3 2.4-1.6 1.8-1.8 1.7-2.2 1.1-2.3 .8-3.4 .2-2.2 -.5-3.4 -1.4-3.4 -1.4-2.2 -2.3-2.2 -2.3-1.5 -2.2-1 -3.5-.7 -2.2-.1 -2.3 .3 0 3.9 3.4-.4 2.3 .3 2.3 .8 2.5 1.7 1.9 2.2 1.2 2.3 .5 2.2 -.1 3.4 -.7 2.3 -1.2 2.2 -1 1.2 -2 1.7 -2.3 1.1 -2.3 .6 -2.2 .2 -2.3-.4 0 4.1zM299.4 230.3l1.1 .3 2.3 .3 2.3-.3 1.4-.5 2-1 1.3-1.2 .9-1.1 1.2-2.3 .3-1.1 .2-2.3 -.3-2.2 -.4-1.2 -1-1.7 -1.1-1.4 -1.8-1.4 -1.6-.7 -1.2-.4 -2.2-.2 -2 .2 -1.4 .4 -1.5 .7 -1.9 1.5 -1.2 1.3 -.9 1.7 -.4 1.2 -.4 2.2 .2 2.3 .4 1.3 1.1 2.1 .9 1.1 1.4 1.2 2 1z"/>
<path fill="#f01010" d="M208.4 293.5l2.3 .1 2.3-.4 2.3-.9 1.1-.6 2-1.7 1-1.2 1.2-2.2 .7-2.3 .2-2.2 -.3-2.3 -.3-1.1 -1.2-2.3 -1-1.4 -2.3-1.9 -2.3-1.1 -1.1-.3 -2.3-.3 -3.4 .4 0 4.8 1.1-.5 2.3-.3 2.3 .6 1.8 1.1 1 1.2 1 2.2 .1 2.3 -.3 1.1 -.5 1.1 -.8 1.3 -1.2 1 -1.1 .7 -1.2 .3 -2.2 .2 -1.2-.2 -1.1-.4 0 4.9 .5 .1z"/>
<path fill="#b00000" d="M209.6 288.9l2.2-.2 1.2-.3 1.1-.7 1.2-1 .8-1.3 .8-2.2 -.1-2.3 -1-2.2 -1.7-1.7 -2.3-1 -2.2-.1 -2.3 .7 0 11.7 1.7 .5z"/>
<path fill="none" stroke="#000" stroke-width="0.55" d="M280.1 323.8l.9-5.6 .2-5.7 .5-3.4 .6-2.2 1.1-1.2 2.3-1.1 2.3-.7 2.3-.6 5.1-.9 1.7-.5 1.1-.6 1.2-.9 4.2-3.7 1.5-.6 10.2-2.1 4.5-1.2 16.1-6.2 3.3-1.2 4.5-1.2M234.8 188.4l-.4 2.3 -1 2 -2.7 3.6 -1.8 3.8 -1.1 1.8 -2.3 2.3 -6 4.5 -2.1 1.1 -2.1 .7 -8 .8M248.5 323.8l4.6-5.6 1.4-2.3 1.2-2.3 1.3-3.3 2.6-8.7 1.5-3.8 2.3-4.5 2.4-6.7 .7-1.2 1-1.1 2.8-2.2 1.8-2.3 1.1-1 5.9-2.4 3.2-.7 2.3 0 8 1.2 5.6 .2 2.3-.2 4.6-.9 12.5-1.3 6.8-1.6 19.3-6.2M253.1 188.4l-1.2 3.4 -1.5 5.6 -1.8 4.5 -2.7 12.8 -1.1 3.8 -1.1 1.9 -1.2 1.5 -4.5 4.9 -3.4 .5 -3.4 1.4 -2.3 .6 -6.8-.5 -6.8 .7 -8 0M234.8 323.8l5.5-5.1 4.5-5.1 3.1-4.5 2.2-4.5 5.9-15.8 1.6-7.9 2-5.6 .3-2.3 .1-3.4 .7-5.6 .3-1.1 .9-1.3 1.1-.1 3.4 .4 6.8 1.7 8 .7 7.9 2 3.5 .7 3.4 .4 3.4 0 15.9-1.7 4.5-.8 5.7-1.4 5.7-1.7 5.7-2.2 4.4-2.4 2.4-1.7M266.1 188.4l-2.4 3.4 -1.9 3.4 -4.2 10.1 -.8 2.3 -1.2 6.8 -.9 9 -2 9 -.3 6.8 -.4 3.4 -.5 2.2 -.7 1.1 -.3 .3 -1.1 .1 -1.2-.3 -5.7-1.5 -5.6-2.4 -5.7-1.1 -4.6-1.3 -3.4-.8 -9.1-.7 -6.8 0M221.4 323.8l3-1.4 3.4-2 3.4-2.5 3.4-3 2.3-2.4 2.9-3.4 1.6-2.3 1.9-3.3 1.6-3.4 1.8-4.5 3.5-11.3 .5-3.4 .2-3.4 0-6.7 -.3-3.4 -.6-2.3 -.9-2.2 -1.3-2.3 -1.6-2.2 -1.4-1.6 -2.3-2.1 -3.4-2.2 -10.2-4.7 -4.5-1.5 -9.1-1.3 -4.6-.2 -3.4 0M281.6 188.4l-2.7 2 -2.9 2.5 -2 2.3 -1.9 2.4 -2 3.2 -1.2 2.3 -3.7 9 -.5 2.3 -.5 3.3 -.2 6.8 .5 5.6 1.2 7.9 1.1 3.4 1.9 3.1 2.4 2.6 3.3 2.4 6.8 3.9 6.8 3.1 5.7 1.7 3.4 .5 2.3 .1 6.8-.2 6.8-1 6.8-1.8 5.7-2.2 4.6-2.3 4.2-3.1 3.2-3.4 1.6-2.2 1.3-2.3 .8-2.3 .5-3.3 1.2-15.8 0-6.8 -.7-5.6 -.9-3.4 -.7-2.3 -2.2-4.5 -1.5-2.3 -1.9-2.2 -1.5-1.5 -2.5-1.9M207.3 318.9l3.4-.1 3.4-.4 3.4-.7 3.4-1.2 3.5-1.6 3.4-2 3.4-2.6 2.4-2.3 2.1-2.3 2.5-3.3 2-3.4 1.5-3.4 1.6-4.5 .9-3.4 .8-4.5 .2-3.4 -.2-3.4 -.6-3.4 -1.1-3.4 -.9-2.2 -1.9-3.4 -1.6-2.3 -2.1-2.2 -2.5-2.3 -3-2.2 -2.4-1.4 -2.3-1.2 -3.4-1.2 -4.5-1.1 -3.4-.6 -4.6-.4 -3.4 .1M297.1 252.8l6.8 .4 3.4-.3 3.4-.6 5.7-1.7 2.9-1.3 2.8-1.5 2.6-1.9 2.6-2.2 2.1-2.3 1.6-2.2 2-3.4 .9-2.3 1.1-3.4 .5-2.2 .3-2.3 0-3.4 -.4-4.5 -.6-3.3 -.8-3.4 -1.2-3.4 -1-2.3 -1.7-2.9 -2.1-2.7 -2.2-2.3 -2.6-2.1 -2.2-1.6 -2.3-1.3 -3.4-1.7 -3.4-1.2 -2.3-.5 -3.4-.2 -3.4 0 -3.4 .3 -3.4 .6 -2.3 .6 -3.4 1.3 -3.4 1.7 -2.3 1.4 -2.3 1.7 -2.4 2.2 -2.1 2.4 -2.3 3.2 -1.3 2.3 -1.5 3.3 -1.6 4.6 -.6 2.2 -.3 2.3 -.2 3.3 .3 3.4 .5 3.4 1 3.4 .8 2.3 1.7 3.3 1.5 2.3 1.9 2.3 2.3 2.2 2.3 1.9 2.3 1.5 2.3 1.3 3.4 1.5 3.4 1.2 2.6 .5zM207.3 314.0l3.4 0 3.4-.4 3.4-.8 2.3-.8 3.4-1.5 2.3-1.4 3.1-2.2 2.6-2.4 2.2-2.6 2.1-2.9 1.4-2.4 1.4-3.3 1.1-3.3 .8-3.4 .4-3.4 .2-3.4 -.3-3.4 -.4-2.2 -1-3 -1.1-2.6 -1.4-2.3 -1.6-2.3 -2.1-2.3 -1.7-1.5 -2.3-1.7 -2.3-1.3 -3.4-1.6 -3.4-1.2 -3.4-.8 -3.4-.5 -3.4-.2 -2.3 .1M299.4 248.3l3.4 .3 2.3-.1 4.5-.6 3.4-1 2.3-.9 2.3-1.2 2.2-1.4 3.7-3.1 1.9-2.3 1.6-2.2 1.2-2.3 1-2.2 .7-2.3 .7-3.4 .4-3.4 0-2.2 -.2-2.3 -.6-3.3 -1.1-3.4 -1-2.3 -2.6-4.2 -3.4-3.9 -2.3-1.9 -2.2-1.5 -2.3-1.1 -2.3-.9 -2.3-.7 -3.4-.6 -2.2-.1 -3.5 0 -3.4 .5 -2.2 .5 -3.4 1.1 -2.3 1.1 -2.3 1.2 -2.3 1.6 -3.4 3.3 -1.8 2.2 -1.6 2.4 -2.1 4.4 -1 3.4 -.8 3.4 -.2 2.2 0 2.3 .4 3.4 .5 2.2 1.7 4.5 1.3 2.3 1.6 2.2 3.2 3.5 2.2 1.8 2.3 1.5 4.6 2.1 2.2 .7 3.6 .6zM207.3 309.5l3.4 .1 2.3-.3 3.4-.7 2.3-.7 4.5-2.3 2.3-1.5 2.3-1.9 1.9-2.1 1.8-2.3 1.4-2.2 1.1-2.3 .9-2.2 1-3.4 .6-3.4 .1-2.2 -.2-3.4 -.3-2.3 -.6-2.2 -.8-2.3 -1.1-2.3 -1.5-2.2 -3.2-3.5 -2.3-1.8 -2.3-1.5 -2.2-1.1 -3.4-1.4 -2.3-.6 -3.4-.6 -3.4-.1 -2.3 .1M298.2 243.8l4.6 .5 4.5-.4 4.6-1.3 3.4-1.6 2.3-1.6 1.6-1.4 2.9-3.3 2-3.4 .9-2.3 .7-2.2 .6-4.6 -.2-4.5 -1.1-4.5 -1-2.2 -1.2-2.3 -1.6-2.2 -1.4-1.6 -3.4-2.8 -3.4-1.9 -2.3-.8 -2.2-.6 -4.6-.6 -4.5 .4 -4.6 1.2 -2.2 1 -2.3 1.2 -3.4 2.7 -1.7 1.8 -1.7 2.2 -1.9 3.4 -.9 2.3 -.6 2.2 -.7 4.5 -.1 2.3 .3 2.2 .5 2.3 .7 2.2 1.8 3.4 1.6 2.3 1.5 1.7 3.4 2.8 3.5 1.8 2.2 .8 3 .8zM207.3 305.2l3.4 .1 2.3-.3 4.5-1.2 2.3-1 2.3-1.3 3.2-2.5 3-3.4 1.4-2.3 1.1-2.2 .8-2.3 .6-2.2 .4-4.5 -.4-4.6 -.7-2.2 -.9-2.3 -2-3.4 -3.1-3.3 -2.3-1.8 -2.3-1.3 -2.2-1.1 -2.3-.7 -4.6-.8 -4.5 .1M297.1 239.3l3.4 .7 2.3 .2 2.3-.2 3.4-.6 3.4-1.3 3.4-2.3 2.3-2.3 1.6-2.2 1.6-3.4 .9-3.4 .2-2.3 0-2.2 -.5-3.4 -1.2-3.4 -2-3.4 -2-2.2 -3.2-2.4 -3.4-1.6 -3.4-.9 -2.3-.2 -2.3 0 -3.4 .6 -3.4 1.2 -3.4 2 -2.7 2.4 -2.5 3.4 -1.5 3.4 -.8 3.4 -.2 2.2 0 2.3 .6 3.4 1.3 3.3 2.3 3.4 2.4 2.3 3.4 2.1 3 1.3zM207.3 301.2l3.4 .1 2.3-.3 2.3-.5 3.4-1.4 3.5-2.4 1.2-1.1 1.9-2.3 2-3.3 1.2-3.4 .3-2.3 .1-2.2 -.1-2.3 -.5-2.3 -1.3-3.3 -2.2-3.4 -2.3-2.3 -3.4-2.2 -3.8-1.6 -3.5-.6 -2.2 0 -2.3 .2M301.6 235.9l3.5-.1 2.2-.5 2.3-.9 2.3-1.4 1.9-1.7 1.7-2.3 1.1-2.2 .9-3.4 0-3.4 -.3-2.3 -1.4-3.3 -1.5-2.3 -2.3-2.3 -1.7-1.1 -2.5-1.1 -2.7-.7 -3.5-.1 -2.2 .4 -3.4 1.3 -2.2 1.3 -2.4 2.3 -1.1 1.6 -1.5 2.9 -.6 2.3 -.2 3.3 .3 2.3 .8 2.6 1.8 3 1.7 1.9 2.2 1.7 2.3 1.1 3.5 1zM207.3 297.3l3.4 .2 3.4-.6 3.3-1.3 2.4-1.6 2.3-2.3 1.8-2.9 1.1-3.4 .4-3.3 -.5-3.4 -.8-2.3 -.9-1.6 -1.1-1.7 -2.3-2.2 -2.3-1.5 -3.4-1.3 -3.4-.5 -3.4 .3M299.4 230.3l1.1 .3 2.3 .3 2.3-.3 1.4-.5 2-1 1.3-1.2 .9-1.1 1.2-2.3 .3-1.1 .2-2.3 -.3-2.2 -.4-1.2 -1-1.7 -1.1-1.4 -1.8-1.4 -1.6-.7 -1.2-.4 -2.2-.2 -2 .2 -1.4 .4 -1.5 .7 -1.9 1.5 -1.2 1.3 -.9 1.7 -.4 1.2 -.4 2.2 .2 2.3 .4 1.3 1.1 2.1 .9 1.1 1.4 1.2 2 1zM207.3 293.2l2.3 .4 3.4-.4 2.3-.9 1.9-1.2 2.2-2.3 1.2-2.2 .7-2.3 .2-2.2 -.6-3.2 -1.1-2.4 -1.1-1.5 -2.3-1.9 -2.3-1.1 -2.3-.5 -2.2-.1 -2.3 .4M207.3 288.3l1.1 .4 2.3 .2 2.3-.5 1.1-.7 1.2-1 .8-1.3 .5-1.1 .3-2.2 -.5-2.3 -.6-1.1 -1.7-1.7 -1.1-.6 -2.3-.6 -2.3 .3 -1.1 .5"/>
</g>
<rect x="207.30" y="188.40" width="136.40" height="135.40" fill="none" stroke="#333" stroke-width="0.4"/>
<text x="275.50" y="181.24" font-family="Liberation Sans, Arial, sans-serif" font-weight="bold" font-size="4.50" text-anchor="middle" fill="#000" stroke="#000" stroke-width="0.12">The Constructed Geomagnetic Field Using</text>
<text x="275.50" y="186.83" font-family="Liberation Sans, Arial, sans-serif" font-weight="bold" font-size="4.50" text-anchor="middle" fill="#000" stroke="#000" stroke-width="0.12">the Modified Interpolation Algorithm</text>
<text x="205.66" y="325.09" font-family="Liberation Serif, Times New Roman, serif" font-size="3.68" text-anchor="end" fill="#666">0</text>
<text x="207.30" y="328.57" font-family="Liberation Serif, Times New Roman, serif" font-size="3.68" text-anchor="middle" fill="#666">0</text>
<text x="205.66" y="298.01" font-family="Liberation Serif, Times New Roman, serif" font-size="3.68" text-anchor="end" fill="#666">2,000</text>
<text x="234.58" y="328.57" font-family="Liberation Serif, Times New Roman, serif" font-size="3.68" text-anchor="middle" fill="#666">2,000</text>
<text x="205.66" y="270.93" font-family="Liberation Serif, Times New Roman, serif" font-size="3.68" text-anchor="end" fill="#666">4,000</text>
<text x="261.86" y="328.57" font-family="Liberation Serif, Times New Roman, serif" font-size="3.68" text-anchor="middle" fill="#666">4,000</text>
<text x="205.66" y="243.85" font-family="Liberation Serif, Times New Roman, serif" font-size="3.68" text-anchor="end" fill="#666">6,000</text>
<text x="289.14" y="328.57" font-family="Liberation Serif, Times New Roman, serif" font-size="3.68" text-anchor="middle" fill="#666">6,000</text>
<text x="205.66" y="216.77" font-family="Liberation Serif, Times New Roman, serif" font-size="3.68" text-anchor="end" fill="#666">8,000</text>
<text x="316.42" y="328.57" font-family="Liberation Serif, Times New Roman, serif" font-size="3.68" text-anchor="middle" fill="#666">8,000</text>
<text x="205.66" y="189.69" font-family="Liberation Serif, Times New Roman, serif" font-size="3.68" text-anchor="end" fill="#666">10,000</text>
<text x="343.70" y="328.57" font-family="Liberation Serif, Times New Roman, serif" font-size="3.68" text-anchor="middle" fill="#666">10,000</text>
<text x="275.50" y="334.30" font-family="Liberation Serif, Times New Roman, serif" font-size="3.87" text-anchor="middle" fill="#555">X/meters</text>
<text transform="translate(193.80 256.10) rotate(-90)" font-family="Liberation Serif, Times New Roman, serif" font-size="3.87" text-anchor="middle" fill="#555">Y/meters</text>
<rect x="351.00" y="188.40" width="4.00" height="135.40" fill="url(#jetg)"/>
<text x="353.00" y="186.76" font-family="Liberation Serif, Times New Roman, serif" font-size="3.31" text-anchor="middle" fill="#888">(nT)</text>
<text x="356.64" y="189.50" font-family="Liberation Serif, Times New Roman, serif" font-size="2.95" fill="#999">550</text>
<text x="356.64" y="201.43" font-family="Liberation Serif, Times New Roman, serif" font-size="2.95" fill="#999">500</text>
<text x="356.64" y="213.35" font-family="Liberation Serif, Times New Roman, serif" font-size="2.95" fill="#999">450</text>
<text x="356.64" y="225.27" font-family="Liberation Serif, Times New Roman, serif" font-size="2.95" fill="#999">400</text>
<text x="356.64" y="237.19" font-family="Liberation Serif, Times New Roman, serif" font-size="2.95" fill="#999">350</text>
<text x="356.64" y="249.11" font-family="Liberation Serif, Times New Roman, serif" font-size="2.95" fill="#999">300</text>
<text x="356.64" y="261.03" font-family="Liberation Serif, Times New Roman, serif" font-size="2.95" fill="#999">250</text>
<text x="356.64" y="272.95" font-family="Liberation Serif, Times New Roman, serif" font-size="2.95" fill="#999">200</text>
<text x="356.64" y="284.88" font-family="Liberation Serif, Times New Roman, serif" font-size="2.95" fill="#999">150</text>
<text x="356.64" y="296.80" font-family="Liberation Serif, Times New Roman, serif" font-size="2.95" fill="#999">100</text>
<text x="356.64" y="308.72" font-family="Liberation Serif, Times New Roman, serif" font-size="2.95" fill="#999">50</text>
<text x="356.64" y="320.64" font-family="Liberation Serif, Times New Roman, serif" font-size="2.95" fill="#999">0</text>
<text x="277.00" y="351.00" font-family="Liberation Serif, Times New Roman, serif" font-weight="bold" font-size="9.6" text-anchor="middle" fill="#000">(e)</text>
<clipPath id="clipf"><rect x="394.20" y="188.10" width="135.70" height="135.70"/></clipPath>
<g clip-path="url(#clipf)">
<path fill="#0a18c8" d="M418.8 308.6l.8-.4 .3-.5 -1.1-2.1 -.9-.5 -.8 .1 -.6 .8 -.1 .8 .7 1.1 1.5 .6zM406.1 304.5l1.2-.2 1.3-.9 -.1-.8 -.7-.7 -.9-.2 -1.1 1.7 0 .9zM413.7 303.7l1.5-.3 .2-.8 -.8-.9 -.9-.4 -.7 .4 -.4 .9 .4 .8zM430.7 303.0l.8 .2 .9-.2 .8-.6 .4-.7 0-.8 -.4-.8 -.8-.4 -4.3 .4 .2 .8 1.6 .8 .4 .9zM419.6 302.0l.9 .1 .7-.4 .6-.8 2.1-.6 1.3-1.1 .2-.8 -.3-.9 -1.2-1.1 -2.6-.4 -3.5 2.4 -.5 .8 .1 .9 .5 1.1 1.1 .5zM411.2 278.4l.8 .3 .9-.2 1.7-2 .2-1 -.2-.9 -.7-.8 -1.3 0 -2.3 1.4 -1.7-.6 -.8 .9 .8 1 .9 .4 1.1 1.1zM395.0 266.3l.9 0 .8-.5 .4-.5 -.4-.6 -1.4 .6 -.3 .3 -.8-.1 0 1zM496.0 251.1l.8-.3 .9-.7 .4-.9 -.4-1.2 -.9-.5 -.8 .3 -.7 .5 -.5 .9 0 .8 .4 .9zM395.0 243.7l1.1-.5 .6-1.6 -.8-1 -1.7 .7 0 2.4zM529.1 241.8l.8 .3 0-2.4 -.8 .4 -.5 .6 0 .8zM502.8 229.7l.8 .6 .9 .1 .8-.7 -.2-1.7 -.6-.6 -.9 .1 -.5 .5 -.5 .8 .1 .9zM395.0 220.9l1.1-.6 .1-.8 -1.2-3.3 -.8-.4 0 5.3zM494.3 217.8l0-.3 0 .3zM493.4 217.1l.7-.2 -.7-.1 -.2 .1zM475.6 213.8l1.7 .4 .9-.6 .4-.9 -.2-.9 -1.9-2.1 -.9 .1 -.8 .8 -.8 1.2 0 .9 .9 .8zM427.3 209.4l-.1-.1zM486.6 206.8l.9 0 -.9-.2 0 .2zM528.2 203.8l1.7-.4 -.8-.5 -1.1 .5zM398.4 191.8l.3-.3 -.3-.2 -.2 .2z"/>
<path fill="#1432f0" d="M423.0 323.8l.3 0 -.3-.2 -.5 .2zM428.1 323.8l1.3 0 -.4-.4 -.9-.1 -.4 .5zM522.3 323.8l.5 0 -.5-.2 -.2 .2zM419.6 310.6l.9 .2 .6-.6 .7-2.5 -.3-1.7 .7-.6 1.7 0 2.5 1.9 4.3 .3 2.5 .7 .9 0 .8-.2 .3-.4 -.7-1.7 .1-.9 1.1-2.5 0-2.5 -.3-.9 -1.3-1.7 -.9-.6 -1.2-.2 -1.3-1.2 -1.7 .2 -3.4-.2 -3.4-1.9 -1.7-.3 -.9 .3 -.7 .5 -1 1.6 -.8 .1 -3.3-.8 -.9-.9 -2.6 1.6 -1.7-.3 -.8-.4 -.9-1 -.8-.5 -.9 0 -.8 .6 -.9 1.2 -.8 2.2 -1.7 2.1 -.9 .4 -.8-.1 -5.1-2.2 0 9 .3 .1 -.3 .3 0 2.2 1.1-.8 .7-1.7 .7-.5 .9-.2 1.7 .4 2.9 1.2 1.3 0 2.6 .7 2.5-1.6 4.3 .3 .6 .6 1.1 1.7 1.7 .6 2.6 .2zM418.6 308.5l-1.5-.6 -.7-1.1 .1-.8 .6-.8 .8-.1 .9 .5 1.1 2.1 -.3 .5 -.8 .4zM405.8 304.3l0-.9 1.1-1.7 .9 .2 .7 .7 .1 .8 -1.3 .9 -1.2 .2zM413.0 303.4l-.4-.8 .4-.9 .7-.4 .9 .4 .8 .9 -.2 .8 -1.5 .3zM430.3 302.6l-.4-.9 -1.6-.8 -.2-.8 4.3-.4 .8 .4 .4 .8 0 .8 -.4 .7 -.8 .6 -.9 .2 -.8-.2zM419.0 301.7l-1.1-.5 -.5-1.1 -.1-.9 .5-.8 3.5-2.4 2.6 .4 1.2 1.1 .3 .9 -.2 .8 -1.3 1.1 -2.1 .6 -.6 .8 -.7 .4 -.9-.1zM444.2 310.2l.9-.1 .7-.7 .2-.9 -.6-.8 -.3-.2 -.9-.1 -.8 .2 -.6 .9 0 .9 .6 .5 .8 .3zM502.8 310.4l.8-.2 -.8-1 -1.1 .2 .5 .8zM457.8 309.4l1.7-.2 .2-.7 -.2-.3 -1.7-1.2 -.6-2.7 -.2-.3 -.9-.2 -1.7 0 -1.7-1.1 -.8-.1 -.4 .8 -.1 2.6 -.6 1.7 1.1 1 1.1-.2 1.4-1.1 .9 .3 2.5 1.7zM476.5 309.5l.8 .4 2.6-2.1 .8-1 .9-.6 3.1-1.1 .2-.2 .9 .2 .9 .9 .2 .8 -.2 .9 -.9 .8 .3 .9 .5 .2 3.6-.2 .9-1.7 -.1-1.7 1.5-1.7 .9-.5 2.6 .5 1.7 1.9 .8 .5 .9-.5 2.5-2.7 .9-.4 1.7 .1 .1-.6 -1.9-4.2 .6-1.7 1.2-.8 0-.2 -.9-.4 -.8 .8 -1.7 .5 -.9-.3 -1.7-2.2 -.8-.3 -.9 .5 -.4 .7 -.3 .8 .1 2.6 -1.1 .8 -.8 0 -1.7-1.2 -2.6-.4 -.8-1 -.9 .3 -1 1.5 -.7 1.6 -.8 .4 -.2 .5 .2 .3 .6-.3 .2-.5 .9 .1 .8 .6 .4 .6 -.1 .9 -.3 .3 -1.7-.1 -.8 .3 -.9 .7 -.8-.5 -.7-1.6 0-.8 1.1-1.7 .7-2.5 0-.9 -.6-1.7 0-1.7 -.3-.8 -1-.7 -.6 .7 .6 3.4 0 2.5 -1.3 .9 -2.1 .8 -1.7-.8 -.9-.2 -.8 .5 -1.1 1.4 -.1 .8 1.2 1.3 1.7 .4 -1.7 .3 -1.7 .6 -.9 0 -.8-1.4 -.9-.5 -2.5-.2 -2.6 .7 -1.7-.9 -.8 0 -1.6 .5 -.5 .9 .6 2.5 2.3 1.9 .9 .3 1.7-.7 1.7 .1 1.7-.8 .8 0 1.7 .8 .9 1.4 1.5 1.3zM517.2 309.6l1.7 .2 2.5-.4 .9-.6 .5-1.1 .1-.9 -.5-.8 -1.8-.6 -3.4 .1 -1.4 .5 -.3 .8 .2 .9 .6 1.1 .6 .6zM451.9 301.1l.8 .1 1-1.1 .4-1.7 -.4-.9 -1-.5 -.8 .2 -.3 .3 -.6 1.7 .1 .9 .6 .8zM510.4 299.9l.8-.2 .3-.5 -.3-1.2 -.8-.5 -.9 .9 .2 .8zM441.7 297.6l2.2-.1 .4-.8 -.5-.9 -1-.8 -.1-2.6 -1-.8 -.9-.3 -.8 .2 -.5 .9 -.6 1.7 -.1 1.7 .2 .9 2.1 .8zM523.1 296.7l.9 .4 .8-.4 .3-.9 -.3-.9 -1.1-.8 .1-.8 1 0 .9 .5 2.5-1.8 1.7-.8 0-2.8 -1.7 1 -1.7-.6 -2.5 1 -1.2 .9 -1.4 2.6 1 2.5 .7 .9zM468.0 293.5l0-.8 -.9-.7 -.2 .4 .2 .5 .5 .4zM401.8 292.7l.9 .2 1.1-.5 .4-1.7 -.3-.8 -.4-.2 -1.7 .2 -.8 .8 -.2 .9 .6 .8zM488.3 289.2l.9 .3 1-.5 -.3-.8 -.7-.9 .8-.7 .9 .2 1.1-.3 .3-.9 -.3-.8 0-.9 .4-1.7 .7-1.7 -.4-.8 -1-.1 -.8 .3 -1.7-1.8 -1.9 .7 -.8 .9 .4 1.7 -1.3 2.5 .2 .7 .7 1 .5 1.7 1.1 1.7zM433.2 288.3l1.7 .1 .9-.6 1.7-.4 -.6-.9 -.3-.1 -5.1 .8 0 .2 1.3 .8zM503.6 288.3l.9-.1 1.7-1.3 .8-.1 5.9 1.7 .9 .1 .8-.3 1.6-1 .5-.8 0-1.7 -.3-.9 -1.8 .9 -.6-.9 -.2-.9 -.9-.5 -2.3 1.4 -2.8 .4 -2.5 1 -.4-.5 -.1-.9 1.4-2.5 .1-.9 -1.8-.4 -1.7 .3 -1 1 .2 .8 1.5 3.4 .1 2.6zM398.4 284.8l.9 .3 .8-.2 1.7-.9 1.7 .9 .9-.1 .8-.9 1.7 .5 1-.5 1.1-1.7 .5-1.2 .8-.2 1.7 .4 1.7 0 1.7 .4 .9-.1 .9-1 .1-3.3 .6-1 1.7-.2 .6-.5 -.3-.9 -.3-.3 -1.7-.7 -.5-.7 -.5-2.5 -1.1-.9 -1.2-.4 -1.5 .4 -1.4 .9 -1.4 1.8 -.8 .3 -1-.4 -.7-1 -1-.7 -.6-.9 -.1-.9 -2.6-2.8 -2.5-.2 -.4-.3 -.3-1.7 .2-1.7 -1.2-1.7 -.3-.9 .2-2.5 .5-1.7 -.2-.8 -1-1.7 -.3-1.7 -1.8-3.4 -.2-.9 .5-.8 1.2-.9 .9-2.5 -1.1-4.3 .8-1.7 .2-2.5 -1-2.5 -.1-.9 .8-.7 1.7 .1 1.1-.2 .3-.9 0-1.7 2.4-3.4 1.3-.7 .9 0 .8 .5 .9-.1 1.1-1.4 1.6-.8 .8-.9 .2-.8 .1-.9 -.4-1 -.9-.3 -2.5 .2 -.7-.6 -1-.4 -.9 .2 -1.1 1.9 -.6 .5 -3.4 1.6 -.8-.3 -.7-.9 -.4-2.6 -1.5-3.5 -.8-.2 -1.7 .7 0 1.9 .8 .4 1.2 3.3 -.3 1.1 -1.7 .5 0 20.2 1.7-.7 .9 .9 -.9 2 -.9 .2 -.8 0 0 21.8 .8 .1 .3-.3 1.4-.6 .4 .6 -.8 .8 -2.1 .4 0 15.1 3.4 1.3 .8 1.9zM399.8 283.1l-.9-.9 -.1-.8 .7-.9 2.3-.9 1.7-1.1 .9 .3 .8 .9 .3 .8 -.5 2.6 -.6 .4 -.9 0 -1.7 .4 -1.7-.6zM410.6 278.0l-1.1-1.1 -.9-.4 -.8-1 .8-.9 1.7 .6 2.3-1.4 1.3 0 .7 .8 .2 .9 -.2 1 -1.7 2 -.9 .2 -.8-.3zM404.2 269.5l.2-.3 .6 .3 -.6 .2zM423.9 281.5l.5-1 -.1-.8 -.4-.5 -.9 .1 -.5 .4 .2 .8 1 .9zM461.2 281.5l.8 .3 .2-.4 -1.1 0zM512.9 281.5l.9 .7 1.7 0 .2-.8 -.1-1.7 -1-.6 -.4-1.9 -1.3-1.3 -1.7-1 -1.7 .2 -.5 1.2 .1 .9 1.2 1.6 2.6 2.6zM525.7 281.5l.8-.4 .5-1.4 -.1-.9 -.4-.7 -.8-.3 -.8 .2 -1.5 1.7 0 .8 2.1 .9zM429.0 280.7l1.7 0 1.9-1 .9-.9 0-.8 -.3-2.5 1-2.6 -1-.8 -1.7-.6 -.8 .3 -1 1.1 -.6 1.7 .2 1.7 -1.5 1.7 -.3 .8 0 .9 1 .8zM469.7 274.8l.8 .1 .9-.4 1.5-2.4 .9-.9 .2-.8 -.3-.9 -.7-.8 -.2-.9 -.6-.8 -.8 .4 -.3 .4 -.4 1.7 .2 1.7 -.3 .9 -1.1 1.7 .1 .8zM422.2 273.1l.8 .2 .9-1.2 0-.9 -.5-1.7 -.1-.8 .6-.7 1.7 0 .3-.2 .4-.8 -.4-.9 -.3-1.5 -.9 0 -.8 1.3 -.9 .7 -1.7 0 -.5 .4 0 .8 1.2 1.7 .2 .9 -.3 1.7 .1 .8zM498.5 271.2l1.1 0 .2-.8 -1.5-2.6 .1-.8 -1.5-1.7 1.6-1.9 1.3-.7 -.4-.6 -.9-.5 -.3-.6 .4-.8 1.5-.9 .5-.8 -.1-.9 -1-1.6 -.1-.9 .4-.8 1.9-1.7 .5-.9 .3-1.7 1.6-1.7 -.8-1.7 .4-.8 -.2-.9 -2.4-.7 -.4-1 .2-1.7 1-2.5 .9-.7 .8 0 3.4 1.5 .8-.2 1.7-1.1 2 3 -2.5 1.7 -.3 .9 .2 .8 .6 .4 .9 .1 .8-.3 .7-1 -.2-1.7 .4-.4 .8 .2 .3 .2 -.1 2.5 -.5 .9 -.2 .8 .5 1.3 .9 .3 1.7-.7 1.2-1.7 1.1-.9 .3-.8 -.2-1.7 -1.6-.9 -.8-.1 -1.7 .4 -.4-1.1 -.9-.9 -.3-.8 .7-1.3 1.7-.7 1.7-1.3 1-.1 .7-.7 -.5-1 -1.2-.8 -.7-1.7 .2-.9 2.3-2.5 .1-.9 -.7-1.7 -1.2-.6 -.8 .6 -.2 1.7 -1.5 1.8 -.9 .8 -.8 .3 -.9-.1 -.4-1.1 .4-1.2 3.4-2.1 .9-.1 0-.8 -.4-.9 -3-.8 -.8-.9 -.2-1.7 -.4-.8 -1.5-1.7 -.5-.9 -2.5-1.8 -.9-.2 -1.5 .3 .2 .9 2 .8 -.1 1.7 .4 1.7 -.5 1.7 -.5 .6 -.8 .4 -2.2-1 -.4-.8 1.2-1.7 .1-.9 -.4-.6 -.9-.5 -.8 .1 -.8 1 -.2 1.7 -.7 .2 -.9-.8 -.4-1.9 -.9-1.7 -.1-.9 .6-1.4 .3 .6 1.4 1 .8 .3 .9-1.3 .2-.9 -1.4-.8 -.8-.9 1.6-2.5 .4-1 .8-.1 1.3 1.1 3 2 3.3 .7 .9-.3 1.9-2.4 .7-2.5 -.5-.9 -1.3-.6 -3.4 .1 -1.6-.6 -2-1.4 -1.4-2.3 -1.7 0 -1.7 1 -.9 .1 -2.5-.2 -1.7 .4 -1.7-.3 -1.7 .6 -1.7 .1 -.9-.3 -1.7-1.8 -.8-.5 -.9 .1 -1.6 .6 -4.3 .9 -3.4 1.4 -.8 .9 -.9 .4 -2.5-1.5 -2-.5 -1.4-.8 -.9-.3 -.8 .4 -.8 .7 -.3 .9 .4 .8 0 .9 -1.4 2.5 .8 .9 5.1 2.5 1.3 1.2 .5 1.3 -.2 .9 -1.2 .8 -.8 0 -.9-.4 -.8 .1 -.4 1.2 -.5 .5 -.8 .3 -1.1 .9 -.1 1.7 .3 .9 3 1.6 .8 .9 .2 .8 -.3 .9 .2 .8 2.1 .4 1.7 .7 1.7-.4 1.7-1 .8-.2 1.7 .4 3.4 2.6 1.7 1.9 .8 .3 1.7-.3 .9 .3 2.5 3 -1.9 1.6 0 2.6 1.6 1.7 .1 .8 -.6 .7 -.9 .4 -.8 0 -.9-.7 -1.2-.4 -.2-.8 .3-1.7 -.9-.9 -1.3-.1 -3.3 1 .6 1.7 .9 .8 3.4 .1 .5 1.6 1 1.7 .5 1.7 .6 .4 .8 .1 1.7-1.4 1 .1 .8 .8 .1 .9 -.9 1.7 -.2 .8 -.1 4.3 .4 1.7 .2 2.5 .8 2.5 -.1 .9 -1.1 .7 -1.7 .4 -.6 .6 -.3 .8 .2 .9 .5 1.7 .8 .8 1.1 .4 1.7 .2 1.7 1.6 1.7 .3 1.1 1.8 1.4 .8zM495.2 250.9l-.4-.9 0-.8 .5-.9 .7-.5 .8-.3 .9 .5 .4 1.2 -.4 .9 -.9 .7 -.8 .3zM502.7 229.7l-.1-.9 .5-.8 .5-.5 .9-.1 .6 .6 .2 1.7 -.8 .7 -.9-.1 -.8-.6zM487.6 218.6l.7-.6 0 .7zM494.3 217.8l0-.3 0 .3zM493.2 216.9l.2-.1 .7 .1 -.7 .2zM483.1 215.2l-.2-.8 .4-4.2 .8-.9 .8-.1 1.9 1.8 0 .8 -2.4 2.6 -.3 1.7 -.8-.6zM474.9 213.5l-.9-.8 0-.9 .8-1.2 .8-.8 .9-.1 1.9 2.1 .2 .9 -.4 .9 -.9 .6 -1.7-.4zM486.6 206.8l0-.2 .9 .2 -.9 0zM504.5 263.2l.8 .2 .5-.7 -.5-1 -1.7 .1 -.8-1 -.9-.2 -.2 .4 .2 .7 .9 .4 .8 0 .2 .6zM462.9 261.9l.5-.9 -.2-.8 -.3-.2 -.9-.1 -.3 1.1 .3 .6 .7 .3zM476.5 261.9l1.7-.1 .8-.8 .3-.8 -.3-.6 -.8-.4 -2.3 1 -.5 .8 .2 .4 .7 .5zM512.9 262.1l1-.2 -.1-1.2 -.9-.4 -.6 .7 .4 .9zM524.0 262.3l.8 .1 1.1-.5 2.1-2.6 1.6-2.5 -.3-1.7 .6-.9 0-5.2 -1.7-.2 -.6-.5 -.8-2.5 -.3-.4 -.8 .4 -.4 .8 -.9 3.4 -.6 5.1 .4 1.7 -.5 .8 -.9 .9 -.3 .8 .3 1.7 .6 .9zM426.4 254.8l.9-.1 .8-.4 .1-.9 -.9-2.1 -.9 .1 -1.3 1.2 0 .8 .6 .9zM406.9 250.9l1 0 .4-.9 -.5-.7 -.9 .4 -.2 .3 .2 .9zM466.3 250.2l2.7-1 .8-.9 1.6-2.3 .8-.7 .9-.4 .6-1.7 1.1-.6 .6-1.1 -.2-.8 -.4-.7 -.9-.6 -.7 .4 .2 2.6 -.3 .5 -1.7 .8 -1.7-.8 -1.4 1.2 -.7 1.7 -2.2 2.5 -.2 .9 .7 .8zM439.2 249.3l.8 .6 .6-.7 0-.9 -.6-.6 -.9 1.5zM435.8 246.7l.9-.1 -.1-.8 -.8 .4 -.1 .4zM440.8 246.4l.9 0 1.1-.6 .2-.9 -.5-.9 -.8-.4 -.9-.1 -.8 .3 -.4 1.1 .4 .9zM527.4 243.6l2.5-.1 0-1.4 -1.3-.6 0-.8 .5-.6 .8-.4 0-5 -1.2 0 -.4 .9 -.2 1.7 -.5 .8 -2 1.7 .5 2.6 .6 .8zM409.5 240.7l-.1 0zM416.3 241.5l0-.9 -.8 .1zM455.3 234.1l.8-.3 .9-2.4 1.7-.2 .8-.7 .3-.8 -.3-1.1 -1.9-1.5 -1.5-.7 -1.7 0 -2.2 .7 -.4 .9 .2 1.7 .7 1 1.3 .7 .8 .8 .3 1.7zM426.4 233.1l.9 .3 .8-.5 .4-.7 0-.8 -.4-.9 -.8-.5 -.9 0 -.5 .5 -.3 .9 .1 .8 .7 .9zM412.9 232.3l.8 .4 .9-.1 .1-1.2 .7-1.7 -.8-1.2 -2.6-.8 -.9 .3 -.5 .8 .1 1.7 .4 .9 1.5 .8zM528.2 231.8l.9 0 .8-.3 0-.6 -.6-1.2 -.5-2.6 .1-.8 .8-1.7 .2-2.6 -1.8-2.5 -.3-.9 .4-1.4 1.7 .1 -.1-2.9 -1.3-1.7 -.3-2.5 .1-.9 1.6-.5 0-11.6 -.8 1.6 -.5 2 -1.2 .7 -1.9 .2 -2.4 1.4 -2.5 .1 -.9 1.1 -.3 .8 -1.5 1.7 0 .8 1 .2 2.5-1 1.7 .2 .9-.3 .8 .5 1.1 2.1 .2 .9 -.4 .8 -.9 .7 -.8-.4 -1.7-1.6 -.9 .5 -.3 .8 .1 .8 .9 1.7 1.1 .9 .2 .8 .1 1.7 -.7 .9 -.4 .8 1 1.7 -2 1 -.7 1.6 .3 .8 2.1 1.7 .5 .9 -1.6 3.4 .3 1 .8 .4 .9-.1 1.7-1 .8 0 1.2 1.4zM525.6 227.1l-1-.8 1.1-1 .2 1 -.2 .9zM528.0 203.4l1.1-.5 .8 .5 -1.7 .4zM434.1 228.9l.4-.1 -.2-1.7 1.3-3.4 .1-3.4 -.8-1.1 -2.5 1.1 -.6 2.6 0 .8 .6 2.6 1.5 2.5zM467.1 228.9l.9 .2 .4-.3 .2-.8 -.6-.8 -.9-.2 -.2 1 .2 .8zM465.4 225.6l.5-.2 -.5-1.2 -.2 .4 0 .8zM458.7 222.9l1.2 0 .6-.9 -.3-.8 -1.5-.6 -.7-1.1 .7-3.4 1.7-1.7 .5-.9 -.5-.5 -.9-.3 -.8 .2 -1.7 1.1 -1.7-.4 -1.7 1.2 -.8 1.3 .1 3.4 .5 .8 1 .5 2.6 .4 1.6 1.7zM427.3 212.8l.8-.1 .8-.9 1.3-2.5 0-.8 -1.2-1.4 -3.4-.6 -1.1 .3 -.9 .8 -.2 .9 .3 .8 1.9 1.4 .8 1.4 .7 .6zM427.2 209.3l.1 .1zM455.3 213.5l.7-.8 -.7-1.5 -.9-.2 -.3 .8 .7 .9zM395.9 211.1l.8-.1 1.5-1.7 .3-.8 -.9-.5 -.9 .2 -1.6 1.1 -.6 .9 .9 .8zM441.7 206.9l1.7 .7 1.7-.3 .5-.5 .2-.9 -.6-.8 -1.8-.8 -.9 0 -1 .8 -.5 .8 .4 .9zM460.4 207.0l.5-.2 .5-.9 -1-1.3 -.5-2.1 -1.2-.7 -.9-.1 -.8 .5 -.4 1.2 .2 .8 .4 .9 .6 .6 1.9 1.1zM395.0 205.5l.9-.8 1.8-.5 1.6-1.3 .8 .1 1.2-.5 .6-.8 .2-1.7 .9-2.6 0-1.7 .2-.8 2-.6 1.7-1.9 1.7-1.1 .9 0 .8 .2 .9 .8 .3 .9 -.2 .8 -1 1 -2.1 .7 1.3 .5 .7 1.2 .1 .9 -1.2 2.5 .2 .9 1 1.1 .9 .2 .8-.1 2.6-1.2 1.7 .6 .8-.3 .2-.3 -.4-.9 -1.5-.6 -.7-1.1 -.1-1.7 -.5-1.7 .1-.8 .5-.9 .7-.5 1.7-.7 .8 .1 .9 .5 1.7 2.2 1.1 1 1.4 3.7 .9 .4 .8 0 .9-.4 .3-.3 0-.9 1-2.5 0-1.7 .5-2.6 .7-.6 1.7-.7 .4-.4 .1-.8 -.8-1.7 -2.6 0 -1.3 1.2 -.9 0 -.8-.6 -.9-.1 -1.7 .3 -1.7-.1 -.5-.7 -10.2 0 -1.1 2.1 -.9 .2 -1.7-.3 -1.7-.9 -1.7 .4 -.8-.1 -.7-.6 -.4-.8 -3 0 -.4 .8 -1.8 1.7 -.5 .9 0 14.3zM398.2 191.5l.2-.2 .3 .2 -.3 .3zM447.6 200.4l.9 0 .1-.4 -.1-.7 -.9 .3 -.2 .4zM505.3 200.1l.2-.1 -.2-.3 -.4 .3zM405.2 196.7l.7-.1 .7-.9 -.5-.2 -.9 .1 -.5 1z"/>
<path fill="#198cff" d="M415.4 323.8l7.1 0 .5-.2 .3 .2 4.4 0 .4-.5 .9 .1 .4 .4 6.9 0 -.5-.4 -.9-1.2 -.3-.9 -.2-1.7 .5-.4 .9 .2 .8 .6 1 1.3 .4 .8 0 .9 -.6 .8 5.1 0 -.2-.8 .2-.4 .4-.5 1.3-.5 .9 .2 .2 .3 .2 .9 -.4 .8 35.7 0 -.7-1.7 -1.1-.6 -.8-.1 -2.6 .9 -2.5 .2 -.9-.2 -2-1.9 -.4-.8 0-1.7 .7-1.1 1.7-.2 1.7 .3 1.7 1.4 .9 .4 1.7 .2 .8-.4 .9-.8 1.7-.4 1.7-.7 .8 0 1.7 .5 1.6 1.6 .9 .2 1.7-.9 1.7-2.4 .9-.3 3.7 1.7 2.2 1.6 .9 .1 1.7-.5 2.5 .3 1.1 1.1 .1 .8 -.8 1.7 -.4 .4 -.8 0 -1.7-1 -.9-.3 -.8 .1 -3.4 2.3 -2.6 0 -1.7-.9 -.8-.2 -2.6 .5 -2 .8 27.5 0 .2-.8 -1.6-1.7 -.5-2.6 .3-.8 1.6-2.1 .8 .8 1.7 3.5 .9 .7 1-.4 .4-.8 .2-.9 .9-.9 1.6 .1 .9 .8 .3 .9 -.6 .8 -2.3 1.7 -1.1 1.7 3.6 0 .2-.2 .5 .2 7.1 0 0-32.6 -1.7 .8 -2.5 1.8 -.9-.5 -1 0 -.1 .8 1.1 .8 .3 .9 -.3 .9 -.8 .4 -.9-.4 -.7-.9 -1-2.5 1.4-2.6 1.2-.9 2.5-1 1.7 .6 1.7-1 0-34.2 -.6 .9 .3 1.7 -.5 .8 -3.4 4.5 -.9 .3 -.8-.1 -.6-.4 -.6-.9 -.3-1.7 .3-.8 .9-.9 .5-.8 -.4-1.7 .3-3.4 .5-2.5 1.1-3.4 .8-.4 .3 .4 .8 2.5 .6 .5 1.7 .2 0-5.5 -2.5 .1 -.9-.5 -.4-.7 -.5-2.6 2-1.7 .5-.8 .2-1.7 .4-.9 1.2 0 0-3.2 -.8 .3 -.9 0 -1.7-1.8 -.8 0 -1.7 1 -.9 .1 -1-.6 -.1-.8 .3-.9 1.3-2.5 -.5-.9 -2.1-1.7 -.3-.8 .7-1.6 2-1 -1-1.7 .4-.8 .7-.9 .1-.8 -.4-1.7 -1.1-.9 -.9-1.7 -.1-.8 .3-.9 .9-.4 1.7 1.6 .8 .4 .9-.7 .4-.8 -.2-.9 -1.1-2.1 -.8-.5 -.9 .3 -1.7-.2 -2.5 1 -1-.2 0-.8 1.5-1.7 .3-.8 .9-1.1 2.5-.1 2.4-1.4 1.9-.2 1.2-.7 .5-2 .8-1.6 0-9.1 -4.3 0 0 1.7 -.2 .8 -.6 .8 -.8 0 -1.2-.8 .1-.8 .9-1.7 -4 0 -.1 .9 -1 1.6 -.9 2.6 -.9 1.7 -.1 1.7 -.5 .8 -1.7 .9 -.8-.1 -2.3-1.6 -.2-1.7 -.9-.4 -1.1-1.3 -.6-.4 -.9 0 -.7 .4 -.8 .8 -1.8 2.6 -1.7 1.5 -.9 .4 -.8-.1 -.9-1.2 -.8-.3 -4.3 1.4 -.8 0 -1.7-.6 -2.6 .2 -4.2-.5 -5.1 1.1 -4.2-.4 -4.3-1.9 -1.7 .4 -1.7 .1 -.8 .6 -.9-.1 -.5-.6 -2-.9 -.9-.7 -.8-1.7 -.9-.2 -.8 .3 -1.2-.2 -1.2-.9 -1-1.2 -1-.5 .2-.8 1.7-1.6 .8 .2 1.7 1.1 .4-.6 .2-.8 -32.3 0 .8 1.7 -.1 .8 -.4 .4 -1.7 .7 -.7 .6 -.5 2.6 0 1.7 -1 2.5 0 .9 -.3 .3 -.9 .4 -.8 0 -.9-.4 -1.4-3.7 -1.1-1 -1.7-2.2 -.9-.5 -.8-.1 -1.7 .7 -.7 .5 -.5 .9 -.1 .8 .5 1.7 .1 1.7 .7 1.1 1.5 .6 .4 .9 -.2 .3 -.8 .3 -1.7-.6 -2.6 1.2 -.8 .1 -.9-.2 -1-1.1 -.2-.9 1.2-2.5 -.1-.9 -.7-1.2 -1.3-.5 2.1-.7 1-1 .2-.8 -.3-.9 -.9-.8 -.8-.2 -1.2 .2 -2.2 1.6 -.9 1.2 -2 .6 -.2 .8 0 1.7 -.9 2.6 -.2 1.7 -.6 .8 -1.2 .5 -.8-.1 -1.6 1.3 -1 .1 -.8 .4 -.9 .8 -.8 .3 0 8.1 1.7-.7 .8 .2 1.5 3.5 .4 2.6 .7 .9 .8 .3 3.4-1.6 .6-.5 .8-1.7 .3-.2 .9-.2 1 .4 .7 .6 2.5-.2 .9 .3 .4 1 -.1 .9 -.3 1.1 -.9 .7 -1.4 .7 -1.1 1.4 -.9 .1 -.8-.5 -.9 0 -1.7 1.1 -2 3 0 1.7 -.5 1 -.9 .1 -1.7-.1 -.8 .7 .1 .9 1 2.5 -.2 2.5 -.8 1.7 1.1 4.3 -.9 2.5 -1.2 .9 -.5 .8 .2 .9 1.8 3.4 .3 1.7 1 1.7 .2 .8 -.5 1.7 -.2 2.5 .3 .9 1.2 1.7 -.2 1.7 .3 1.7 .4 .3 2.5 .2 2.6 2.8 .1 .9 .6 .9 1 .7 .7 1 1 .4 .8-.3 1.4-1.8 1.4-.9 1.5-.4 1.2 .4 1.1 .9 .5 2.5 .5 .7 1.7 .7 .3 .3 .3 .9 -.6 .5 -1.7 .2 -.6 1 -.1 3.3 -.8 .9 -1 .2 -1.7-.4 -1.7 0 -1.7-.4 -.8 .2 -.5 1.2 -1.1 1.7 -1 .5 -1.7-.5 -.8 .9 -.9 .1 -1.7-.9 -.8 .3 -.4 .5 -1.3 .3 -.9-.3 -.8-1.9 -3.4-1.3 0 16.1 5.1 2.2 .8 .1 .9-.4 1.7-2.1 .8-2.2 .9-1.2 .8-.6 .9 0 1 .6 .7 .9 1.7 .5 .8 .2 2.6-1.6 .9 .9 3.3 .8 .8-.1 1-1.6 .7-.5 1.7-.2 2.6 1 1.7 1.1 3.4 .2 1.7-.2 1.3 1.2 1.2 .2 .9 .6 1.3 1.7 .3 1.7 0 1.7 -1.1 2.5 -.1 .9 .7 1.7 -.3 .4 -.8 .2 -.9 0 -2.5-.7 -4.3-.3 -2.5-1.9 -1.7 0 -.7 .6 .3 1.7 -.1 .8 -.6 1.7 -.6 .6 -1.7-.6 -2.5-.2 -1.7-.6 -1.1-1.7 -.6-.6 -.9-.2 -3.4-.1 -2.5 1.6 -2.6-.7 -1.3 0 -3.8-1.5 -1.7 .1 -.7 .5 -.7 1.7 -1.1 .8 0 2.3 2.5 .1 2.6 .6 1.7-.4 2.5-.1 3.4-1 1.7 0 3.4 .8 1.7 .8 4.2 .2 1.7 1.1 1.7 .2 .9 .6 .8 0 .9-.4 2.5 0 2.6 .6 1.4 2.3 -.4 .9 -1.9 1.6 -.8 .4 -2.6-.1 -2.5 .3 -2.6 1.5 -1.7 1.9 -1.6-.5 -1.2 .8zM448.6 318.7l-1.4-1.7 -.4-.8 .8-.8 .9-.1 1.7 .7 .8 1.9 -.2 .8 -.6 .8 -.9-.2zM462.7 318.7l.5 0 -.3 .1zM431.2 317.9l.1-.9 1.1-.8 1.7-1 .8-.1 -.5 1.1 -.4 1.7 -.8 .7 -1.7-.6zM440.3 317.9l-2.6-1.7 .6-.6 .9 .2 1.6 0 1 2.1 -.1 .5 -.9-.1zM444.2 310.2l-.8-.3 -.6-.5 0-.9 .6-.9 .8-.2 .9 .1 .3 .2 .6 .8 -.2 .9 -.7 .7 -.9 .1zM502.2 310.2l-.5-.8 1.1-.2 .8 1 -.8 .2zM457.8 309.4l-2.5-1.7 -.9-.3 -1.4 1.1 -1.1 .2 -1.1-1 .6-1.7 .1-2.6 .4-.8 .8 .1 1.7 1.1 1.7 0 .9 .2 .2 .3 .6 2.7 1.7 1.2 .2 .3 -.2 .7 -1.7 .2zM476.3 309.4l-1.5-1.3 -.9-1.4 -1.7-.8 -.8 0 -1.7 .8 -1.7-.1 -1.7 .7 -.9-.3 -2.3-1.9 -.6-2.5 .5-.9 1.6-.5 .8 0 1.7 .9 2.6-.7 2.5 .2 .9 .5 .8 1.4 .9 0 1.7-.6 1.7-.3 -1.7-.4 -1.2-1.3 .1-.8 1.1-1.4 .8-.5 .9 .2 1.7 .8 2.1-.8 1.3-.9 0-2.5 -.6-3.4 .6-.7 1 .7 .3 .8 0 1.7 .6 1.7 0 .9 -.7 2.5 -1.1 1.7 0 .8 .7 1.6 .8 .5 .9-.7 .8-.3 1.7 .1 .3-.3 .1-.9 -.4-.6 -.8-.6 -.9-.1 -.2 .5 -.6 .3 -.2-.3 .2-.5 .8-.4 .7-1.6 1-1.5 .9-.3 .8 1 2.6 .4 1.7 1.2 .8 0 1.1-.8 -.1-2.6 .3-.8 .4-.7 .9-.5 .8 .3 1.7 2.2 .9 .3 1.7-.5 .8-.8 .9 .4 0 .2 -1.2 .8 -.6 1.7 1.9 4.2 -.1 .6 -1.7-.1 -.9 .4 -2.5 2.7 -.9 .5 -.8-.5 -1.7-1.9 -2.6-.5 -.9 .5 -1.5 1.7 .1 1.7 -.9 1.7 -3.6 .2 -.5-.2 -.3-.9 .9-.8 .2-.9 -.2-.8 -.9-.9 -.9-.2 -.2 .2 -3.1 1.1 -.9 .6 -.8 1 -2.6 2.1 -.8-.4zM516.9 309.4l-.6-.6 -.6-1.1 -.2-.9 .3-.8 1.4-.5 3.4-.1 1.8 .6 .5 .8 -.1 .9 -.5 1.1 -.9 .6 -2.5 .4 -1.7-.2zM451.7 300.9l-.6-.8 -.1-.9 .6-1.7 .3-.3 .8-.2 1 .5 .4 .9 -.4 1.7 -1 1.1 -.8-.1zM509.7 299.2l-.2-.8 .9-.9 .8 .5 .3 1.2 -.3 .5 -.8 .2zM441.1 297.5l-2.1-.8 -.2-.9 .1-1.7 .6-1.7 .5-.9 .8-.2 .9 .3 1 .8 .1 2.6 1 .8 .5 .9 -.4 .8 -2.2 .1zM467.6 293.3l-.5-.4 -.2-.5 .2-.4 .9 .7 0 .8zM401.4 292.4l-.6-.8 .2-.9 .8-.8 1.7-.2 .4 .2 .3 .8 -.4 1.7 -1.1 .5 -.9-.2zM412.2 290.7l-1.9-.4 -.5-.4 -.2-.9 .1-.8 .5-.9 1-.2 1.7 .6 2.5-.7 .9 .1 .7 1.1 0 1.7 -.4 .8 -1.2 .7 -.8 0 -1.7-.5zM488.1 289.0l-1.1-1.7 -.5-1.7 -.7-1 -.2-.7 1.3-2.5 -.4-1.7 .8-.9 1.9-.7 1.7 1.8 .8-.3 1 .1 .4 .8 -.7 1.7 -.4 1.7 0 .9 .3 .8 -.3 .9 -1.1 .3 -.9-.2 -.8 .7 .7 .9 .3 .8 -1 .5 -.9-.3zM432.8 288.2l-1.3-.8 0-.2 5.1-.8 .3 .1 .6 .9 -1.7 .4 -.9 .6 -1.7-.1zM503.6 288.2l-.1-2.6 -1.5-3.4 -.2-.8 1-1 1.7-.3 1.8 .4 -.1 .9 -1.4 2.5 .1 .9 .4 .5 2.5-1 2.8-.4 2.3-1.4 .9 .5 .2 .9 .6 .9 1.8-.9 .3 .9 0 1.7 -.5 .8 -1.6 1 -.8 .3 -.9-.1 -5.9-1.7 -.8 .1 -1.7 1.3 -.9 .1zM423.7 281.4l-1-.9 -.2-.8 .5-.4 .9-.1 .4 .5 .1 .8 -.5 1zM461.1 281.4l1.1 0 -.2 .4 -.8-.3zM512.9 281.4l-2.6-2.6 -1.2-1.6 -.1-.9 .5-1.2 1.7-.2 1.7 1 1.3 1.3 .4 1.9 1 .6 .1 1.7 -.2 .8 -1.7 0 -.9-.7zM525.5 281.4l-2.1-.9 0-.8 1.5-1.7 .8-.2 .8 .3 .4 .7 .1 .9 -.5 1.4 -.8 .4zM428.5 280.5l-1-.8 0-.9 .3-.8 1.5-1.7 -.2-1.7 .6-1.7 1-1.1 .8-.3 1.7 .6 1 .8 -1 2.6 .3 2.5 0 .8 -.9 .9 -1.9 1 -1.7 0zM469.6 274.6l-.1-.8 1.1-1.7 .3-.9 -.2-1.7 .4-1.7 .3-.4 .8-.4 .6 .8 .2 .9 .7 .8 .3 .9 -.2 .8 -.9 .9 -1.5 2.4 -.9 .4 -.8-.1zM422.0 272.9l-.1-.8 .3-1.7 -.2-.9 -1.2-1.7 0-.8 .5-.4 1.7 0 .9-.7 .8-1.3 .9 0 .3 1.5 .4 .9 -.4 .8 -.3 .2 -1.7 0 -.6 .7 .1 .8 .5 1.7 0 .9 -.9 1.2 -.8-.2zM498.5 271.2l-1.4-.8 -1.1-1.8 -1.7-.3 -1.7-1.6 -1.7-.2 -1.1-.4 -.8-.8 -.5-1.7 -.2-.9 .3-.8 .6-.6 1.7-.4 1.1-.7 .1-.9 -.8-2.5 -.2-2.5 -.4-1.7 .1-4.3 .2-.8 .9-1.7 -.1-.9 -.8-.8 -1-.1 -1.7 1.4 -.8-.1 -.6-.4 -.5-1.7 -1-1.7 -.5-1.6 -3.4-.1 -.9-.8 -.6-1.7 3.3-1 1.3 .1 .9 .9 -.3 1.7 .2 .8 1.2 .4 .9 .7 .8 0 .9-.4 .6-.7 -.1-.8 -1.6-1.7 0-2.6 1.9-1.6 -2.5-3 -.9-.3 -1.7 .3 -.8-.3 -1.7-1.9 -3.4-2.6 -1.7-.4 -.8 .2 -1.7 1 -1.7 .4 -1.7-.7 -2.1-.4 -.2-.8 .3-.9 -.2-.8 -.8-.9 -3-1.6 -.3-.9 .1-1.7 1.1-.9 .8-.3 .5-.5 .4-1.2 .8-.1 .9 .4 .8 0 1.2-.8 .2-.9 -.5-1.3 -1.3-1.2 -5.1-2.5 -.8-.9 1.4-2.5 0-.9 -.4-.8 .3-.9 .8-.7 .8-.4 .9 .3 1.4 .8 2 .5 2.5 1.5 .9-.4 .8-.9 3.4-1.4 4.3-.9 1.6-.6 .9-.1 .8 .5 1.7 1.8 .9 .3 1.7-.1 1.7-.6 1.7 .3 1.7-.4 2.5 .2 .9-.1 1.7-1 1.7 0 1.4 2.3 2 1.4 1.6 .6 3.4-.1 1.3 .6 .5 .9 -.7 2.5 -1.9 2.4 -.9 .3 -3.3-.7 -3-2 -1.3-1.1 -.8 .1 -.4 1 -1.6 2.5 .8 .9 1.4 .8 -.2 .9 -.9 1.3 -.8-.3 -1.4-1 -.3-.6 -.6 1.4 .1 .9 .9 1.7 .4 1.9 .9 .8 .7-.2 .2-1.7 .8-1 .8-.1 .9 .5 .4 .6 -.1 .9 -1.2 1.7 .4 .8 2.2 1 .8-.4 .5-.6 .5-1.7 -.4-1.7 .1-1.7 -2-.8 -.2-.9 1.5-.3 .9 .2 2.5 1.8 .5 .9 1.5 1.7 .4 .8 .2 1.7 .8 .9 3 .8 .4 .9 0 .8 -.9 .1 -3.4 2.1 -.4 1.2 .4 1.1 .9 .1 .8-.3 .9-.8 1.5-1.8 .2-1.7 .8-.6 1.2 .6 .7 1.7 -.1 .9 -2.3 2.5 -.2 .9 .7 1.7 1.2 .8 .5 1 -.7 .7 -1 .1 -1.7 1.3 -1.7 .7 -.7 1.3 .3 .8 .9 .9 .4 1.1 1.7-.4 .8 .1 1.6 .9 .2 1.7 -.3 .8 -1.1 .9 -1.2 1.7 -1.7 .7 -.9-.3 -.5-1.3 .2-.8 .5-.9 .1-2.5 -.3-.2 -.8-.2 -.4 .4 .2 1.7 -.7 1 -.8 .3 -.9-.1 -.6-.4 -.2-.8 .3-.9 2.5-1.7 -2-3 -1.7 1.1 -.8 .2 -3.4-1.5 -.8 0 -.9 .7 -1 2.5 -.2 1.7 .4 1 2.4 .7 .2 .9 -.4 .8 .8 1.7 -1.6 1.7 -.3 1.7 -.5 .9 -1.9 1.7 -.4 .8 .1 .9 1 1.6 .1 .9 -.5 .8 -1.5 .9 -.4 .8 .3 .6 .9 .5 .4 .6 -1.3 .7 -1.6 1.9 1.5 1.7 -.1 .8 1.5 2.6 -.2 .8 -1.1 0zM503.8 262.7l-.2-.6 -.8 0 -.9-.4 -.2-.7 .2-.4 .9 .2 .8 1 1.7-.1 .5 1 -.5 .7 -.8-.2zM462.7 261.9l-.7-.3 -.3-.6 .3-1.1 .9 .1 .3 .2 .2 .8 -.5 .9zM476.3 261.9l-.7-.5 -.2-.4 .5-.8 2.3-1 .8 .4 .3 .6 -.3 .8 -.8 .8 -1.7 .1zM512.7 261.9l-.4-.9 .6-.7 .9 .4 .1 1.2 -1 .2zM439.0 261.0l.3 0 -.1 .3zM425.7 254.3l-.6-.9 0-.8 1.3-1.2 .9-.1 .9 2.1 -.1 .9 -.8 .4 -.9 .1zM406.9 250.9l-.2-.9 .2-.3 .9-.4 .5 .7 -.4 .9 -1 0zM400.3 250.0l-.7-.8 .4-.9 1-.4 .8 0 .9 .3 .4 1 -.3 .8 -1 .4 -.8-.1zM465.9 250.0l-.7-.8 .2-.9 2.2-2.5 .7-1.7 1.4-1.2 1.7 .8 1.7-.8 .3-.5 -.2-2.6 .7-.4 .9 .6 .4 .7 .2 .8 -.6 1.1 -1.1 .6 -.6 1.7 -.9 .4 -.8 .7 -1.6 2.3 -.8 .9 -2.7 1zM439.1 249.2l.9-1.5 .6 .6 0 .9 -.6 .7 -.8-.6zM435.7 246.6l.1-.4 .8-.4 .1 .8 -.9 .1zM440.0 245.8l-.4-.9 .4-1.1 .8-.3 .9 .1 .8 .4 .5 .9 -.2 .9 -1.1 .6 -.9 0zM409.4 240.7l.1 0zM415.5 240.7l.8-.1 0 .9zM455.1 233.9l-.3-1.7 -.8-.8 -1.3-.7 -.7-1 -.2-1.7 .4-.9 2.2-.7 1.7 0 1.5 .7 1.9 1.5 .3 1.1 -.3 .8 -.8 .7 -1.7 .2 -.9 2.4 -.8 .3zM426.4 233.1l-.7-.9 -.1-.8 .3-.9 .5-.5 .9 0 .8 .5 .4 .9 0 .8 -.4 .7 -.8 .5 -.9-.3zM412.6 232.2l-1.5-.8 -.4-.9 -.1-1.7 .5-.8 .9-.3 2.6 .8 .8 1.2 -.7 1.7 -.1 1.2 -.9 .1 -.8-.4zM433.9 228.8l-1.5-2.5 -.6-2.6 0-.8 .6-2.6 2.5-1.1 .8 1.1 -.1 3.4 -1.3 3.4 .2 1.7 -.4 .1zM467.1 228.8l-.2-.8 .2-1 .9 .2 .6 .8 -.2 .8 -.4 .3 -.9-.2zM465.2 225.4l0-.8 .2-.4 .5 1.2 -.5 .2zM439.9 222.9l-1-.9 -.5-.8 0-.9 .8-.4 1.6 .4 .4 .9 -.3 1.7 -.9 0zM458.6 222.9l-1.6-1.7 -2.6-.4 -1-.5 -.5-.8 -.1-3.4 .8-1.3 1.7-1.2 1.7 .4 1.7-1.1 .8-.2 .9 .3 .5 .5 -.5 .9 -1.7 1.7 -.7 3.4 .7 1.1 1.5 .6 .3 .8 -.6 .9 -1.2 0zM403.9 213.5l-.8-.8 -.3-.9 -.1-.8 .3-.8 1.4-.8 1.7 .3 .9 .5 .6 .8 .2 .8 -.2 .9 -.7 .9 -.8 .4 -1.7-.2zM427.1 212.7l-.7-.6 -.8-1.4 -1.9-1.4 -.3-.8 .2-.9 .9-.8 1.1-.3 3.4 .6 1.2 1.4 0 .8 -1.3 2.5 -.8 .9 -.8 .1zM454.8 212.7l-.7-.9 .3-.8 .9 .2 .7 1.5 -.7 .8zM395.4 211.0l-.9-.8 .6-.9 1.6-1.1 .9-.2 .9 .5 -.3 .8 -1.5 1.7 -.8 .1zM441.4 206.8l-.4-.9 .5-.8 1-.8 .9 0 1.8 .8 .6 .8 -.2 .9 -.5 .5 -1.7 .3 -1.7-.7zM459.7 206.8l-1.9-1.1 -.6-.6 -.4-.9 -.2-.8 .4-1.2 .8-.5 .9 .1 1.2 .7 .5 2.1 1 1.3 -.5 .9 -.5 .2zM444.0 202.5l0-.8 .2-.4 .9 0 .3 .4 0 .8 -.3 .3 -.9 0zM447.4 200.0l.2-.4 .9-.3 .1 .7 -.1 .4 -.9 0zM504.9 200.0l.4-.3 .2 .3 -.2 .1zM404.7 196.6l.5-1 .9-.1 .5 .2 -.7 .9 -.7 .1zM456.0 193.2l-.8-.9 .9-.6 .3 .6 -.3 .9zM394.5 306.8l-.3-.1 0 .4zM400.1 283.3l1.7 .6 1.7-.4 .9 0 .6-.4 .5-2.6 -.3-.8 -.8-.9 -.9-.3 -1.7 1.1 -2.3 .9 -.7 .9 .1 .8 .9 .9zM404.4 269.7l.6-.2 -.6-.3 -.2 .3zM529.9 230.9l0-7.8 -.2 1.5 -.8 1.7 -.1 .8 .5 2.6 .5 .8zM525.7 227.2l.2-.9 -.2-1 -1.1 1 1 .8zM529.9 222.0l0-4.7 -1.7-.1 -.4 1.4 .3 .9 1.3 1.7zM488.3 218.7l0-.7 -.7 .6zM483.3 215.5l.8 .6 .3-1.7 2.4-2.6 0-.8 -1.9-1.8 -.8 .1 -.8 .9 -.4 4.2 .2 .8zM529.9 215.3l0-6.5 -1.6 .5 -.1 .9 .3 2.5 1.3 1.7 .1 .8zM394.2 191.5l.5-.9 1.2-1 1-1.5 -2.7 0 0 3.4zM463.7 191.2l.4-.6 -.2-.8 1-1.7 -2.4 0 1 1.7 0 .8zM405.2 190.1l1.7 .3 .9-.2 1.1-2.1 -9 0 .4 .8 .7 .6 .8 .1 1.7-.4 1.2 .6zM424.7 189.3l.9 0 1.3-1.2 -7.8 0 .5 .7 1.7 .1 1.7-.3 1.2 .3zM469.7 189.0l.8 .3 2.6 .1 .8-.2 1.8-1.1 -6.8 0 .7 .8zM417.1 188.2l-.4-.1zM493.4 188.2l.3-.1 -.5 0z"/>
<path fill="#20dcff" d="M397.6 323.8l1.5 0 -.7-.2 -.9 .2zM409.5 323.8l5.6 0 1.2-.8 1.6 .5 1.7-1.9 2.6-1.5 2.5-.3 2.6 .1 .7-.3 2-1.7 .4-.9 -1.4-2.3 -.9-.4 -3.4-.2 -2.5 .4 -.9-.6 -1.7-.2 -1.7-1.1 -4.2-.2 -1.7-.8 -4.2-.8 -1.7 .2 -2.6 .8 -2.5 .1 -1.7 .4 -2.6-.6 -2.5-.1 0 1 3.4 .1 1.7 .4 6.8-.8 2.5 .1 4.3 1.1 1.7-.1 3.3 .5 2.6 1.9 3.4 .3 1.1 .9 0 .9 -1.1 .6 -2.6 .4 -2.5 1.3 -3.4 1.3 -.8 .6 -.9 1.2 -.8 .3 -1.7-.1 -1.8 .3zM426.3 317.0l.1-.2 .4 .2 -.4 .2zM435.8 323.4l.5 .4 1.2 0 .5-.8 0-.9 -.4-.8 -1-1.3 -.8-.6 -.9-.2 -.5 .4 .2 1.7 .9 1.7zM442.5 323.8l2.6 0 .4-.8 -.2-.9 -.2-.3 -.9-.2 -1.3 .5 -.4 .5 -.2 .4 .2 .8zM480.7 323.7l5.9 .1 1.7-.8 2.6-.5 .8 .2 1.7 .9 2.6 0 3.4-2.3 .8-.1 2.6 1.3 .8 0 .9-1.2 .3-.9 -.1-.8 -.8-.9 -1.1-.4 -1.7-.1 -1.7 .5 -.9-.1 -2.2-1.6 -3.7-1.7 -.9 .3 -1.7 2.4 -1.7 .9 -.9-.2 -1.6-1.6 -1.7-.5 -.8 0 -1.7 .7 -1.7 .4 -.9 .8 -.8 .4 -1.7-.2 -.9-.4 -1.7-1.4 -2.5-.3 -1.1 .4 -.5 .9 0 1.7 .4 .8 2 1.9 .9 .2 2.5-.2 2.6-.9 1.7 .4 .5 1.2zM483.7 321.3l-1.5-1.7 1.1-.4 1.9 .4 .6 .8 -.8 .9 -.9 .2zM493.5 319.6l.8-.4 .5 .4 -.5 .3zM514.6 323.8l3.9 0 1.1-1.7 1.8-1.3 1.1-1.2 -.3-.9 -.8-.8 -.8-.2 -.9 .1 -.9 .9 -.2 .9 -.4 .8 -1 .4 -.9-.7 -1.7-3.5 -.8-.8 -1.6 2.1 -.3 .8 .5 2.6 1.6 1.7 -.2 .8zM449.3 319.3l.9 .2 .6-.8 .2-.8 -.8-1.9 -1.7-.7 -.9 .1 -.8 .8 .4 .8 1.4 1.7zM462.9 318.8l.3-.1 -.5 0zM431.5 318.0l1.7 .6 .8-.7 .4-1.7 .5-1.1 -.8 .1 -1.7 1 -1.1 .8 -.1 .9zM440.8 318.3l.9 .1 .1-.5 -1-2.1 -1.6 0 -.9-.2 -.6 .6 2.6 1.7zM412.9 290.9l1.7 .5 .8 0 1.2-.7 .4-.8 0-1.7 -.7-1.1 -.9-.1 -2.5 .7 -1.7-.6 -1 .2 -.5 .9 -.1 .8 .2 .9 .5 .4 1.9 .4zM439.2 261.3l.1-.3 -.3 0zM401.0 250.3l.8 .1 1-.4 .3-.8 -.4-1 -.9-.3 -.8 0 -1 .4 -.4 .9 .7 .8zM440.0 222.9l.9 0 .3-1.7 -.4-.9 -1.6-.4 -.8 .4 0 .9 .5 .8 1 .9zM404.4 213.8l1.7 .2 .8-.4 .7-.9 .2-.9 -.2-.8 -.6-.8 -.9-.5 -1.7-.3 -1.4 .8 -.3 .8 .1 .8 .3 .9 .8 .8zM405.2 212.7l-.8-.3 -.5-.6 .1-.8 1.2-.4 .9 .4 .2 .8 -1.1 .9zM444.2 202.8l.9 0 .3-.3 0-.8 -.3-.4 -.9 0 -.2 .4 0 .8zM478.2 198.3l3.4 .1 4.2-1 4.2 .5 2.6-.2 1.7 .6 .8 0 4.3-1.4 .8 .3 .9 1.2 .8 .1 1.7-1.1 1.6-1.7 1.1-1.7 1.5-1.2 .9 0 .6 .4 1.1 1.3 .9 .4 .2 1.7 2.3 1.6 .8 .1 1.7-.9 .5-.8 .1-1.7 .9-1.7 .9-2.6 1-1.6 .1-.9 -10.1 0 .7 .7 .3 1 0 .8 -1 .9 -1.9 0 -2.5 1 -1.7 1.2 -1.7 .2 -1.7 1 -3.4 1 -2.5 .1 -1.1-.3 -.6-.6 -.9-.2 -.8 .8 -1.7 .6 -.9-.2 -1.7-1.3 -2.5 .9 -1.7 .1 -2.5 .8 -.9 0 -1.7-.3 -1.7-.6 -1.4-.8 -.6-.9 .3-.8 1.7-2.1 1.8-3 -1.7 0 -1.8 1.1 -.8 .2 -2.6-.1 -.8-.3 -.8-.9 -4 0 -1 1.7 .2 .8 -.4 .6 -.2-.6 0-.8 -1-1.7 -.7 0 -.2 .8 -.4 .6 -1.7-1.1 -.8-.2 -1.7 1.6 -.2 .8 .2 .3 .8 .2 1 1.2 1.6 1 1.6-.2 .9 .2 .8 1.7 .9 .7 2 .9 .5 .6 .9 .1 .8-.6 1.7-.1 1.7-.4 4.3 1.9 1.6 .2zM470.2 192.3l-.6-.8 .2-.9 1.6-.1 .2 .1 .3 .9 -.5 .7 -.9 .3zM512.8 191.5l1-.3 .8 .2 -.8 .3 -.9-.2zM456.1 193.2l.3-.9 -.3-.6 -.9 .6 .8 .9zM492.6 191.5l.8-.1 1.7 .3 .5-.2 .8-.9 .4-1.3 .9-.3 1.7 .2 .8 .4 .9-.1 .4-.6 1.3-.4 .8 .2 .9 .6 .8-.4 .8-.8 -15.1 0 .5 2.5 .2 .6 .9 .3zM523.1 191.1l.9 .3 .8 0 .6-.8 .2-.8 0-1.7 -1.8 0 -.9 1.7 -.1 .8zM436.6 188.2l1.1-.1 -1.2 0zM480.7 188.2l.9-.1 -1.6 0zM484.1 188.1l-.1 0z"/>
<path fill="#40ff90" d="M395.0 323.8l3.4-.2 3.3 .2 -3.3-.8 -2.5 .5 -1.7 .1 0 .2zM404.4 323.8l8.5-.2 .8-.3 .9-1.2 .8-.6 3.4-1.3 2.5-1.3 2.6-.4 1.1-.6 0-.9 -.9-.8 -3.6-.4 -2.6-1.9 -3.3-.5 -1.7 .1 -3.4-.9 -3.4-.3 -6.8 .8 -1.7-.4 -3.4-.1 0 .9 2.5-.2 2.6 .5 6.8-.5 3.4 .6 2.5 .8 3.4 0 1.7 .3 .8 .6 .9 1.4 .2 .9 -.5 .8 -1.1 .9 -2.8 .9 -1.7 1 -2.6 1.1 -1.7 .3 -2.5 .2 -2.3 .7zM484.1 321.5l.9-.2 .8-.9 -.6-.8 -1.9-.4 -1.1 .4 1.5 1.7zM494.3 319.9l.5-.3 -.5-.4 -.8 .4zM426.4 317.2l.4-.2 -.4-.2 -.1 .2zM405.2 212.7l1.1-.9 -.2-.8 -.9-.4 -1.2 .4 -.1 .8 .5 .6 .8 .3zM479.0 196.6l.9 0 2.5-.8 1.7-.1 2.5-.9 1.7 1.3 .9 .2 1.7-.6 .8-.8 .9 .2 .6 .6 1.1 .3 2.5-.1 3.4-1 1.7-1 1.7-.2 1.7-1.2 2.5-1 1.9 0 1-.9 0-.8 -.3-1 -.7-.7 -3.6 0 -.8 .8 -.8 .4 -.9-.6 -.8-.2 -1.3 .4 -.4 .6 -.9 .1 -.8-.4 -1.7-.2 -.9 .3 -.8 2 -.9 .4 -1.7-.3 -.8 .1 -.9-.3 -.2-.6 -.5-2.5 -13.6 0 -1.8 3 -1.7 2.1 -.3 .8 .6 .9 1.4 .8 3.1 .9zM483.9 193.2l-.6-1.3 -2.1-.4 -1.5-.9 .8-.8 1.9-.2 1.7 .8 1.7 .6 1.7-1.2 .8 .1 .8 .7 .3 .9 -.4 .8 -.7 .3 -1.7-.2 -.8 1 -.9 .3 -.8-.3zM498.3 193.2l-.6-.9 .8-.2 .4 .2 -.4 .9zM477.2 192.3l.1-.3 .9-.1 0 .7 -.9 .2zM470.5 192.5l.9-.3 .5-.7 -.3-.9 -.2-.1 -1.6 .1 -.2 .9 .6 .8zM512.9 191.5l.9 .2 .8-.3 -.8-.2 -1 .3z"/>
<path fill="#d0ff30" d="M395.0 323.6l3.4-.6 3.3 .8 2.1 0 2.3-.7 3.4-.3 3.4-1.3 1.7-1 1.7-.4 2.2-1.4 .5-.8 -.2-.9 -.9-1.4 -.8-.6 -2.5-.5 -2.6 .2 -2.5-.8 -3.4-.6 -6.8 .5 -1.7-.4 -2.6 0 -.8 .1 0 .7 11.9 0 4.2 1.8 4.3-.1 1 .3 1 .8 0 .9 -.3 .3 -3.4 1.8 -1.7-.1 -.9 .5 -.8 1.1 -1.7 .5 -5.1 1.1 -3.4-.6 -3.4 .3 -1.7 0 0 .8zM484.1 193.4l.8 .3 .9-.3 .8-1 1.7 .2 .7-.3 .4-.8 -.3-.9 -.8-.7 -.8-.1 -1.7 1.2 -1.7-.6 -1.7-.8 -1.9 .2 -.8 .8 1.5 .9 2.1 .4 .6 1.3zM498.5 193.2l.4-.9 -.4-.2 -.8 .2 .6 .9zM477.3 192.8l.9-.2 0-.7 -.9 .1 -.1 .3z"/>
<path fill="#ffd000" d="M401.8 323.1l1.7-.1 6-1.5 .8-1.1 .9-.5 1.7 .1 3.4-1.8 .3-.3 0-.9 -1-.8 -1-.3 -4.3 .1 -3.4-1.5 -1.7-.4 -5.1 .2 -3.4-.2 -2.5 .1 0 .8 7.6-.2 4.3 .4 1.7 .8 1.7 1.3 1.5 .6 -4 3.4 -3.5 1 -1.7 0 -2.5-.5 -3.4 .4 -1.7-.2 0 .8 1.7 0 2.5-.4 2.9 .6z"/>
<path fill="#ff7000" d="M395.0 322.1l4.3-.3 3.4 .6 4.2-1.1 .9-.6 3.2-2.8 -1.5-.6 -2.6-1.8 -1.7-.4 -3.4-.3 -7.6 .2 0 .8 6.8-.4 4.2 .6 1.7 .8 .7 1.1 0 .8 -.7 1.1 -.6 .6 -1.8 .9 -1.8 .3 -3.4-.4 -3.4 .2 -1.7-.2 0 .8 .5 .1z"/>
<path fill="#e01000" d="M395.0 321.4l4.3-.2 3.4 .4 1.8-.3 1.8-.9 1.3-1.7 0-.8 -.4-.9 -1.5-.8 -3.9-.8 -7.6 .4 0 1.3 5.1-1 2.7 .1 3 .8 .9 .9 .1 .8 -.8 1.2 -.8 .5 -1.7 .3 -2.6-.3 -4.2 0 -1.7-.4 0 1.2 .2 .1z"/>
<path fill="#a00000" d="M401.0 320.4l1.7 .3 1.7-.3 1.2-.8 .4-.9 -.1-.8 -.9-.9 -4-1 -2.5 .2 -4.3 .9 0 2.9 1.7 .4 4.8 0z"/>
<path fill="none" stroke="#000" stroke-width="0.45" d="M394.2 265.5l.8 .1 .3-.3 1.4-.6 .4 .6 -.8 .8 -2.1 .4M529.9 242.1l-1.3-.6 0-.8 .5-.6 .8-.4M394.2 241.3l1.7-.7 .9 .9 -.9 2 -.9 .2 -.8 0M394.2 215.8l.8 .4 1.2 3.3 -.3 1.1 -1.7 .5M418.8 308.6l-.9-.2 -1.1-.7 -.4-.9 .1-.8 .6-.8 .8-.1 .9 .5 .7 1.2 .4 .9 -.3 .5 -.8 .4M406.1 304.5l-.3-.2 0-.9 1.1-1.7 .9 .2 .7 .7 .1 .8 -1.7 1.1zM413.7 303.7l-.7-.3 -.4-.8 .4-.9 .7-.4 .9 .4 .8 .9 -.2 .8 -.6 .2zM430.7 303.0l-.8-1.3 -1.6-.8 -.2-.8 4.3-.4 .8 .4 .4 .8 0 .8 -.4 .7 -.8 .6 -.9 .2 -.8-.2M419.6 302.0l-1.7-.8 -.5-1.1 -.1-.9 .5-.8 3.5-2.4 2.6 .4 1.2 1.1 .3 .9 -.2 .8 -1.3 1.1 -2.1 .6 -.6 .8 -.7 .4zM411.2 278.4l-1.7-1.5 -.9-.4 -.8-1 .8-.9 1.7 .6 1.7-1.2 .9-.3 .8 0 .9 .9 .1 1.7 -1.3 1.7 -.5 .5 -.9 .2zM496.0 251.1l-.9-.3 -.3-.8 .3-1.4 .9-.8 .8-.3 .9 .5 .4 1.2 -.4 .9 -1 .8zM502.8 229.7l-.2-.9 .5-.8 .5-.5 .9-.1 .6 .6 .2 1.7 -.8 .7 -.9-.1zM494.3 217.8l0-.3 0 .3zM493.4 217.1l-.2-.2 .2-.1 .7 .1zM475.6 213.8l-.8-.3 -.8-.8 0-.9 .8-1.2 .8-.8 .9-.1 1.9 2.1 .2 .9 -.4 .9 -.9 .6 -.8-.1zM427.3 209.4l.1-.1zM486.6 206.8l0-.2 .9 .2 -.9 0M528.2 203.8l-.2-.4 1.1-.5 .8 .5 -.8 .3zM398.4 191.8l-.2-.3 .2-.2 .3 .2zM422.5 323.8l.5-.2 .3 .2M427.7 323.8l.4-.5 .9 .1 .4 .4M522.1 323.8l.2-.2 .5 .2M394.2 307.1l.3-.3 -.3-.1M394.2 297.7l5.1 2.2 .8 .1 .9-.4 1.7-2.1 .8-2.2 .9-1.2 .8-.6 .9 0 1 .6 .7 .9 1.7 .5 .8 .2 2.6-1.6 .9 .9 3.3 .8 .8-.1 1-1.6 .7-.5 1.7-.2 2.6 1 1.7 1.1 3.4 .2 1.7-.2 1.3 1.2 1.2 .2 .9 .6 1.3 1.7 .4 2.5 -.4 1.7 -.8 1.7 -.1 .9 .7 1.7 -.3 .4 -.8 .2 -.9 0 -2.5-.7 -4.3-.3 -2.5-1.9 -1.7 0 -.7 .6 .3 1.7 -.1 .8 -.6 1.7 -.6 .6 -1.7-.6 -2.5-.2 -1.7-.6 -1.1-1.7 -.6-.6 -.9-.2 -3.4-.1 -2.5 1.6 -2.6-.7 -1.3 0 -2.9-1.2 -1.7-.4 -.9 .2 -.7 .5 -.7 1.7 -1.1 .8M529.9 291.2l-1.7 .8 -2.5 1.8 -.9-.5 -1 0 -.1 .8 1.1 .8 .3 .9 -.3 .9 -.8 .4 -.9-.4 -.7-.9 -1-2.5 1.4-2.6 1.2-.9 2.5-1 1.7 .6 1.7-1M529.9 254.2l-.6 .9 .3 1.7 -.5 .8 -3.4 4.5 -.9 .3 -.8-.1 -.6-.4 -.6-.9 -.3-1.7 .3-.8 .9-.9 .5-.8 -.4-1.7 .3-3.4 .5-2.5 1.1-3.4 .8-.4 .3 .4 .8 2.5 .6 .5 1.7 .2M529.9 243.5l-2.5 .1 -.9-.5 -.4-.7 -.5-2.6 2-1.7 .5-.8 .2-1.7 .4-.9 1.2 0M529.9 231.5l-.8 .3 -.9 0 -1.7-1.8 -.8 0 -1.7 1 -.9 .1 -1-.6 -.1-.8 .3-.9 1.3-2.5 -.5-.9 -2.1-1.7 -.3-.8 .7-1.6 2-1 -1-1.7 .4-.8 .7-.9 .1-.8 -.4-1.7 -1.1-.9 -.9-1.7 -.1-.8 .3-.9 .9-.4 1.7 1.6 .8 .4 .9-.7 .4-.8 -.2-.9 -1.1-2.1 -.8-.5 -.9 .3 -1.7-.2 -2.5 1 -1-.2 0-.8 1.5-1.7 .3-.8 .9-1.1 2.5-.1 2.4-1.4 1.9-.2 1.2-.7 .5-2 .8-1.6M529.9 223.1l-.2 1.5 -.8 1.7 -.1 .8 .5 2.6 .6 1.2M529.9 217.3l-1.7-.1 -.4 1.4 .3 .9 1.8 2.5M394.2 213.9l1.7-.7 .8 .2 1.5 3.5 .4 2.6 .7 .9 .8 .3 3.4-1.6 .6-.5 1.1-1.9 .9-.2 1 .4 .7 .6 2.5-.2 1 .5 .3 .8 -.1 .9 -.2 .8 -.8 .9 -1.6 .8 -1.1 1.4 -.9 .1 -.8-.5 -.9 0 -1.3 .7 -2.4 3.4 0 1.7 -.3 .9 -1.1 .2 -1.7-.1 -.8 .7 .1 .9 1 2.5 -.2 2.5 -.8 1.7 1.1 4.3 -.9 2.5 -1.2 .9 -.5 .8 .2 .9 1.8 3.4 .3 1.7 1 1.7 .2 .8 -.5 1.7 -.2 2.5 .3 .9 1.2 1.7 -.2 1.7 .3 1.7 .4 .3 2.5 .2 2.6 2.8 .1 .9 .6 .9 1 .7 .7 1 1 .4 .8-.3 1.4-1.8 1.4-.9 1.5-.4 1.2 .4 1.1 .9 .5 2.5 .5 .7 1.7 .7 .3 .3 .3 .9 -.6 .5 -1.7 .2 -.6 1 -.1 3.3 -.8 .9 -1 .2 -1.7-.4 -1.7 0 -1.7-.4 -.8 .2 -.5 1.2 -1.1 1.7 -1 .5 -1.7-.5 -.8 .9 -.9 .1 -1.7-.9 -.8 .3 -.4 .5 -1.3 .3 -.9-.3 -.8-1.9 -3.4-1.3M529.9 208.8l-1.6 .5 -.1 .9 .3 2.5 1.3 1.7 .1 .9M394.2 191.5l.5-.9 1.8-1.7 .4-.8M399.9 188.1l.4 .8 .7 .6 .8 .1 1.7-.4 1.7 .9 1.7 .3 .9-.2 1.1-2.1M416.7 188.1l.6 0M419.1 188.1l.5 .7 1.7 .1 1.7-.3 .9 .1 .8 .6 .9 0 1.3-1.2M429.5 188.1l.8 1.7 -.1 .8 -.4 .4 -1.7 .7 -.7 .6 -.5 2.6 0 1.7 -1 2.5 0 .9 -.3 .3 -.9 .4 -.8 0 -.9-.4 -1.4-3.7 -1.1-1 -1.7-2.2 -.9-.5 -.8-.1 -1.7 .7 -.7 .5 -.5 .9 -.1 .8 .5 1.7 .1 1.7 .7 1.1 1.5 .6 .4 .9 -.2 .3 -.8 .3 -1.7-.6 -2.6 1.2 -.8 .1 -.9-.2 -1-1.1 -.2-.9 1.2-2.5 -.1-.9 -.7-1.2 -1.3-.5 2.1-.7 1-1 .2-.8 -.3-.9 -.9-.8 -.8-.2 -.9 0 -1.7 1.1 -1.7 1.9 -2 .6 -.2 .8 0 1.7 -.9 2.6 -.2 1.7 -.6 .8 -1.2 .5 -.8-.1 -1.6 1.3 -1 .1 -.8 .4 -.9 .8 -.8 .3M444.2 310.2l-.8-.3 -.6-.5 0-.9 .6-.8 .8-.3 1.2 .3 .6 .8 -.2 .9 -.7 .7 -.8 .1zM502.8 310.4l-.9-.5 -.2-.5 .2-.2 1.2 .2 .5 .9zM457.8 309.4l-2.5-1.7 -.9-.3 -.8 .8 -.9 .4 -.8 .1 -.9-.6 -.2-.4 .6-1.7 .1-2.6 .4-.8 .8 .1 1.7 1.1 1.7 0 1.1 .5 .6 2.7 1.7 1.2 .2 .3 -.2 .7 -1.4 .2zM476.5 309.5l-1.3-1 -1.3-1.8 -1.7-.8 -.8 0 -1.7 .8 -1.7-.1 -1.7 .7 -.9-.3 -2.3-1.9 -.6-2.5 .5-.9 1.6-.5 .8 0 1.7 .9 2.6-.7 2.5 .2 .9 .5 .8 1.4 .9 0 1.7-.6 1.7-.3 -1.7-.4 -1.2-1.3 .1-.8 1.1-1.4 .8-.5 .9 .2 1.7 .8 2.1-.8 1.3-.9 0-2.5 -.6-3.4 .6-.7 1 .7 .3 .8 0 1.7 .6 1.7 0 .9 -.7 2.5 -1.1 1.7 0 .8 .7 1.6 .8 .5 .9-.7 .8-.3 1.7 .1 .3-.3 .1-.9 -.4-.6 -.8-.6 -.9-.1 -.2 .5 -.6 .3 -.2-.3 .2-.5 .8-.4 .7-1.6 1-1.5 .9-.3 .8 1 2.6 .4 1.7 1.2 .8 0 1.1-.8 -.1-2.6 .3-.8 .4-.7 .9-.5 .8 .3 1.7 2.2 .9 .3 1.7-.5 .8-.8 .9 .4 0 .2 -1.2 .8 -.6 1.7 1.9 4.2 -.1 .6 -1.7-.1 -.9 .4 -2.5 2.7 -.9 .5 -.8-.5 -1.7-1.9 -2.6-.5 -.9 .5 -1.5 1.7 .1 1.7 -.9 1.7 -3.6 .2 -.5-.2 -.3-.9 .9-.8 .2-.9 -.2-.8 -.9-.9 -.9-.2 -.2 .2 -3.1 1.1 -.9 .6 -.8 1 -2.6 2.1zM517.2 309.6l-.9-.8 -.6-1.1 -.2-.9 .3-.8 1.4-.5 4.2 0 1 .5 .5 .8 -.1 .9 -.5 1.1 -.9 .6 -3.4 .3zM451.9 301.1l-.8-1 -.1-.9 .6-1.7 .3-.3 .8-.2 1 .5 .4 .9 -.4 1.7 -1 1.1zM510.4 299.9l-.7-.7 -.2-.8 .9-.9 1 .9 .1 .8 -.3 .5zM441.7 297.6l-2.7-.9 -.2-.9 .1-1.7 .6-1.7 .5-.9 .8-.2 .9 .3 1 .8 .1 2.6 1 .8 .5 .9 -.4 .8 -1.4 .2zM468.0 293.5l-.9-.6 -.2-.5 .2-.4 .7 .4 .3 .9zM401.8 292.7l-1-1.1 .2-.9 .8-.8 1.7-.2 .4 .2 .3 .8 -.1 .9 -.6 1.1 -.8 .2zM488.3 289.2l-1.3-1.9 -.5-1.7 -.7-1 -.2-.7 1.3-2.5 -.4-1.7 .8-.9 1.9-.7 1.7 1.8 1.7-.3 .5 .9 -.7 1.7 -.4 1.7 0 .9 .3 .8 -.3 .9 -1.1 .3 -.9-.2 -.8 .7 .7 .9 .3 .8 -1 .5zM433.2 288.3l-1.7-.9 0-.2 5.1-.8 .3 .1 .6 .9 -1.7 .4 -.9 .6 -.8 .1zM503.6 288.3l-.2-1 .1-1.7 -1.5-3.4 -.2-.8 .7-.9 2-.4 1.8 .4 -.1 .9 -1.4 2.5 .1 .9 .4 .5 2.5-1 2.8-.4 2.3-1.4 .9 .5 .2 .9 .6 .9 1.7-.9 .4 1.7 0 .9 -.5 .8 -1.6 1 -.8 .3 -.9-.1 -5.9-1.7 -.8 .1 -1.7 1.3zM400.1 283.3l1.7 .6 1.7-.4 .9 0 .6-.4 .5-2.6 -.3-.8 -.8-.9 -.9-.3 -1.7 1.1 -2.3 .9 -.7 .9 .1 .8 .9 .9zM423.9 281.5l-1.2-1 -.2-.8 .5-.4 .9-.1 .4 .5 .1 .8 -.5 1M461.2 281.5l0-.2 1 .1 -.2 .4 -.8-.3M512.9 281.5l-3.4-3.6 -.5-1.6 .5-1.2 .9-.2 .8 0 1.7 1 1.3 1.3 .4 1.9 1 .6 .1 1.7 -.2 .8 -1.7 0zM525.7 281.5l-2.3-1 0-.8 1.5-1.7 .8-.2 .7 .2 .5 .8 .1 .9 -.2 .8 -.3 .6 -.6 .3zM429.0 280.7l-.9-.4 -.6-.6 0-.9 .3-.8 1.5-1.7 -.2-1.7 .6-1.7 1-1.1 .8-.3 1.7 .6 1 .8 -1 2.6 .3 2.5 0 .8 -1.1 1.1 -2.6 1zM469.7 274.8l-.2-1 1.1-1.7 .3-.9 -.2-1.7 .4-1.7 .3-.4 .8-.4 .6 .8 .2 .9 .7 .8 .2 1.1 -.1 .6 -.9 .9 -1.5 2.4 -.9 .4zM422.2 273.1l-.3-1 .3-1.7 -.2-.9 -1.2-1.7 0-.8 .5-.4 1.7 0 .9-.7 .8-1.3 .9 0 .3 1.5 .4 .9 -.4 .8 -.3 .2 -1.7 0 -.6 .7 .1 .8 .5 1.7 0 .9 -.9 1.2 -.8-.2M498.5 271.2l-1.4-.8 -1.1-1.8 -1.7-.3 -1.7-1.6 -1.7-.2 -1.1-.4 -.8-.8 -.5-1.7 -.2-.9 .3-.8 .6-.6 1.7-.4 1.1-.7 .1-.9 -.8-2.5 -.2-2.5 -.4-1.7 .1-4.3 .2-.8 .9-1.7 -.1-.9 -.8-.8 -1-.1 -1.7 1.4 -.8-.1 -.6-.4 -.5-1.7 -1-1.7 -.5-1.6 -3.4-.1 -.9-.8 -.6-1.7 3.3-1 1.3 .1 .9 .9 -.3 1.7 .2 .8 1.2 .4 .9 .7 .8 0 .9-.4 .6-.7 -.1-.8 -1.6-1.7 0-2.6 1.9-1.6 -2.5-3 -.9-.3 -1.7 .3 -.8-.3 -1.7-1.9 -3.4-2.6 -1.7-.4 -.8 .2 -1.7 1 -1.7 .4 -1.7-.7 -2.1-.4 -.2-.8 .3-.9 -.2-.8 -.8-.9 -3-1.6 -.3-.9 .1-1.7 1.1-.9 .8-.3 .5-.5 .4-1.2 .8-.1 .9 .4 .8 0 1.2-.8 .2-.9 -.5-1.3 -1.3-1.2 -5.1-2.5 -.8-.9 1.4-2.5 0-.9 -.4-.8 .3-.9 .8-.7 .8-.4 .9 .3 1.4 .8 2 .5 2.5 1.5 .9-.4 .8-.9 3.4-1.4 4.3-.9 1.6-.6 .9-.1 .8 .5 1.7 1.8 .9 .3 1.7-.1 1.7-.6 1.7 .3 1.7-.4 2.5 .2 .9-.1 1.7-1 .8-.1 .9 .1 1.4 2.3 2.8 1.7 .8 .3 3.4-.1 .9 .3 .9 1.2 -.2 .8 -.5 1.7 -.5 .9 -1.4 1.5 -.9 .3 -3.3-.7 -3-2 -1.3-1.1 -.8 .1 -.4 1 -1.6 2.5 .8 .9 1.4 .8 -.7 1.7 -.4 .5 -.8-.3 -1.4-1 -.3-.6 -.6 1.4 .1 .9 .9 1.7 .3 1.7 1 1 .7-.2 .2-1.7 .8-1 .8-.1 .9 .5 .4 .6 -.4 1.6 -.9 1 .4 .8 2.2 1 .8-.4 .9-1.4 .1-.9 -.4-1.7 .1-1.7 -2-.8 -.2-.9 1.5-.3 .9 .2 2.5 1.8 .5 .9 1.5 1.7 .4 .8 .2 1.7 .8 .9 .8 .4 1.7 .2 .5 .2 .4 .9 0 .8 -.9 .1 -3.4 2.1 -.4 1.2 .4 1.1 .9 .1 .8-.3 .9-.8 1.5-1.8 .2-1.7 .8-.6 1.2 .6 .7 1.7 -.1 .9 -2.3 2.5 -.2 .9 .7 1.7 1.2 .8 .5 1 -.7 .7 -1 .1 -1.7 1.3 -1.7 .7 -.7 1.3 .3 .8 .9 .9 .4 1.1 1.7-.4 .8 .1 1.6 .9 .2 1.7 -.3 .8 -1.1 .9 -1.2 1.7 -1.7 .7 -.9-.3 -.5-1.3 .2-.8 .5-.9 .1-2.5 -.3-.2 -.8-.2 -.4 .4 .2 1.7 -.7 1 -.8 .3 -.9-.1 -.6-.4 -.2-.8 .3-.9 2.5-1.7 -2-3 -1.7 1.1 -.8 .2 -3.4-1.5 -.8 0 -.9 .7 -1 2.5 -.2 1.7 .4 1 2.4 .7 .2 .9 -.4 .8 .8 1.7 -1.6 1.7 -.3 1.7 -.5 .9 -1.9 1.7 -.4 .8 .1 .9 1 1.6 .1 .9 -.5 .8 -1.5 .9 -.4 .8 .3 .6 .9 .5 .4 .6 -1.3 .7 -1.6 1.9 1.5 1.7 -.1 .8 1.5 2.6 -.2 .8 -.2 .1zM404.4 269.7l.6-.2 -.6-.3 -.2 .3zM504.5 263.2l-.7-.5 -.2-.6 -.8 0 -.9-.4 -.2-.7 .2-.4 .9 .2 .8 1 .9-.1 1 .2 .3 .8 -.5 .7 -.8-.2M462.9 261.9l-.9-.3 -.3-.6 .3-1.1 1.2 .3 .2 .8 -.5 .9M476.5 261.9l-.9-.5 -.2-.4 .5-.8 2.3-1 .8 .4 .3 .6 -.3 .8 -.8 .8 -1.1 .1zM512.9 262.1l-.6-1.1 .6-.7 .9 .4 .1 .3 -.1 1zM426.4 254.8l-.7-.5 -.6-.9 0-.8 1.3-1.2 .9-.1 .9 2.1 -.1 .9 -.8 .4zM406.9 250.9l-.2-.9 .2-.3 .9-.4 .5 .7 -.5 .9zM466.3 250.2l-.9-.6 -.2-.4 .2-.9 2.2-2.5 .7-1.7 1.4-1.2 1.7 .8 1.7-.8 .3-.5 -.2-2.6 .7-.4 .9 .6 .4 .7 .2 .8 -.5 .9 -1.2 .8 -.6 1.7 -.9 .4 -.8 .7 -1.7 2.5 -.9 .8 -2 .7zM439.2 249.3l.8-1.6 .6 .6 0 .9 -.6 .7zM435.8 246.7l0-.5 .8-.4 .1 .8 -.9 .1M440.8 246.4l-.8-.6 -.4-.9 .2-.8 1-.6 .9 .1 .8 .4 .5 .9 -.2 .9 -1.1 .6zM409.5 240.7M416.3 241.5l-.8-.8 .8 0zM455.3 234.1l-.5-1.9 -.8-.8 -1.5-.9 -.7-1.7 0-.8 .4-.9 1.4-.6 1.7-.2 1.7 .4 2.6 2.1 .2 .9 -.3 .8 -.8 .7 -1.7 .2 -1 2.5zM426.4 233.1l-.7-.9 -.1-.8 .3-.9 .5-.5 .9 0 .8 .5 .4 .9 0 .8 -.4 .7 -.8 .5zM412.9 232.3l-1.8-.9 -.4-.9 -.1-1.7 .5-.8 .9-.3 2.6 .8 .8 1.2 -.7 1.7 -.1 1.2 -.9 .1zM434.1 228.9l-1.7-2.6 -.6-2.6 0-.8 .6-2.6 2.5-1.1 .8 1.1 0 2.6 -.3 1.7 -1.1 2.5 .2 1.7zM467.1 228.9l-.2-.9 .2-1 .9 .2 .6 .8 -.2 .8 -.4 .3zM525.7 227.2l.2-.9 -.2-1 -1.1 1 1 .8zM465.4 225.6l-.2-.2 0-.8 .2-.4 .5 1.2zM458.7 222.9l-1.7-1.7 -2.6-.4 -1-.5 -.5-.8 -.2-2.6 .1-.8 .8-1.3 1.7-1.2 1.7 .4 1.7-1.1 .8-.2 .9 .3 .5 .5 -.5 .9 -1.7 1.7 -.7 3.4 .7 1.1 1.5 .6 .2 .2 .1 .6 -.1 .4 -.9 .6zM488.3 218.7l0-.7 -.7 .6zM483.3 215.5l.8 .6 .3-1.7 2.4-2.6 0-.8 -1.9-1.8 -.8 .1 -.8 .9 -.4 4.2 .2 .8zM427.3 212.8l-.9-.7 -.8-1.4 -1.9-1.4 -.3-.8 .5-1.3 .8-.5 .9-.2 3.4 .6 1.2 1.4 0 .8 -.4 .9 -.9 1.6 -.8 .9zM455.3 213.5l-1.2-1.7 .3-.9 .9 .3 .7 1.5 -.7 .8M395.9 211.1l-.9-.3 -.5-.6 .6-.9 1.6-1.1 .9-.2 .9 .5 -.3 .8 -1.5 1.7zM441.7 206.9l-.7-1 .5-.8 1-.8 .9 0 1.8 .8 .6 .8 -.2 .9 -.5 .5 -.9 .3 -1.7-.2zM460.4 207.0l-2.6-1.3 -.8-1 -.4-1.3 .1-.9 .3-.3 .8-.5 1.7 .4 .4 .4 .5 2.1 1 1.3 -.5 .9zM447.6 200.4l-.2-.4 .2-.4 .9-.3 .1 .7 -.1 .4 -.9 0M505.3 200.1l-.4-.1 .4-.3 .2 .3zM405.2 196.7l-.5-.1 .5-1 .9-.1 .5 .2 -.7 .9zM415.1 323.8l1.2-.8 1.6 .5 1.7-1.9 2.6-1.5 2.5-.3 2.6 .1 .8-.4 1.9-1.6 .4-.9 -1.4-2.3 -2.6-.6 -2.5 0 -.9 .4 -.8 0 -.9-.6 -1.7-.2 -1.7-1.1 -4.2-.2 -1.7-.8 -3.4-.8 -1.7 0 -3.4 1 -2.5 .1 -1.7 .4 -2.6-.6 -2.5-.1M437.4 323.8l.6-.8 0-.9 -.4-.8 -1-1.3 -.8-.6 -.9-.2 -.5 .4 .2 1.7 .3 .9 .9 1.2 .5 .4M445.1 323.8l.4-.8 -.2-.9 -.2-.3 -.9-.2 -1.3 .5 -.4 .5 -.2 .4 .2 .8M486.3 323.8l2-.8 2.6-.5 .8 .2 1.7 .9 2.6 0 3.4-2.3 .8-.1 .9 .3 1.7 1 .8 0 .4-.4 .8-1.7 -.1-.8 -1.1-1.1 -2.5-.3 -1.7 .5 -.9-.1 -2.2-1.6 -3.7-1.7 -.9 .3 -1.7 2.4 -1.7 .9 -.9-.2 -1.6-1.6 -1.7-.5 -.8 0 -1.7 .7 -1.7 .4 -.9 .8 -.8 .4 -1.7-.2 -.9-.4 -1.7-1.4 -1.7-.3 -1.7 .2 -.7 1.1 0 1.7 .4 .8 2 1.9 .9 .2 2.5-.2 2.6-.9 .8 .1 1.1 .6 .7 1.7M518.5 323.8l1.1-1.7 2.3-1.7 .6-.8 -.3-.9 -.9-.8 -1.6-.1 -.9 .9 -.2 .9 -.4 .8 -1 .4 -.9-.7 -1.7-3.5 -.8-.8 -1.6 2.1 -.3 .8 .5 2.6 1.6 1.7 -.2 .8M436.5 188.1l1.2 0M461.8 188.1l-.2 .8 -.4 .6 -1.7-1.1 -.8-.2 -1.7 1.6 -.2 .8 1 .5 1 1.2 1.2 .9 1.2 .2 .8-.3 .9 .2 .8 1.7 .9 .7 2 .9 .5 .6 .9 .1 .8-.6 1.7-.1 1.7-.4 4.3 1.9 4.2 .4 5.1-1.1 4.2 .5 2.6-.2 1.7 .6 .8 0 4.3-1.4 .8 .3 .9 1.2 .8 .1 1.7-1.1 1.6-1.7 1.1-1.7 1.5-1.2 .9 0 .6 .4 1.1 1.3 .9 .4 .2 1.7 2.3 1.6 .8 .1 1.7-.9 .5-.8 .1-1.7 .9-1.7 .9-2.6 1-1.6 .1-.9M464.9 188.1l-1 1.7 .2 .8 -.4 .6 -.2-.6 0-.8 -1-1.7M475.7 188.1l-1.8 1.1 -.8 .2 -2.6-.1 -.8-.3 -.8-.9M493.7 188.1l-.5 0M523.8 188.1l-.9 1.7 -.1 .8 1.2 .8 .8 0 .6-.8 .2-.8 0-1.7M449.3 319.3l.9 .2 .6-.8 .2-.8 -.8-1.9 -1.7-.7 -.9 .1 -.8 .8 .4 .8 1.4 1.7zM462.9 318.8l.3-.1 -.5 0zM431.5 318.0l1.7 .6 .8-.7 .4-1.7 .5-1.1 -.8 .1 -1.7 1 -1.1 .8 -.1 .9zM440.8 318.3l.9 .1 .1-.5 -1-2.1 -1.6 0 -.9-.2 -.6 .6 2.6 1.7zM412.9 290.9l1.7 .5 .8 0 1.2-.7 .4-.8 0-1.7 -.7-1.1 -.9-.1 -2.5 .7 -1.7-.6 -1 .2 -.5 .9 -.1 .8 .2 .9 .5 .4 1.9 .4zM439.2 261.3l.1-.3 -.3 0zM401.0 250.3l.8 .1 1-.4 .3-.8 -.4-1 -.9-.3 -.8 0 -1 .4 -.4 .9 .7 .8zM440.0 222.9l.9 0 .3-1.7 -.4-.9 -1.6-.4 -.8 .4 0 .9 .5 .8 1 .9zM404.4 213.8l1.7 .2 .8-.4 .7-.9 .2-.9 -.2-.8 -.6-.8 -.9-.5 -1.7-.3 -1.4 .8 -.3 .8 .1 .8 .3 .9 .8 .8zM444.2 202.8l.9 0 .3-.3 0-.8 -.3-.4 -.9 0 -.2 .4 0 .8zM456.1 193.2l.3-.9 -.3-.6 -.9 .6 .8 .9zM397.5 323.8l.9-.2 .7 .2M409.4 323.8l1.8-.3 1.7 .1 .8-.3 .9-1.2 .8-.6 3.4-1.3 2.5-1.3 2.6-.4 1.1-.6 0-.9 -.9-.8 -3.6-.4 -2.6-1.9 -.8-.2 -2.5-.3 -1.7 .1 -4.3-1.1 -2.5-.1 -6.8 .8 -1.7-.4 -3.4-.1M477.4 188.1l-1.8 3 -1.7 2.1 -.3 .8 .6 .9 1.4 .8 1.7 .6 1.7 .3 .9 0 2.5-.8 1.7-.1 2.5-.9 1.7 1.3 .9 .2 1.7-.6 .8-.8 .9 .2 .6 .6 1.1 .3 2.5-.1 3.4-1 1.7-1 1.7-.2 1.7-1.2 2.5-1 1.9 0 1-.9 0-.8 -.3-1 -.7-.7M481.6 188.1l-1.6 0M484.1 188.1l-.1 0M506.1 188.1l-.8 .8 -.8 .4 -.9-.6 -.8-.2 -1.3 .4 -.4 .6 -.9 .1 -.8-.4 -1.7-.2 -.9 .3 -.8 2 -.9 .4 -1.7-.3 -.8 .1 -.9-.3 -.2-.6 -.5-2.5M484.1 321.5l.9-.2 .8-.9 -.6-.8 -1.9-.4 -1.1 .4 1.5 1.7zM494.3 319.9l.5-.3 -.5-.4 -.8 .4zM426.4 317.2l.4-.2 -.4-.2 -.1 .2zM405.2 212.7l1.1-.9 -.2-.8 -.9-.4 -1.2 .4 -.1 .8 .5 .6 .8 .3zM470.5 192.5l.9-.3 .5-.7 -.3-.9 -.2-.1 -1.6 .1 -.2 .9 .6 .8zM512.9 191.5l.9 .2 .8-.3 -.8-.2 -1 .3zM394.2 323.6l1.7-.1 2.5-.5 3.3 .8M403.8 323.8l2.3-.7 2.5-.2 1.7-.3 2.6-1.1 1.7-1 2.8-.9 1.1-.9 .5-.8 -.2-.9 -.9-1.4 -.8-.6 -1.7-.3 -3.4 0 -2.5-.8 -3.4-.6 -6.8 .5 -2.6-.5 -2.5 .2M484.1 193.4l.8 .3 .9-.3 .8-1 1.7 .2 .7-.3 .4-.8 -.3-.9 -.8-.7 -.8-.1 -1.7 1.2 -1.7-.6 -1.7-.8 -1.9 .2 -.8 .8 1.5 .9 2.1 .4 .6 1.3zM498.5 193.2l.4-.9 -.4-.2 -.8 .2 .6 .9zM477.3 192.8l.9-.2 0-.7 -.9 .1 -.1 .3zM394.2 322.8l1.7 0 3.4-.3 3.4 .6 5.9-1.3 .9-.3 .8-1.1 .9-.5 1.7 .1 3.4-1.8 .3-.3 0-.9 -1-.8 -1-.3 -4.3 .1 -4.2-1.8 -11.9 0M394.2 322.0l1.7 .2 3.4-.4 2.5 .5 1.7 0 3.5-1 4-3.4 -1.5-.6 -2.6-1.8 -1.7-.4 -3.4-.3 -7.6 .2M394.2 321.2l1.7 .2 3.4-.2 3.4 .4 1.7-.3 1.9-.9 .6-.6 .7-1.1 0-.8 -.4-.9 -1.1-.7 -4.3-.9 -7.6 .4M394.2 320.0l1.7 .4 7.6 .2 .9-.2 .8-.5 .8-1.2 -.1-.8 -.9-.9 -3.2-.9 -2.5 0 -5.1 1"/>
</g>
<rect x="394.20" y="188.10" width="135.70" height="135.70" fill="none" stroke="#333" stroke-width="0.4"/>
<text x="462.05" y="186.13" font-family="Liberation Sans, Arial, sans-serif" font-weight="bold" font-size="4.48" text-anchor="middle" fill="#000" stroke="#000" stroke-width="0.12">Error Distribution Using the Modified Interpolation Algorithm</text>
<text x="392.57" y="325.08" font-family="Liberation Serif, Times New Roman, serif" font-size="3.66" text-anchor="end" fill="#666">0</text>
<text x="394.20" y="328.55" font-family="Liberation Serif, Times New Roman, serif" font-size="3.66" text-anchor="middle" fill="#666">0</text>
<text x="392.57" y="297.94" font-family="Liberation Serif, Times New Roman, serif" font-size="3.66" text-anchor="end" fill="#666">2,000</text>
<text x="421.34" y="328.55" font-family="Liberation Serif, Times New Roman, serif" font-size="3.66" text-anchor="middle" fill="#666">2,000</text>
<text x="392.57" y="270.80" font-family="Liberation Serif, Times New Roman, serif" font-size="3.66" text-anchor="end" fill="#666">4,000</text>
<text x="448.48" y="328.55" font-family="Liberation Serif, Times New Roman, serif" font-size="3.66" text-anchor="middle" fill="#666">4,000</text>
<text x="392.57" y="243.66" font-family="Liberation Serif, Times New Roman, serif" font-size="3.66" text-anchor="end" fill="#666">6,000</text>
<text x="475.62" y="328.55" font-family="Liberation Serif, Times New Roman, serif" font-size="3.66" text-anchor="middle" fill="#666">6,000</text>
<text x="392.57" y="216.52" font-family="Liberation Serif, Times New Roman, serif" font-size="3.66" text-anchor="end" fill="#666">8,000</text>
<text x="502.76" y="328.55" font-family="Liberation Serif, Times New Roman, serif" font-size="3.66" text-anchor="middle" fill="#666">8,000</text>
<text x="392.57" y="189.38" font-family="Liberation Serif, Times New Roman, serif" font-size="3.66" text-anchor="end" fill="#666">10,000</text>
<text x="529.90" y="328.55" font-family="Liberation Serif, Times New Roman, serif" font-size="3.66" text-anchor="middle" fill="#666">10,000</text>
<text x="462.05" y="334.25" font-family="Liberation Serif, Times New Roman, serif" font-size="3.85" text-anchor="middle" fill="#555">X/meters</text>
<text transform="translate(380.77 255.95) rotate(-90)" font-family="Liberation Serif, Times New Roman, serif" font-size="3.85" text-anchor="middle" fill="#555">Y/meters</text>
<rect x="537.70" y="188.10" width="4.00" height="135.70" fill="url(#jetg)"/>
<text x="539.70" y="186.47" font-family="Liberation Serif, Times New Roman, serif" font-size="3.30" text-anchor="middle" fill="#888">(nT)</text>
<text x="543.33" y="189.20" font-family="Liberation Serif, Times New Roman, serif" font-size="2.93" fill="#999">8</text>
<text x="543.33" y="202.09" font-family="Liberation Serif, Times New Roman, serif" font-size="2.93" fill="#999">6</text>
<text x="543.33" y="214.98" font-family="Liberation Serif, Times New Roman, serif" font-size="2.93" fill="#999">4</text>
<text x="543.33" y="227.87" font-family="Liberation Serif, Times New Roman, serif" font-size="2.93" fill="#999">2</text>
<text x="543.33" y="240.77" font-family="Liberation Serif, Times New Roman, serif" font-size="2.93" fill="#999">0</text>
<text x="543.33" y="253.66" font-family="Liberation Serif, Times New Roman, serif" font-size="2.93" fill="#999">-2</text>
<text x="543.33" y="266.55" font-family="Liberation Serif, Times New Roman, serif" font-size="2.93" fill="#999">-4</text>
<text x="543.33" y="279.44" font-family="Liberation Serif, Times New Roman, serif" font-size="2.93" fill="#999">-6</text>
<text x="543.33" y="292.33" font-family="Liberation Serif, Times New Roman, serif" font-size="2.93" fill="#999">-8</text>
<text x="543.33" y="305.22" font-family="Liberation Serif, Times New Roman, serif" font-size="2.93" fill="#999">-10</text>
<text x="463.30" y="351.00" font-family="Liberation Serif, Times New Roman, serif" font-weight="bold" font-size="9.6" text-anchor="middle" fill="#000">(f)</text>
</svg>
</body></html>
